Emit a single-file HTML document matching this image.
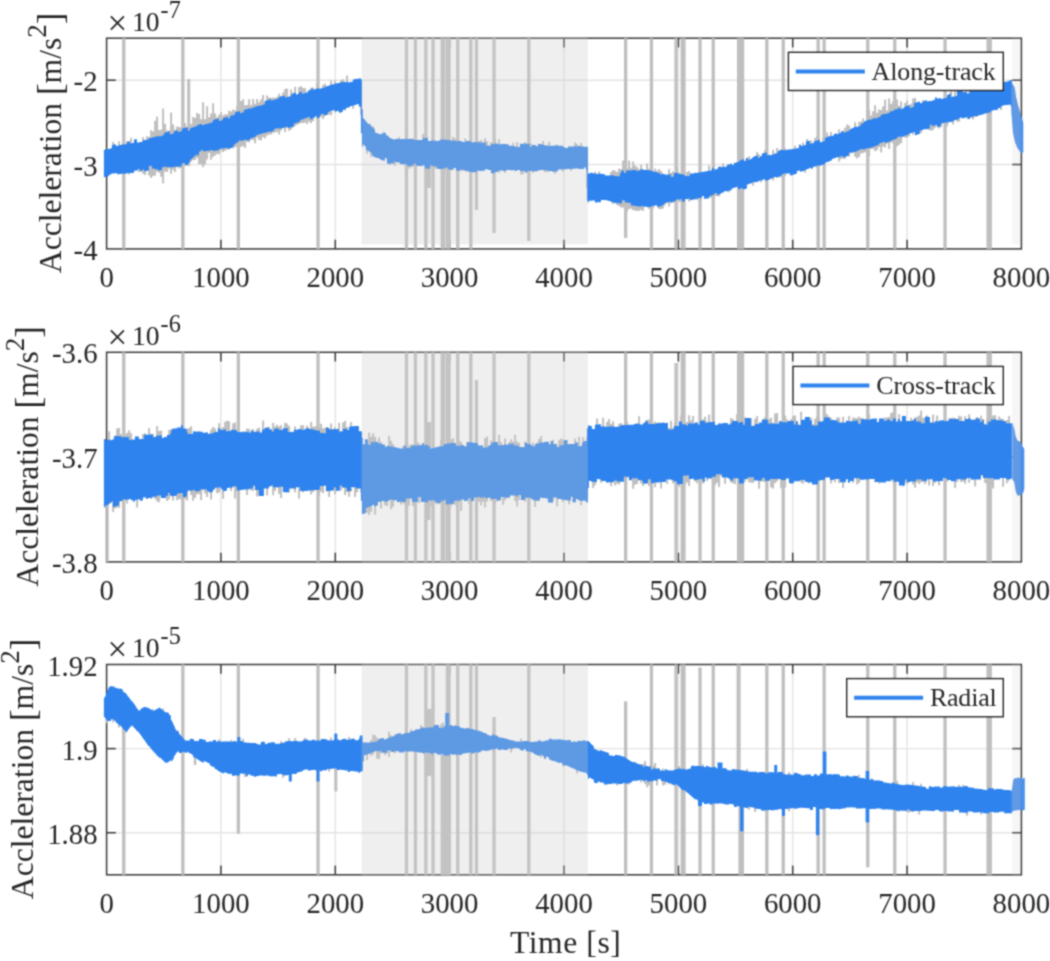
<!DOCTYPE html>
<html lang="en"><head><meta charset="utf-8"><title>Acceleration</title>
<style>html,body{margin:0;padding:0;background:#fff}svg{display:block}</style></head>
<body>
<svg width="1050" height="961" viewBox="0 0 1050 961" font-family="'Liberation Serif', 'Times New Roman', serif" fill="#262626">
<defs><filter id="soft" x="0" y="0" width="100%" height="100%" filterUnits="userSpaceOnUse" color-interpolation-filters="sRGB"><feConvolveMatrix order="3" kernelMatrix="1 2 1 2 6 2 1 2 1" divisor="18" edgeMode="duplicate" preserveAlpha="true"/></filter></defs>
<g filter="url(#soft)">
<rect width="1050" height="961" fill="#fff"/>
<g>
<line x1="220.9" x2="220.9" y1="38.2" y2="248.9" stroke="#E4E4E4" stroke-width="1.4"/>
<line x1="335.3" x2="335.3" y1="38.2" y2="248.9" stroke="#E4E4E4" stroke-width="1.4"/>
<line x1="449.6" x2="449.6" y1="38.2" y2="248.9" stroke="#E4E4E4" stroke-width="1.4"/>
<line x1="564.0" x2="564.0" y1="38.2" y2="248.9" stroke="#E4E4E4" stroke-width="1.4"/>
<line x1="678.4" x2="678.4" y1="38.2" y2="248.9" stroke="#E4E4E4" stroke-width="1.4"/>
<line x1="792.7" x2="792.7" y1="38.2" y2="248.9" stroke="#E4E4E4" stroke-width="1.4"/>
<line x1="907.1" x2="907.1" y1="38.2" y2="248.9" stroke="#E4E4E4" stroke-width="1.4"/>
<line x1="106.6" x2="1021.4" y1="80.2" y2="80.2" stroke="#E4E4E4" stroke-width="1.4"/>
<line x1="106.6" x2="1021.4" y1="164.5" y2="164.5" stroke="#E4E4E4" stroke-width="1.4"/>
<rect x="106.6" y="38.2" width="914.8" height="210.7" fill="none" stroke="#3a3a3a" stroke-width="1.5"/>
<line x1="220.9" x2="220.9" y1="248.9" y2="239.7" stroke="#3a3a3a" stroke-width="1.5"/>
<line x1="220.9" x2="220.9" y1="38.2" y2="47.4" stroke="#3a3a3a" stroke-width="1.5"/>
<line x1="335.3" x2="335.3" y1="248.9" y2="239.7" stroke="#3a3a3a" stroke-width="1.5"/>
<line x1="335.3" x2="335.3" y1="38.2" y2="47.4" stroke="#3a3a3a" stroke-width="1.5"/>
<line x1="449.6" x2="449.6" y1="248.9" y2="239.7" stroke="#3a3a3a" stroke-width="1.5"/>
<line x1="449.6" x2="449.6" y1="38.2" y2="47.4" stroke="#3a3a3a" stroke-width="1.5"/>
<line x1="564.0" x2="564.0" y1="248.9" y2="239.7" stroke="#3a3a3a" stroke-width="1.5"/>
<line x1="564.0" x2="564.0" y1="38.2" y2="47.4" stroke="#3a3a3a" stroke-width="1.5"/>
<line x1="678.4" x2="678.4" y1="248.9" y2="239.7" stroke="#3a3a3a" stroke-width="1.5"/>
<line x1="678.4" x2="678.4" y1="38.2" y2="47.4" stroke="#3a3a3a" stroke-width="1.5"/>
<line x1="792.7" x2="792.7" y1="248.9" y2="239.7" stroke="#3a3a3a" stroke-width="1.5"/>
<line x1="792.7" x2="792.7" y1="38.2" y2="47.4" stroke="#3a3a3a" stroke-width="1.5"/>
<line x1="907.1" x2="907.1" y1="248.9" y2="239.7" stroke="#3a3a3a" stroke-width="1.5"/>
<line x1="907.1" x2="907.1" y1="38.2" y2="47.4" stroke="#3a3a3a" stroke-width="1.5"/>
<line x1="106.6" x2="115.8" y1="80.2" y2="80.2" stroke="#3a3a3a" stroke-width="1.5"/>
<line x1="1021.4" x2="1012.2" y1="80.2" y2="80.2" stroke="#3a3a3a" stroke-width="1.5"/>
<line x1="106.6" x2="115.8" y1="164.5" y2="164.5" stroke="#3a3a3a" stroke-width="1.5"/>
<line x1="1021.4" x2="1012.2" y1="164.5" y2="164.5" stroke="#3a3a3a" stroke-width="1.5"/>
<rect x="122.1" y="38.2" width="3.3" height="210.7" fill="#BFBFBF"/>
<rect x="181.2" y="38.2" width="3.3" height="210.7" fill="#BFBFBF"/>
<rect x="236.7" y="38.2" width="3.3" height="210.7" fill="#BFBFBF"/>
<rect x="316.4" y="38.2" width="3.3" height="210.7" fill="#BFBFBF"/>
<rect x="404.8" y="38.2" width="3.3" height="210.7" fill="#BFBFBF"/>
<rect x="413.8" y="38.2" width="3.3" height="210.7" fill="#BFBFBF"/>
<rect x="424.2" y="38.2" width="3.3" height="210.7" fill="#BFBFBF"/>
<rect x="431.4" y="38.2" width="3.3" height="210.7" fill="#BFBFBF"/>
<rect x="440.6" y="38.2" width="4.8" height="210.7" fill="#BFBFBF"/>
<rect x="445.8" y="38.2" width="4.8" height="210.7" fill="#BFBFBF"/>
<rect x="456.1" y="38.2" width="3.3" height="210.7" fill="#BFBFBF"/>
<rect x="469.2" y="38.2" width="3.3" height="210.7" fill="#BFBFBF"/>
<rect x="474.8" y="38.2" width="3.3" height="171.8" fill="#BFBFBF"/>
<rect x="492.4" y="38.2" width="3.3" height="194.8" fill="#BFBFBF"/>
<rect x="527.2" y="38.2" width="3.3" height="202.8" fill="#BFBFBF"/>
<rect x="624.0" y="38.2" width="3.3" height="199.8" fill="#BFBFBF"/>
<rect x="649.8" y="38.2" width="3.3" height="210.7" fill="#BFBFBF"/>
<rect x="674.4" y="38.2" width="3.3" height="210.7" fill="#BFBFBF"/>
<rect x="680.6" y="38.2" width="5.0" height="210.7" fill="#BFBFBF"/>
<rect x="698.4" y="38.2" width="3.3" height="210.7" fill="#BFBFBF"/>
<rect x="711.6" y="38.2" width="3.3" height="210.7" fill="#BFBFBF"/>
<rect x="737.0" y="38.2" width="7.2" height="210.7" fill="#BFBFBF"/>
<rect x="765.2" y="38.2" width="3.3" height="210.7" fill="#BFBFBF"/>
<rect x="781.6" y="38.2" width="3.3" height="210.7" fill="#BFBFBF"/>
<rect x="816.5" y="38.2" width="3.3" height="210.7" fill="#BFBFBF"/>
<rect x="822.5" y="38.2" width="3.3" height="210.7" fill="#BFBFBF"/>
<rect x="866.1" y="38.2" width="3.3" height="210.7" fill="#BFBFBF"/>
<rect x="893.1" y="38.2" width="3.3" height="210.7" fill="#BFBFBF"/>
<rect x="943.4" y="38.2" width="3.3" height="210.7" fill="#BFBFBF"/>
<rect x="986.5" y="38.2" width="5.4" height="210.7" fill="#BFBFBF"/>
<rect x="187.2" y="79.0" width="3.0" height="71.0" fill="#BFBFBF"/>
<rect x="424.9" y="150.0" width="6.0" height="38.0" fill="#BFBFBF"/>
<polygon points="106.1,151.1 108.1,151.1 108.1,150.6 110.1,150.6 110.1,150.0 112.1,150.0 112.1,141.8 114.1,141.8 114.1,149.0 116.1,149.0 116.1,148.4 118.1,148.4 118.1,141.3 120.1,141.3 120.1,147.3 122.1,147.3 122.1,146.8 124.1,146.8 124.1,146.3 126.1,146.3 126.1,141.2 128.1,141.2 128.1,141.1 130.1,141.1 130.1,137.8 132.1,137.8 132.1,145.0 134.1,145.0 134.1,144.7 136.1,144.7 136.1,144.4 138.1,144.4 138.1,144.1 140.1,144.1 140.1,143.8 142.1,143.8 142.1,137.3 144.1,137.3 144.1,143.2 146.1,143.2 146.1,136.2 148.1,136.2 148.1,136.9 150.1,136.9 150.1,130.2 152.1,130.2 152.1,131.6 154.1,131.6 154.1,120.8 156.1,120.8 156.1,116.6 158.1,116.6 158.1,130.1 160.1,130.1 160.1,129.8 162.1,129.8 162.1,108.4 164.1,108.4 164.1,123.8 166.1,123.8 166.1,130.4 168.1,130.4 168.1,130.4 170.1,130.4 170.1,112.6 172.1,112.6 172.1,124.4 174.1,124.4 174.1,129.7 176.1,129.7 176.1,126.6 178.1,126.6 178.1,126.9 180.1,126.9 180.1,127.4 182.1,127.4 182.1,123.1 184.1,123.1 184.1,122.9 186.1,122.9 186.1,127.2 188.1,127.2 188.1,126.4 190.1,126.4 190.1,124.1 192.1,124.1 192.1,117.1 194.1,117.1 194.1,117.9 196.1,117.9 196.1,112.9 198.1,112.9 198.1,114.0 200.1,114.0 200.1,119.2 202.1,119.2 202.1,102.3 204.1,102.3 204.1,119.2 206.1,119.2 206.1,106.2 208.1,106.2 208.1,117.3 210.1,117.3 210.1,113.4 212.1,113.4 212.1,103.2 214.1,103.2 214.1,113.4 216.1,113.4 216.1,117.2 218.1,117.2 218.1,114.7 220.1,114.7 220.1,111.9 222.1,111.9 222.1,115.6 224.1,115.6 224.1,114.3 226.1,114.3 226.1,114.4 228.1,114.4 228.1,110.7 230.1,110.7 230.1,111.4 232.1,111.4 232.1,109.5 234.1,109.5 234.1,110.5 236.1,110.5 236.1,106.2 238.1,106.2 238.1,109.8 240.1,109.8 240.1,100.9 242.1,100.9 242.1,99.3 244.1,99.3 244.1,105.3 246.1,105.3 246.1,104.9 248.1,104.9 248.1,99.2 250.1,99.2 250.1,105.0 252.1,105.0 252.1,99.0 254.1,99.0 254.1,103.7 256.1,103.7 256.1,99.1 258.1,99.1 258.1,102.2 260.1,102.2 260.1,99.3 262.1,99.3 262.1,94.9 264.1,94.9 264.1,101.3 266.1,101.3 266.1,95.5 268.1,95.5 268.1,97.6 270.1,97.6 270.1,98.1 272.1,98.1 272.1,97.6 274.1,97.6 274.1,97.9 276.1,97.9 276.1,96.7 278.1,96.7 278.1,93.8 280.1,93.8 280.1,95.9 282.1,95.9 282.1,92.4 284.1,92.4 284.1,89.1 286.1,89.1 286.1,88.5 288.1,88.5 288.1,98.8 290.1,98.8 290.1,89.4 292.1,89.4 292.1,92.8 294.1,92.8 294.1,86.8 296.1,86.8 296.1,96.8 298.1,96.8 298.1,86.9 300.1,86.9 300.1,86.3 302.1,86.3 302.1,88.0 304.1,88.0 304.1,88.3 306.1,88.3 306.1,94.3 308.1,94.3 308.1,93.7 310.1,93.7 310.1,87.7 312.1,87.7 312.1,87.6 314.1,87.6 314.1,91.9 316.1,91.9 316.1,82.8 318.1,82.8 318.1,90.7 320.1,90.7 320.1,90.1 322.1,90.1 322.1,84.8 324.1,84.8 324.1,83.8 326.1,83.8 326.1,88.3 328.1,88.3 328.1,87.7 330.1,87.7 330.1,80.5 332.1,80.5 332.1,86.7 334.1,86.7 334.1,80.6 336.1,80.6 336.1,85.9 338.1,85.9 338.1,85.5 340.1,85.5 340.1,80.0 342.1,80.0 342.1,79.2 344.1,79.2 344.1,84.3 346.1,84.3 346.1,75.6 348.1,75.6 348.1,83.5 350.1,83.5 350.1,83.1 352.1,83.1 352.1,82.7 354.1,82.7 354.1,82.3 356.1,82.3 356.1,81.9 358.1,81.9 358.1,81.7 360.1,81.7 360.1,82.1 362.1,82.1 362.1,121.0 364.1,121.0 364.1,123.5 366.1,123.5 366.1,125.9 368.1,125.9 368.1,127.9 370.1,127.9 370.1,129.5 372.1,129.5 372.1,126.2 374.1,126.2 374.1,132.8 376.1,132.8 376.1,133.9 378.1,133.9 378.1,134.6 380.1,134.6 380.1,135.4 382.1,135.4 382.1,136.2 384.1,136.2 384.1,137.0 386.1,137.0 386.1,137.8 388.1,137.8 388.1,138.6 390.1,138.6 390.1,139.4 392.1,139.4 392.1,140.2 394.1,140.2 394.1,140.9 396.1,140.9 396.1,141.4 398.1,141.4 398.1,136.9 400.1,136.9 400.1,141.6 402.1,141.6 402.1,141.7 404.1,141.7 404.1,141.8 406.1,141.8 406.1,134.3 408.1,134.3 408.1,142.0 410.1,142.0 410.1,142.1 412.1,142.1 412.1,142.2 414.1,142.2 414.1,142.3 416.1,142.3 416.1,142.4 418.1,142.4 418.1,142.5 420.1,142.5 420.1,142.5 422.1,142.5 422.1,134.0 424.1,134.0 424.1,135.8 426.1,135.8 426.1,137.1 428.1,137.1 428.1,142.4 430.1,142.4 430.1,142.4 432.1,142.4 432.1,137.7 434.1,137.7 434.1,142.3 436.1,142.3 436.1,142.3 438.1,142.3 438.1,142.3 440.1,142.3 440.1,142.4 442.1,142.4 442.1,142.6 444.1,142.6 444.1,142.8 446.1,142.8 446.1,143.0 448.1,143.0 448.1,143.2 450.1,143.2 450.1,143.4 452.1,143.4 452.1,137.0 454.1,137.0 454.1,138.5 456.1,138.5 456.1,143.9 458.1,143.9 458.1,144.1 460.1,144.1 460.1,144.3 462.1,144.3 462.1,144.5 464.1,144.5 464.1,138.6 466.1,138.6 466.1,144.9 468.1,144.9 468.1,145.1 470.1,145.1 470.1,145.3 472.1,145.3 472.1,145.5 474.1,145.5 474.1,145.7 476.1,145.7 476.1,140.7 478.1,140.7 478.1,141.1 480.1,141.1 480.1,140.0 482.1,140.0 482.1,146.2 484.1,146.2 484.1,138.2 486.1,138.2 486.1,141.3 488.1,141.3 488.1,146.4 490.1,146.4 490.1,142.0 492.1,142.0 492.1,146.6 494.1,146.6 494.1,138.4 496.1,138.4 496.1,146.7 498.1,146.7 498.1,139.2 500.1,139.2 500.1,146.9 502.1,146.9 502.1,147.0 504.1,147.0 504.1,147.0 506.1,147.0 506.1,147.1 508.1,147.1 508.1,147.2 510.1,147.2 510.1,147.3 512.1,147.3 512.1,142.8 514.1,142.8 514.1,147.4 516.1,147.4 516.1,142.1 518.1,142.1 518.1,147.6 520.1,147.6 520.1,147.7 522.1,147.7 522.1,147.7 524.1,147.7 524.1,142.0 526.1,142.0 526.1,147.9 528.1,147.9 528.1,148.0 530.1,148.0 530.1,143.5 532.1,143.5 532.1,148.1 534.1,148.1 534.1,148.2 536.1,148.2 536.1,148.3 538.1,148.3 538.1,148.4 540.1,148.4 540.1,148.4 542.1,148.4 542.1,140.9 544.1,140.9 544.1,148.6 546.1,148.6 546.1,148.7 548.1,148.7 548.1,141.7 550.1,141.7 550.1,148.8 552.1,148.8 552.1,148.9 554.1,148.9 554.1,149.0 556.1,149.0 556.1,144.4 558.1,144.4 558.1,149.1 560.1,149.1 560.1,149.2 562.1,149.2 562.1,149.3 564.1,149.3 564.1,149.4 566.1,149.4 566.1,149.5 568.1,149.5 568.1,149.5 570.1,149.5 570.1,149.6 572.1,149.6 572.1,149.7 574.1,149.7 574.1,142.5 576.1,142.5 576.1,144.0 578.1,144.0 578.1,149.9 580.1,149.9 580.1,143.1 582.1,143.1 582.1,149.5 584.1,149.5 584.1,149.0 586.1,149.0 586.1,148.9 588.1,148.9 588.1,175.7 590.1,175.7 590.1,175.7 592.1,175.7 592.1,175.9 594.1,175.9 594.1,171.7 596.1,171.7 596.1,176.5 598.1,176.5 598.1,171.6 600.1,171.6 600.1,177.1 602.1,177.1 602.1,177.4 604.1,177.4 604.1,177.7 606.1,177.7 606.1,177.9 608.1,177.9 608.1,177.9 610.1,177.9 610.1,171.7 612.1,171.7 612.1,169.9 614.1,169.9 614.1,170.8 616.1,170.8 616.1,171.9 618.1,171.9 618.1,168.8 620.1,168.8 620.1,168.9 622.1,168.9 622.1,160.5 624.1,160.5 624.1,167.9 626.1,167.9 626.1,168.6 628.1,168.6 628.1,160.4 630.1,160.4 630.1,167.7 632.1,167.7 632.1,161.6 634.1,161.6 634.1,165.6 636.1,165.6 636.1,167.0 638.1,167.0 638.1,169.3 640.1,169.3 640.1,164.8 642.1,164.8 642.1,169.4 644.1,169.4 644.1,174.3 646.1,174.3 646.1,163.5 648.1,163.5 648.1,168.8 650.1,168.8 650.1,169.8 652.1,169.8 652.1,175.3 654.1,175.3 654.1,168.5 656.1,168.5 656.1,170.7 658.1,170.7 658.1,169.0 660.1,169.0 660.1,171.1 662.1,171.1 662.1,177.2 664.1,177.2 664.1,177.8 666.1,177.8 666.1,178.4 668.1,178.4 668.1,169.2 670.1,169.2 670.1,173.0 672.1,173.0 672.1,171.3 674.1,171.3 674.1,177.2 676.1,177.2 676.1,167.0 678.1,167.0 678.1,172.3 680.1,172.3 680.1,177.0 682.1,177.0 682.1,177.0 684.1,177.0 684.1,177.0 686.1,177.0 686.1,172.1 688.1,172.1 688.1,171.0 690.1,171.0 690.1,177.0 692.1,177.0 692.1,177.0 694.1,177.0 694.1,176.5 696.1,176.5 696.1,175.9 698.1,175.9 698.1,175.3 700.1,175.3 700.1,174.8 702.1,174.8 702.1,174.5 704.1,174.5 704.1,174.2 706.1,174.2 706.1,173.9 708.1,173.9 708.1,165.6 710.1,165.6 710.1,173.3 712.1,173.3 712.1,173.0 714.1,173.0 714.1,172.5 716.1,172.5 716.1,171.9 718.1,171.9 718.1,171.3 720.1,171.3 720.1,170.7 722.1,170.7 722.1,163.6 724.1,163.6 724.1,169.5 726.1,169.5 726.1,168.9 728.1,168.9 728.1,168.3 730.1,168.3 730.1,167.6 732.1,167.6 732.1,167.0 734.1,167.0 734.1,166.4 736.1,166.4 736.1,165.7 738.1,165.7 738.1,165.1 740.1,165.1 740.1,164.4 742.1,164.4 742.1,158.6 744.1,158.6 744.1,163.2 746.1,163.2 746.1,162.5 748.1,162.5 748.1,156.2 750.1,156.2 750.1,161.3 752.1,161.3 752.1,160.8 754.1,160.8 754.1,160.3 756.1,160.3 756.1,151.9 758.1,151.9 758.1,154.2 760.1,154.2 760.1,158.8 762.1,158.8 762.1,153.7 764.1,153.7 764.1,149.9 766.1,149.9 766.1,157.3 768.1,157.3 768.1,156.8 770.1,156.8 770.1,156.3 772.1,156.3 772.1,149.7 774.1,149.7 774.1,155.3 776.1,155.3 776.1,148.0 778.1,148.0 778.1,154.3 780.1,154.3 780.1,149.2 782.1,149.2 782.1,153.3 784.1,153.3 784.1,148.3 786.1,148.3 786.1,152.3 788.1,152.3 788.1,151.8 790.1,151.8 790.1,151.3 792.1,151.3 792.1,150.8 794.1,150.8 794.1,145.8 796.1,145.8 796.1,149.8 798.1,149.8 798.1,149.3 800.1,149.3 800.1,148.8 802.1,148.8 802.1,142.4 804.1,142.4 804.1,147.6 806.1,147.6 806.1,138.9 808.1,138.9 808.1,141.7 810.1,141.7 810.1,140.5 812.1,140.5 812.1,145.2 814.1,145.2 814.1,137.9 816.1,137.9 816.1,135.9 818.1,135.9 818.1,143.4 820.1,143.4 820.1,142.8 822.1,142.8 822.1,137.7 824.1,137.7 824.1,141.6 826.1,141.6 826.1,132.4 828.1,132.4 828.1,140.2 830.1,140.2 830.1,132.0 832.1,132.0 832.1,138.5 834.1,138.5 834.1,137.7 836.1,137.7 836.1,136.9 838.1,136.9 838.1,129.3 840.1,129.3 840.1,135.2 842.1,135.2 842.1,134.4 844.1,134.4 844.1,127.7 846.1,127.7 846.1,124.5 848.1,124.5 848.1,125.4 850.1,125.4 850.1,131.1 852.1,131.1 852.1,130.2 854.1,130.2 854.1,122.2 856.1,122.2 856.1,128.6 858.1,128.6 858.1,122.0 860.1,122.0 860.1,121.5 862.1,121.5 862.1,118.6 864.1,118.6 864.1,125.3 866.1,125.3 866.1,111.1 868.1,111.1 868.1,109.7 870.1,109.7 870.1,115.6 872.1,115.6 872.1,111.3 874.1,111.3 874.1,105.2 876.1,105.2 876.1,112.7 878.1,112.7 878.1,109.5 880.1,109.5 880.1,110.1 882.1,110.1 882.1,106.3 884.1,106.3 884.1,99.6 886.1,99.6 886.1,110.6 888.1,110.6 888.1,98.6 890.1,98.6 890.1,103.9 892.1,103.9 892.1,101.3 894.1,101.3 894.1,103.5 896.1,103.5 896.1,99.4 898.1,99.4 898.1,105.9 900.1,105.9 900.1,101.4 902.1,101.4 902.1,111.3 904.1,111.3 904.1,102.9 906.1,102.9 906.1,100.7 908.1,100.7 908.1,109.3 910.1,109.3 910.1,103.7 912.1,103.7 912.1,98.5 914.1,98.5 914.1,98.0 916.1,98.0 916.1,106.7 918.1,106.7 918.1,106.1 920.1,106.1 920.1,105.4 922.1,105.4 922.1,100.1 924.1,100.1 924.1,104.1 926.1,104.1 926.1,103.5 928.1,103.5 928.1,102.8 930.1,102.8 930.1,102.1 932.1,102.1 932.1,101.5 934.1,101.5 934.1,100.9 936.1,100.9 936.1,100.5 938.1,100.5 938.1,100.1 940.1,100.1 940.1,99.8 942.1,99.8 942.1,99.4 944.1,99.4 944.1,93.1 946.1,93.1 946.1,98.6 948.1,98.6 948.1,98.2 950.1,98.2 950.1,90.0 952.1,90.0 952.1,97.4 954.1,97.4 954.1,90.0 956.1,90.0 956.1,96.6 958.1,96.6 958.1,96.2 960.1,96.2 960.1,95.8 962.1,95.8 962.1,95.4 964.1,95.4 964.1,95.0 966.1,95.0 966.1,94.6 968.1,94.6 968.1,87.6 970.1,87.6 970.1,93.8 972.1,93.8 972.1,93.4 974.1,93.4 974.1,93.0 976.1,93.0 976.1,86.1 978.1,86.1 978.1,92.2 980.1,92.2 980.1,91.8 982.1,91.8 982.1,91.4 984.1,91.4 984.1,85.1 986.1,85.1 986.1,90.5 988.1,90.5 988.1,84.4 990.1,84.4 990.1,84.8 992.1,84.8 992.1,89.0 994.1,89.0 994.1,84.0 996.1,84.0 996.1,88.0 998.1,88.0 998.1,87.5 1000.1,87.5 1000.1,87.0 1002.1,87.0 1002.1,86.5 1004.1,86.5 1004.1,86.0 1006.1,86.0 1006.1,85.5 1008.1,85.5 1008.1,85.1 1010.1,85.1 1010.1,104.1 1008.1,104.1 1008.1,104.1 1006.1,104.1 1006.1,104.4 1004.1,104.4 1004.1,104.9 1002.1,104.9 1002.1,110.0 1000.1,110.0 1000.1,105.9 998.1,105.9 998.1,106.4 996.1,106.4 996.1,106.9 994.1,106.9 994.1,107.4 992.1,107.4 992.1,114.0 990.1,114.0 990.1,108.4 988.1,108.4 988.1,108.9 986.1,108.9 986.1,109.5 984.1,109.5 984.1,114.6 982.1,114.6 982.1,114.9 980.1,114.9 980.1,111.1 978.1,111.1 978.1,116.5 976.1,116.5 976.1,116.7 974.1,116.7 974.1,119.4 972.1,119.4 972.1,117.9 970.1,117.9 970.1,113.9 968.1,113.9 968.1,118.8 966.1,118.8 966.1,115.0 964.1,115.0 964.1,115.5 962.1,115.5 962.1,116.0 960.1,116.0 960.1,121.8 958.1,121.8 958.1,121.6 956.1,121.6 956.1,117.7 954.1,117.7 954.1,124.4 952.1,124.4 952.1,118.8 950.1,118.8 950.1,119.3 948.1,119.3 948.1,126.4 946.1,126.4 946.1,126.8 944.1,126.8 944.1,121.0 942.1,121.0 942.1,126.9 940.1,126.9 940.1,128.6 938.1,128.6 938.1,122.6 936.1,122.6 936.1,127.8 934.1,127.8 934.1,129.9 932.1,129.9 932.1,130.8 930.1,130.8 930.1,129.9 928.1,129.9 928.1,125.7 926.1,125.7 926.1,126.4 924.1,126.4 924.1,127.0 922.1,127.0 922.1,133.1 920.1,133.1 920.1,128.3 918.1,128.3 918.1,129.0 916.1,129.0 916.1,129.6 914.1,129.6 914.1,134.8 912.1,134.8 912.1,130.9 910.1,130.9 910.1,136.2 908.1,136.2 908.1,138.1 906.1,138.1 906.1,137.5 904.1,137.5 904.1,133.5 902.1,133.5 902.1,143.2 900.1,143.2 900.1,144.8 898.1,144.8 898.1,146.2 896.1,146.2 896.1,146.5 894.1,146.5 894.1,143.0 892.1,143.0 892.1,142.4 890.1,142.4 890.1,149.1 888.1,149.1 888.1,143.8 886.1,143.8 886.1,147.4 884.1,147.4 884.1,146.5 882.1,146.5 882.1,152.6 880.1,152.6 880.1,147.1 878.1,147.1 878.1,150.0 876.1,150.0 876.1,151.3 874.1,151.3 874.1,148.8 872.1,148.8 872.1,149.1 870.1,149.1 870.1,156.0 868.1,156.0 868.1,150.9 866.1,150.9 866.1,152.3 864.1,152.3 864.1,153.1 862.1,153.1 862.1,153.6 860.1,153.6 860.1,157.0 858.1,157.0 858.1,158.5 856.1,158.5 856.1,156.7 854.1,156.7 854.1,150.4 852.1,150.4 852.1,151.1 850.1,151.1 850.1,156.6 848.1,156.6 848.1,152.5 846.1,152.5 846.1,158.7 844.1,158.7 844.1,158.5 842.1,158.5 842.1,159.0 840.1,159.0 840.1,161.6 838.1,161.6 838.1,155.9 836.1,155.9 836.1,156.6 834.1,156.6 834.1,157.3 832.1,157.3 832.1,158.0 830.1,158.0 830.1,158.7 828.1,158.7 828.1,159.4 826.1,159.4 826.1,160.1 824.1,160.1 824.1,160.8 822.1,160.8 822.1,161.5 820.1,161.5 820.1,162.2 818.1,162.2 818.1,167.8 816.1,167.8 816.1,163.6 814.1,163.6 814.1,164.3 812.1,164.3 812.1,165.0 810.1,165.0 810.1,165.7 808.1,165.7 808.1,166.4 806.1,166.4 806.1,172.8 804.1,172.8 804.1,167.8 802.1,167.8 802.1,168.5 800.1,168.5 800.1,168.9 798.1,168.9 798.1,169.3 796.1,169.3 796.1,169.7 794.1,169.7 794.1,170.1 792.1,170.1 792.1,174.9 790.1,174.9 790.1,170.9 788.1,170.9 788.1,171.3 786.1,171.3 786.1,176.0 784.1,176.0 784.1,172.1 782.1,172.1 782.1,172.5 780.1,172.5 780.1,177.5 778.1,177.5 778.1,177.8 776.1,177.8 776.1,173.8 774.1,173.8 774.1,180.4 772.1,180.4 772.1,175.0 770.1,175.0 770.1,175.6 768.1,175.6 768.1,181.7 766.1,181.7 766.1,176.8 764.1,176.8 764.1,177.4 762.1,177.4 762.1,182.3 760.1,182.3 760.1,178.6 758.1,178.6 758.1,179.2 756.1,179.2 756.1,179.8 754.1,179.8 754.1,185.8 752.1,185.8 752.1,181.0 750.1,181.0 750.1,181.6 748.1,181.6 748.1,182.2 746.1,182.2 746.1,182.9 744.1,182.9 744.1,183.5 742.1,183.5 742.1,184.1 740.1,184.1 740.1,184.8 738.1,184.8 738.1,185.4 736.1,185.4 736.1,186.1 734.1,186.1 734.1,186.7 732.1,186.7 732.1,187.3 730.1,187.3 730.1,192.3 728.1,192.3 728.1,188.6 726.1,188.6 726.1,189.2 724.1,189.2 724.1,189.8 722.1,189.8 722.1,190.3 720.1,190.3 720.1,196.6 718.1,196.6 718.1,196.0 716.1,196.0 716.1,196.3 714.1,196.3 714.1,192.3 712.1,192.3 712.1,197.6 710.1,197.6 710.1,197.8 708.1,197.8 708.1,193.0 706.1,193.0 706.1,193.2 704.1,193.2 704.1,193.4 702.1,193.4 702.1,200.1 700.1,200.1 700.1,193.9 698.1,193.9 698.1,199.9 696.1,199.9 696.1,194.7 694.1,194.7 694.1,195.0 692.1,195.0 692.1,195.4 690.1,195.4 690.1,201.5 688.1,201.5 688.1,196.2 686.1,196.2 686.1,196.5 684.1,196.5 684.1,201.5 682.1,201.5 682.1,202.3 680.1,202.3 680.1,201.7 678.1,201.7 678.1,197.4 676.1,197.4 676.1,202.5 674.1,202.5 674.1,202.8 672.1,202.8 672.1,203.2 670.1,203.2 670.1,206.6 668.1,206.6 668.1,199.8 666.1,199.8 666.1,205.0 664.1,205.0 664.1,208.4 662.1,208.4 662.1,209.0 660.1,209.0 660.1,209.1 658.1,209.1 658.1,202.9 656.1,202.9 656.1,203.6 654.1,203.6 654.1,208.5 652.1,208.5 652.1,208.9 650.1,208.9 650.1,209.1 648.1,209.1 648.1,204.3 646.1,204.3 646.1,204.1 644.1,204.1 644.1,210.7 642.1,210.7 642.1,210.1 640.1,210.1 640.1,210.7 638.1,210.7 638.1,211.0 636.1,211.0 636.1,210.4 634.1,210.4 634.1,210.3 632.1,210.3 632.1,208.6 630.1,208.6 630.1,208.9 628.1,208.9 628.1,211.2 626.1,211.2 626.1,206.6 624.1,206.6 624.1,207.6 622.1,207.6 622.1,207.6 620.1,207.6 620.1,205.9 618.1,205.9 618.1,205.1 616.1,205.1 616.1,199.8 614.1,199.8 614.1,203.9 612.1,203.9 612.1,198.8 610.1,198.8 610.1,198.3 608.1,198.3 608.1,197.8 606.1,197.8 606.1,197.8 604.1,197.8 604.1,197.8 602.1,197.8 602.1,197.9 600.1,197.9 600.1,198.0 598.1,198.0 598.1,198.1 596.1,198.1 596.1,198.2 594.1,198.2 594.1,198.3 592.1,198.3 592.1,198.3 590.1,198.3 590.1,198.3 588.1,198.3 588.1,187.7 586.1,187.7 586.1,165.9 584.1,165.9 584.1,165.9 582.1,165.9 582.1,165.9 580.1,165.9 580.1,166.0 578.1,166.0 578.1,166.1 576.1,166.1 576.1,166.2 574.1,166.2 574.1,166.3 572.1,166.3 572.1,170.7 570.1,170.7 570.1,166.5 568.1,166.5 568.1,166.6 566.1,166.6 566.1,166.7 564.1,166.7 564.1,171.5 562.1,171.5 562.1,166.9 560.1,166.9 560.1,167.0 558.1,167.0 558.1,167.1 556.1,167.1 556.1,173.7 554.1,173.7 554.1,167.3 552.1,167.3 552.1,167.4 550.1,167.4 550.1,167.5 548.1,167.5 548.1,172.3 546.1,172.3 546.1,172.0 544.1,172.0 544.1,167.8 542.1,167.8 542.1,167.9 540.1,167.9 540.1,168.0 538.1,168.0 538.1,168.1 536.1,168.1 536.1,168.2 534.1,168.2 534.1,172.8 532.1,172.8 532.1,168.3 530.1,168.3 530.1,174.4 528.1,174.4 528.1,173.3 526.1,173.3 526.1,168.4 524.1,168.4 524.1,174.2 522.1,174.2 522.1,174.4 520.1,174.4 520.1,168.3 518.1,168.3 518.1,168.3 516.1,168.3 516.1,168.3 514.1,168.3 514.1,168.3 512.1,168.3 512.1,168.3 510.1,168.3 510.1,168.2 508.1,168.2 508.1,168.2 506.1,168.2 506.1,172.7 504.1,172.7 504.1,168.2 502.1,168.2 502.1,168.2 500.1,168.2 500.1,173.0 498.1,173.0 498.1,168.1 496.1,168.1 496.1,168.1 494.1,168.1 494.1,168.1 492.1,168.1 492.1,168.1 490.1,168.1 490.1,168.1 488.1,168.1 488.1,168.1 486.1,168.1 486.1,168.1 484.1,168.1 484.1,168.0 482.1,168.0 482.1,168.0 480.1,168.0 480.1,168.0 478.1,168.0 478.1,167.9 476.1,167.9 476.1,167.7 474.1,167.7 474.1,167.5 472.1,167.5 472.1,167.3 470.1,167.3 470.1,167.2 468.1,167.2 468.1,171.9 466.1,171.9 466.1,166.8 464.1,166.8 464.1,166.6 462.1,166.6 462.1,171.3 460.1,171.3 460.1,166.3 458.1,166.3 458.1,171.5 456.1,171.5 456.1,165.9 454.1,165.9 454.1,170.1 452.1,170.1 452.1,165.6 450.1,165.6 450.1,165.4 448.1,165.4 448.1,165.2 446.1,165.2 446.1,165.0 444.1,165.0 444.1,171.5 442.1,171.5 442.1,164.7 440.1,164.7 440.1,164.5 438.1,164.5 438.1,168.7 436.1,168.7 436.1,168.5 434.1,168.5 434.1,164.0 432.1,164.0 432.1,168.5 430.1,168.5 430.1,163.7 428.1,163.7 428.1,163.6 426.1,163.6 426.1,163.4 424.1,163.4 424.1,163.2 422.1,163.2 422.1,163.1 420.1,163.1 420.1,162.9 418.1,162.9 418.1,162.7 416.1,162.7 416.1,162.5 414.1,162.5 414.1,166.6 412.1,166.6 412.1,167.6 410.1,167.6 410.1,168.6 408.1,168.6 408.1,161.8 406.1,161.8 406.1,161.6 404.1,161.6 404.1,161.4 402.1,161.4 402.1,161.2 400.1,161.2 400.1,161.0 398.1,161.0 398.1,160.8 396.1,160.8 396.1,165.8 394.1,165.8 394.1,159.8 392.1,159.8 392.1,159.2 390.1,159.2 390.1,158.5 388.1,158.5 388.1,157.9 386.1,157.9 386.1,157.3 384.1,157.3 384.1,156.6 382.1,156.6 382.1,156.0 380.1,156.0 380.1,155.4 378.1,155.4 378.1,154.7 376.1,154.7 376.1,153.8 374.1,153.8 374.1,152.2 372.1,152.2 372.1,156.7 370.1,156.7 370.1,148.9 368.1,148.9 368.1,153.7 366.1,153.7 366.1,145.2 364.1,145.2 364.1,143.2 362.1,143.2 362.1,114.8 360.1,114.8 360.1,101.5 358.1,101.5 358.1,101.6 356.1,101.6 356.1,102.2 354.1,102.2 354.1,108.8 352.1,108.8 352.1,103.4 350.1,103.4 350.1,104.0 348.1,104.0 348.1,104.6 346.1,104.6 346.1,110.4 344.1,110.4 344.1,105.8 342.1,105.8 342.1,112.5 340.1,112.5 340.1,111.6 338.1,111.6 338.1,107.6 336.1,107.6 336.1,112.5 334.1,112.5 334.1,108.8 332.1,108.8 332.1,115.2 330.1,115.2 330.1,114.4 328.1,114.4 328.1,115.1 326.1,115.1 326.1,116.0 324.1,116.0 324.1,119.1 322.1,119.1 322.1,116.8 320.1,116.8 320.1,117.5 318.1,117.5 318.1,119.2 316.1,119.2 316.1,114.2 314.1,114.2 314.1,121.1 312.1,121.1 312.1,123.3 310.1,123.3 310.1,121.6 308.1,121.6 308.1,124.1 306.1,124.1 306.1,122.4 304.1,122.4 304.1,122.9 302.1,122.9 302.1,123.1 300.1,123.1 300.1,123.8 298.1,123.8 298.1,124.7 296.1,124.7 296.1,126.0 294.1,126.0 294.1,127.6 292.1,127.6 292.1,129.4 290.1,129.4 290.1,130.8 288.1,130.8 288.1,128.1 286.1,128.1 286.1,132.1 284.1,132.1 284.1,124.9 282.1,124.9 282.1,130.6 280.1,130.6 280.1,134.6 278.1,134.6 278.1,131.8 276.1,131.8 276.1,132.5 274.1,132.5 274.1,132.8 272.1,132.8 272.1,134.5 270.1,134.5 270.1,134.5 268.1,134.5 268.1,135.5 266.1,135.5 266.1,138.2 264.1,138.2 264.1,137.1 262.1,137.1 262.1,140.2 260.1,140.2 260.1,140.1 258.1,140.1 258.1,137.6 256.1,137.6 256.1,143.2 254.1,143.2 254.1,139.9 252.1,139.9 252.1,139.8 250.1,139.8 250.1,142.2 248.1,142.2 248.1,141.7 246.1,141.7 246.1,148.0 244.1,148.0 244.1,146.0 242.1,146.0 242.1,146.8 240.1,146.8 240.1,149.1 238.1,149.1 238.1,146.6 236.1,146.6 236.1,147.1 234.1,147.1 234.1,148.5 232.1,148.5 232.1,147.9 230.1,147.9 230.1,149.2 228.1,149.2 228.1,149.7 226.1,149.7 226.1,150.8 224.1,150.8 224.1,152.1 222.1,152.1 222.1,150.4 220.1,150.4 220.1,154.3 218.1,154.3 218.1,154.0 216.1,154.0 216.1,155.5 214.1,155.5 214.1,156.7 212.1,156.7 212.1,159.8 210.1,159.8 210.1,153.1 208.1,153.1 208.1,159.6 206.1,159.6 206.1,164.5 204.1,164.5 204.1,167.3 202.1,167.3 202.1,164.6 200.1,164.6 200.1,164.2 198.1,164.2 198.1,157.7 196.1,157.7 196.1,160.0 194.1,160.0 194.1,159.9 192.1,159.9 192.1,161.8 190.1,161.8 190.1,165.9 188.1,165.9 188.1,165.8 186.1,165.8 186.1,165.6 184.1,165.6 184.1,166.5 182.1,166.5 182.1,167.9 180.1,167.9 180.1,168.5 178.1,168.5 178.1,167.1 176.1,167.1 176.1,172.0 174.1,172.0 174.1,169.7 172.1,169.7 172.1,173.8 170.1,173.8 170.1,168.7 168.1,168.7 168.1,171.9 166.1,171.9 166.1,171.4 164.1,171.4 164.1,183.6 162.1,183.6 162.1,176.8 160.1,176.8 160.1,172.8 158.1,172.8 158.1,171.4 156.1,171.4 156.1,175.6 154.1,175.6 154.1,176.0 152.1,176.0 152.1,178.0 150.1,178.0 150.1,175.5 148.1,175.5 148.1,166.5 146.1,166.5 146.1,175.1 144.1,175.1 144.1,173.8 142.1,173.8 142.1,167.4 140.1,167.4 140.1,172.1 138.1,172.1 138.1,168.0 136.1,168.0 136.1,168.3 134.1,168.3 134.1,173.2 132.1,173.2 132.1,168.9 130.1,168.9 130.1,174.4 128.1,174.4 128.1,169.5 126.1,169.5 126.1,169.8 124.1,169.8 124.1,170.1 122.1,170.1 122.1,170.3 120.1,170.3 120.1,170.6 118.1,170.6 118.1,170.9 116.1,170.9 116.1,171.1 114.1,171.1 114.1,171.4 112.1,171.4 112.1,171.7 110.1,171.7 110.1,171.9 108.1,171.9 108.1,172.2 106.1,172.2" fill="#BFBFBF"/>
<polygon points="103.9,150.1 104.9,150.1 104.9,149.3 105.9,149.3 105.9,149.6 106.9,149.6 106.9,149.3 107.9,149.3 107.9,149.0 108.9,149.0 108.9,148.8 109.9,148.8 109.9,148.5 110.9,148.5 110.9,148.2 111.9,148.2 111.9,145.0 112.9,145.0 112.9,144.7 113.9,144.7 113.9,144.4 114.9,144.4 114.9,144.2 115.9,144.2 115.9,146.1 116.9,146.1 116.9,145.8 117.9,145.8 117.9,145.5 118.9,145.5 118.9,145.2 119.9,145.2 119.9,145.0 120.9,145.0 120.9,144.8 121.9,144.8 121.9,144.5 122.9,144.5 122.9,144.2 123.9,144.2 123.9,144.6 124.9,144.6 124.9,144.3 125.9,144.3 125.9,144.1 126.9,144.1 126.9,141.8 127.9,141.8 127.9,141.7 128.9,141.7 128.9,141.5 129.9,141.5 129.9,143.4 130.9,143.4 130.9,143.3 131.9,143.3 131.9,143.1 132.9,143.1 132.9,143.0 133.9,143.0 133.9,139.4 134.9,139.4 134.9,139.3 135.9,139.3 135.9,139.1 136.9,139.1 136.9,142.5 137.9,142.5 137.9,142.4 138.9,142.4 138.9,142.2 139.9,142.2 139.9,142.1 140.9,142.1 140.9,141.9 141.9,141.9 141.9,141.8 142.9,141.8 142.9,140.1 143.9,140.1 143.9,140.0 144.9,140.0 144.9,139.9 145.9,139.9 145.9,139.7 146.9,139.7 146.9,139.6 147.9,139.6 147.9,139.4 148.9,139.4 148.9,138.1 149.9,138.1 149.9,137.9 150.9,137.9 150.9,137.8 151.9,137.8 151.9,137.5 152.9,137.5 152.9,137.2 153.9,137.2 153.9,136.9 154.9,136.9 154.9,136.8 155.9,136.8 155.9,136.5 156.9,136.5 156.9,136.2 157.9,136.2 157.9,135.9 158.9,135.9 158.9,136.5 159.9,136.5 159.9,136.2 160.9,136.2 160.9,135.9 161.9,135.9 161.9,135.6 162.9,135.6 162.9,135.3 163.9,135.3 163.9,132.9 164.9,132.9 164.9,132.6 165.9,132.6 165.9,132.3 166.9,132.3 166.9,132.0 167.9,132.0 167.9,131.7 168.9,131.7 168.9,131.4 169.9,131.4 169.9,134.4 170.9,134.4 170.9,134.1 171.9,134.1 171.9,133.8 172.9,133.8 172.9,133.5 173.9,133.5 173.9,131.2 174.9,131.2 174.9,130.9 175.9,130.9 175.9,130.6 176.9,130.6 176.9,130.4 177.9,130.4 177.9,132.0 178.9,132.0 178.9,131.8 179.9,131.8 179.9,131.5 180.9,131.5 180.9,131.3 181.9,131.3 181.9,128.6 182.9,128.6 182.9,128.3 183.9,128.3 183.9,128.1 184.9,128.1 184.9,127.8 185.9,127.8 185.9,127.6 186.9,127.6 186.9,127.3 187.9,127.3 187.9,130.7 188.9,130.7 188.9,130.4 189.9,130.4 189.9,128.3 190.9,128.3 190.9,127.9 191.9,127.9 191.9,127.6 192.9,127.6 192.9,127.2 193.9,127.2 193.9,126.9 194.9,126.9 194.9,126.5 195.9,126.5 195.9,126.2 196.9,126.2 196.9,125.2 197.9,125.2 197.9,124.8 198.9,124.8 198.9,124.5 199.9,124.5 199.9,124.2 200.9,124.2 200.9,123.9 201.9,123.9 201.9,125.2 202.9,125.2 202.9,124.9 203.9,124.9 203.9,124.6 204.9,124.6 204.9,124.3 205.9,124.3 205.9,123.9 206.9,123.9 206.9,123.8 207.9,123.8 207.9,123.5 208.9,123.5 208.9,123.2 209.9,123.2 209.9,122.9 210.9,122.9 210.9,122.6 211.9,122.6 211.9,122.3 212.9,122.3 212.9,119.9 213.9,119.9 213.9,119.6 214.9,119.6 214.9,119.3 215.9,119.3 215.9,119.0 216.9,119.0 216.9,118.7 217.9,118.7 217.9,118.4 218.9,118.4 218.9,121.0 219.9,121.0 219.9,120.7 220.9,120.7 220.9,120.4 221.9,120.4 221.9,120.1 222.9,120.1 222.9,118.0 223.9,118.0 223.9,117.7 224.9,117.7 224.9,117.4 225.9,117.4 225.9,117.1 226.9,117.1 226.9,116.8 227.9,116.8 227.9,118.6 228.9,118.6 228.9,118.3 229.9,118.3 229.9,115.9 230.9,115.9 230.9,115.5 231.9,115.5 231.9,115.2 232.9,115.2 232.9,115.2 233.9,115.2 233.9,114.9 234.9,114.9 234.9,112.4 235.9,112.4 235.9,112.1 236.9,112.1 236.9,111.7 237.9,111.7 237.9,111.4 238.9,111.4 238.9,111.0 239.9,111.0 239.9,113.3 240.9,113.3 240.9,112.9 241.9,112.9 241.9,112.6 242.9,112.6 242.9,112.2 243.9,112.2 243.9,109.9 244.9,109.9 244.9,109.6 245.9,109.6 245.9,109.2 246.9,109.2 246.9,108.9 247.9,108.9 247.9,108.5 248.9,108.5 248.9,108.2 249.9,108.2 249.9,108.7 250.9,108.7 250.9,108.3 251.9,108.3 251.9,108.0 252.9,108.0 252.9,107.4 253.9,107.4 253.9,107.1 254.9,107.1 254.9,106.7 255.9,106.7 255.9,106.4 256.9,106.4 256.9,106.0 257.9,106.0 257.9,105.7 258.9,105.7 258.9,105.9 259.9,105.9 259.9,105.6 260.9,105.6 260.9,105.2 261.9,105.2 261.9,104.9 262.9,104.9 262.9,104.5 263.9,104.5 263.9,104.2 264.9,104.2 264.9,101.0 265.9,101.0 265.9,100.6 266.9,100.6 266.9,100.3 267.9,100.3 267.9,99.9 268.9,99.9 268.9,99.6 269.9,99.6 269.9,99.2 270.9,99.2 270.9,100.7 271.9,100.7 271.9,100.3 272.9,100.3 272.9,100.1 273.9,100.1 273.9,99.8 274.9,99.8 274.9,99.4 275.9,99.4 275.9,99.1 276.9,99.1 276.9,98.7 277.9,98.7 277.9,98.4 278.9,98.4 278.9,97.0 279.9,97.0 279.9,96.6 280.9,96.6 280.9,96.4 281.9,96.4 281.9,96.2 282.9,96.2 282.9,95.9 283.9,95.9 283.9,95.7 284.9,95.7 284.9,97.4 285.9,97.4 285.9,97.2 286.9,97.2 286.9,96.9 287.9,96.9 287.9,96.7 288.9,96.7 288.9,96.4 289.9,96.4 289.9,96.2 290.9,96.2 290.9,94.5 291.9,94.5 291.9,94.3 292.9,94.3 292.9,93.3 293.9,93.3 293.9,93.0 294.9,93.0 294.9,92.8 295.9,92.8 295.9,94.4 296.9,94.4 296.9,94.2 297.9,94.2 297.9,93.9 298.9,93.9 298.9,92.2 299.9,92.2 299.9,92.0 300.9,92.0 300.9,91.7 301.9,91.7 301.9,93.7 302.9,93.7 302.9,93.4 303.9,93.4 303.9,93.2 304.9,93.2 304.9,92.9 305.9,92.9 305.9,92.6 306.9,92.6 306.9,92.3 307.9,92.3 307.9,90.6 308.9,90.6 308.9,90.3 309.9,90.3 309.9,90.0 310.9,90.0 310.9,88.8 311.9,88.8 311.9,88.5 312.9,88.5 312.9,89.7 313.9,89.7 313.9,89.4 314.9,89.4 314.9,89.1 315.9,89.1 315.9,88.8 316.9,88.8 316.9,88.5 317.9,88.5 317.9,88.2 318.9,88.2 318.9,88.8 319.9,88.8 319.9,88.5 320.9,88.5 320.9,88.2 321.9,88.2 321.9,87.9 322.9,87.9 322.9,87.7 323.9,87.7 323.9,87.4 324.9,87.4 324.9,86.7 325.9,86.7 325.9,86.4 326.9,86.4 326.9,86.1 327.9,86.1 327.9,85.8 328.9,85.8 328.9,85.5 329.9,85.5 329.9,84.9 330.9,84.9 330.9,84.6 331.9,84.6 331.9,84.4 332.9,84.4 332.9,84.2 333.9,84.2 333.9,84.0 334.9,84.0 334.9,83.6 335.9,83.6 335.9,83.4 336.9,83.4 336.9,83.2 337.9,83.2 337.9,83.0 338.9,83.0 338.9,82.7 339.9,82.7 339.9,82.5 340.9,82.5 340.9,82.3 341.9,82.3 341.9,82.1 342.9,82.1 342.9,81.9 343.9,81.9 343.9,81.7 344.9,81.7 344.9,82.3 345.9,82.3 345.9,82.1 346.9,82.1 346.9,81.9 347.9,81.9 347.9,82.5 348.9,82.5 348.9,82.3 349.9,82.3 349.9,82.1 350.9,82.1 350.9,81.9 351.9,81.9 351.9,81.7 352.9,81.7 352.9,79.5 353.9,79.5 353.9,79.3 354.9,79.3 354.9,79.1 355.9,79.1 355.9,78.9 356.9,78.9 356.9,78.8 357.9,78.8 357.9,78.7 358.9,78.7 358.9,78.4 359.9,78.4 359.9,78.3 360.9,78.3 360.9,79.4 361.9,79.4 361.9,109.6 362.9,109.6 362.9,118.1 363.9,118.1 363.9,119.3 364.9,119.3 364.9,120.5 365.9,120.5 365.9,121.7 366.9,121.7 366.9,122.9 367.9,122.9 367.9,124.0 368.9,124.0 368.9,123.7 369.9,123.7 369.9,124.6 370.9,124.6 370.9,126.4 371.9,126.4 371.9,127.3 372.9,127.3 372.9,128.1 373.9,128.1 373.9,128.9 374.9,128.9 374.9,132.4 375.9,132.4 375.9,132.9 376.9,132.9 376.9,133.3 377.9,133.3 377.9,133.7 378.9,133.7 378.9,134.1 379.9,134.1 379.9,134.5 380.9,134.5 380.9,133.6 381.9,133.6 381.9,134.0 382.9,134.0 382.9,132.2 383.9,132.2 383.9,132.6 384.9,132.6 384.9,133.0 385.9,133.0 385.9,135.3 386.9,135.3 386.9,135.6 387.9,135.6 387.9,136.0 388.9,136.0 388.9,137.7 389.9,137.7 389.9,138.1 390.9,138.1 390.9,138.5 391.9,138.5 391.9,138.9 392.9,138.9 392.9,139.3 393.9,139.3 393.9,139.7 394.9,139.7 394.9,138.7 395.9,138.7 395.9,139.0 396.9,139.0 396.9,139.0 397.9,139.0 397.9,139.1 398.9,139.1 398.9,139.1 399.9,139.1 399.9,139.2 400.9,139.2 400.9,138.9 401.9,138.9 401.9,139.0 402.9,139.0 402.9,139.0 403.9,139.0 403.9,139.1 404.9,139.1 404.9,139.1 405.9,139.1 405.9,139.2 406.9,139.2 406.9,138.8 407.9,138.8 407.9,138.9 408.9,138.9 408.9,138.9 409.9,138.9 409.9,138.7 410.9,138.7 410.9,138.8 411.9,138.8 411.9,138.8 412.9,138.8 412.9,138.9 413.9,138.9 413.9,139.9 414.9,139.9 414.9,139.9 415.9,139.9 415.9,140.0 416.9,140.0 416.9,140.0 417.9,140.0 417.9,140.1 418.9,140.1 418.9,140.1 419.9,140.1 419.9,140.1 420.9,140.1 420.9,140.1 421.9,140.1 421.9,140.1 422.9,140.1 422.9,138.0 423.9,138.0 423.9,138.0 424.9,138.0 424.9,138.0 425.9,138.0 425.9,138.0 426.9,138.0 426.9,138.0 427.9,138.0 427.9,141.0 428.9,141.0 428.9,141.0 429.9,141.0 429.9,141.0 430.9,141.0 430.9,140.5 431.9,140.5 431.9,140.5 432.9,140.5 432.9,140.5 433.9,140.5 433.9,140.5 434.9,140.5 434.9,140.5 435.9,140.5 435.9,140.9 436.9,140.9 436.9,140.9 437.9,140.9 437.9,140.9 438.9,140.9 438.9,140.2 439.9,140.2 439.9,140.2 440.9,140.2 440.9,139.2 441.9,139.2 441.9,139.3 442.9,139.3 442.9,139.4 443.9,139.4 443.9,139.6 444.9,139.6 444.9,139.7 445.9,139.7 445.9,139.8 446.9,139.8 446.9,139.9 447.9,139.9 447.9,140.1 448.9,140.1 448.9,140.2 449.9,140.2 449.9,140.3 450.9,140.3 450.9,140.4 451.9,140.4 451.9,140.5 452.9,140.5 452.9,140.6 453.9,140.6 453.9,140.8 454.9,140.8 454.9,140.9 455.9,140.9 455.9,141.0 456.9,141.0 456.9,140.8 457.9,140.8 457.9,140.9 458.9,140.9 458.9,141.0 459.9,141.0 459.9,141.1 460.9,141.1 460.9,141.2 461.9,141.2 461.9,141.8 462.9,141.8 462.9,141.9 463.9,141.9 463.9,142.0 464.9,142.0 464.9,142.1 465.9,142.1 465.9,140.8 466.9,140.8 466.9,140.9 467.9,140.9 467.9,141.0 468.9,141.0 468.9,141.1 469.9,141.1 469.9,141.2 470.9,141.2 470.9,142.3 471.9,142.3 471.9,142.3 472.9,142.3 472.9,142.4 473.9,142.4 473.9,142.0 474.9,142.0 474.9,142.1 475.9,142.1 475.9,142.2 476.9,142.2 476.9,142.3 477.9,142.3 477.9,142.4 478.9,142.4 478.9,142.4 479.9,142.4 479.9,142.4 480.9,142.4 480.9,142.4 481.9,142.4 481.9,142.5 482.9,142.5 482.9,142.5 483.9,142.5 483.9,142.6 484.9,142.6 484.9,142.6 485.9,142.6 485.9,145.5 486.9,145.5 486.9,145.5 487.9,145.5 487.9,145.6 488.9,145.6 488.9,145.6 489.9,145.6 489.9,145.7 490.9,145.7 490.9,144.0 491.9,144.0 491.9,144.0 492.9,144.0 492.9,144.1 493.9,144.1 493.9,144.1 494.9,144.1 494.9,143.6 495.9,143.6 495.9,143.6 496.9,143.6 496.9,143.7 497.9,143.7 497.9,143.7 498.9,143.7 498.9,144.2 499.9,144.2 499.9,144.2 500.9,144.2 500.9,144.2 501.9,144.2 501.9,143.8 502.9,143.8 502.9,143.9 503.9,143.9 503.9,143.9 504.9,143.9 504.9,143.9 505.9,143.9 505.9,144.0 506.9,144.0 506.9,144.5 507.9,144.5 507.9,144.5 508.9,144.5 508.9,145.7 509.9,145.7 509.9,145.8 510.9,145.8 510.9,145.8 511.9,145.8 511.9,145.9 512.9,145.9 512.9,145.9 513.9,145.9 513.9,145.9 514.9,145.9 514.9,146.7 515.9,146.7 515.9,146.8 516.9,146.8 516.9,146.8 517.9,146.8 517.9,146.9 518.9,146.9 518.9,146.9 519.9,146.9 519.9,143.7 520.9,143.7 520.9,143.7 521.9,143.7 521.9,143.7 522.9,143.7 522.9,143.8 523.9,143.8 523.9,143.7 524.9,143.7 524.9,143.7 525.9,143.7 525.9,143.8 526.9,143.8 526.9,143.8 527.9,143.8 527.9,143.8 528.9,143.8 528.9,143.9 529.9,143.9 529.9,147.0 530.9,147.0 530.9,147.1 531.9,147.1 531.9,145.0 532.9,145.0 532.9,145.1 533.9,145.1 533.9,145.1 534.9,145.1 534.9,145.1 535.9,145.1 535.9,146.3 536.9,146.3 536.9,146.3 537.9,146.3 537.9,144.1 538.9,144.1 538.9,144.1 539.9,144.1 539.9,144.2 540.9,144.2 540.9,144.2 541.9,144.2 541.9,144.3 542.9,144.3 542.9,145.1 543.9,145.1 543.9,145.2 544.9,145.2 544.9,145.2 545.9,145.2 545.9,145.3 546.9,145.3 546.9,145.8 547.9,145.8 547.9,145.9 548.9,145.9 548.9,145.6 549.9,145.6 549.9,145.7 550.9,145.7 550.9,145.7 551.9,145.7 551.9,145.8 552.9,145.8 552.9,145.8 553.9,145.8 553.9,145.8 554.9,145.8 554.9,145.2 555.9,145.2 555.9,145.3 556.9,145.3 556.9,145.7 557.9,145.7 557.9,145.7 558.9,145.7 558.9,145.7 559.9,145.7 559.9,145.8 560.9,145.8 560.9,145.8 561.9,145.8 561.9,145.8 562.9,145.8 562.9,146.9 563.9,146.9 563.9,146.9 564.9,146.9 564.9,148.1 565.9,148.1 565.9,148.1 566.9,148.1 566.9,148.1 567.9,148.1 567.9,146.4 568.9,146.4 568.9,146.4 569.9,146.4 569.9,146.5 570.9,146.5 570.9,146.5 571.9,146.5 571.9,146.5 572.9,146.5 572.9,146.6 573.9,146.6 573.9,146.3 574.9,146.3 574.9,146.3 575.9,146.3 575.9,146.4 576.9,146.4 576.9,146.4 577.9,146.4 577.9,145.9 578.9,145.9 578.9,145.9 579.9,145.9 579.9,145.9 580.9,145.9 580.9,146.7 581.9,146.7 581.9,146.5 582.9,146.5 582.9,146.3 583.9,146.3 583.9,146.9 584.9,146.9 584.9,146.7 585.9,146.7 585.9,146.5 586.9,146.5 586.9,146.8 587.9,146.8 587.9,173.5 588.9,173.5 588.9,173.5 589.9,173.5 589.9,172.8 590.9,172.8 590.9,172.8 591.9,172.8 591.9,172.9 592.9,172.9 592.9,173.3 593.9,173.3 593.9,173.5 594.9,173.5 594.9,173.6 595.9,173.6 595.9,173.8 596.9,173.8 596.9,173.9 597.9,173.9 597.9,174.1 598.9,174.1 598.9,173.5 599.9,173.5 599.9,173.7 600.9,173.7 600.9,173.8 601.9,173.8 601.9,174.0 602.9,174.0 602.9,174.1 603.9,174.1 603.9,174.3 604.9,174.3 604.9,175.4 605.9,175.4 605.9,175.5 606.9,175.5 606.9,175.6 607.9,175.6 607.9,175.6 608.9,175.6 608.9,175.6 609.9,175.6 609.9,175.2 610.9,175.2 610.9,175.2 611.9,175.2 611.9,175.2 612.9,175.2 612.9,175.2 613.9,175.2 613.9,176.0 614.9,176.0 614.9,176.0 615.9,176.0 615.9,176.0 616.9,176.0 616.9,176.2 617.9,176.2 617.9,176.2 618.9,176.2 618.9,176.2 619.9,176.2 619.9,173.3 620.9,173.3 620.9,171.5 621.9,171.5 621.9,170.4 622.9,170.4 622.9,170.4 623.9,170.4 623.9,173.0 624.9,173.0 624.9,173.0 625.9,173.0 625.9,170.5 626.9,170.5 626.9,170.5 627.9,170.5 627.9,170.5 628.9,170.5 628.9,170.5 629.9,170.5 629.9,170.5 630.9,170.5 630.9,170.5 631.9,170.5 631.9,170.0 632.9,170.0 632.9,170.0 633.9,170.0 633.9,170.0 634.9,170.0 634.9,170.0 635.9,170.0 635.9,170.8 636.9,170.8 636.9,170.8 637.9,170.8 637.9,170.8 638.9,170.8 638.9,170.8 639.9,170.8 639.9,169.6 640.9,169.6 640.9,169.6 641.9,169.6 641.9,169.6 642.9,169.6 642.9,169.6 643.9,169.6 643.9,169.9 644.9,169.9 644.9,169.9 645.9,169.9 645.9,169.9 646.9,169.9 646.9,170.0 647.9,170.0 647.9,170.2 648.9,170.2 648.9,170.4 649.9,170.4 649.9,170.5 650.9,170.5 650.9,170.7 651.9,170.7 651.9,170.8 652.9,170.8 652.9,171.6 653.9,171.6 653.9,171.7 654.9,171.7 654.9,171.9 655.9,171.9 655.9,172.0 656.9,172.0 656.9,172.8 657.9,172.8 657.9,173.0 658.9,173.0 658.9,173.1 659.9,173.1 659.9,174.3 660.9,174.3 660.9,174.6 661.9,174.6 661.9,173.6 662.9,173.6 662.9,173.9 663.9,173.9 663.9,174.2 664.9,174.2 664.9,174.5 665.9,174.5 665.9,174.8 666.9,174.8 666.9,174.6 667.9,174.6 667.9,174.7 668.9,174.7 668.9,174.5 669.9,174.5 669.9,174.3 670.9,174.3 670.9,176.9 671.9,176.9 671.9,176.7 672.9,176.7 672.9,176.5 673.9,176.5 673.9,173.1 674.9,173.1 674.9,172.9 675.9,172.9 675.9,172.8 676.9,172.8 676.9,172.8 677.9,172.8 677.9,174.0 678.9,174.0 678.9,174.0 679.9,174.0 679.9,174.0 680.9,174.0 680.9,174.0 681.9,174.0 681.9,174.5 682.9,174.5 682.9,174.5 683.9,174.5 683.9,174.5 684.9,174.5 684.9,176.0 685.9,176.0 685.9,176.0 686.9,176.0 686.9,176.0 687.9,176.0 687.9,176.0 688.9,176.0 688.9,176.0 689.9,176.0 689.9,173.4 690.9,173.4 690.9,173.4 691.9,173.4 691.9,173.4 692.9,173.4 692.9,173.4 693.9,173.4 693.9,173.1 694.9,173.1 694.9,172.8 695.9,172.8 695.9,173.0 696.9,173.0 696.9,172.7 697.9,172.7 697.9,172.4 698.9,172.4 698.9,172.5 699.9,172.5 699.9,172.2 700.9,172.2 700.9,172.1 701.9,172.1 701.9,171.9 702.9,171.9 702.9,171.8 703.9,171.8 703.9,171.5 704.9,171.5 704.9,171.4 705.9,171.4 705.9,171.2 706.9,171.2 706.9,171.1 707.9,171.1 707.9,170.8 708.9,170.8 708.9,170.7 709.9,170.7 709.9,170.5 710.9,170.5 710.9,170.4 711.9,170.4 711.9,167.8 712.9,167.8 712.9,167.7 713.9,167.7 713.9,169.8 714.9,169.8 714.9,169.5 715.9,169.5 715.9,169.2 716.9,169.2 716.9,168.9 717.9,168.9 717.9,167.1 718.9,167.1 718.9,166.8 719.9,166.8 719.9,166.6 720.9,166.6 720.9,167.2 721.9,167.2 721.9,167.0 722.9,167.0 722.9,166.7 723.9,166.7 723.9,167.1 724.9,167.1 724.9,166.8 725.9,166.8 725.9,166.5 726.9,166.5 726.9,164.8 727.9,164.8 727.9,164.5 728.9,164.5 728.9,164.2 729.9,164.2 729.9,163.9 730.9,163.9 730.9,163.6 731.9,163.6 731.9,165.1 732.9,165.1 732.9,164.8 733.9,164.8 733.9,163.0 734.9,163.0 734.9,162.7 735.9,162.7 735.9,162.4 736.9,162.4 736.9,162.1 737.9,162.1 737.9,161.8 738.9,161.8 738.9,161.4 739.9,161.4 739.9,160.1 740.9,160.1 740.9,159.8 741.9,159.8 741.9,159.5 742.9,159.5 742.9,159.2 743.9,159.2 743.9,161.1 744.9,161.1 744.9,160.8 745.9,160.8 745.9,158.0 746.9,158.0 746.9,157.7 747.9,157.7 747.9,159.9 748.9,159.9 748.9,159.6 749.9,159.6 749.9,159.3 750.9,159.3 750.9,159.0 751.9,159.0 751.9,157.6 752.9,157.6 752.9,157.3 753.9,157.3 753.9,156.3 754.9,156.3 754.9,156.0 755.9,156.0 755.9,155.8 756.9,155.8 756.9,155.5 757.9,155.5 757.9,157.9 758.9,157.9 758.9,157.7 759.9,157.7 759.9,156.2 760.9,156.2 760.9,156.0 761.9,156.0 761.9,153.5 762.9,153.5 762.9,153.3 763.9,153.3 763.9,153.0 764.9,153.0 764.9,152.8 765.9,152.8 765.9,152.5 766.9,152.5 766.9,155.3 767.9,155.3 767.9,155.0 768.9,155.0 768.9,154.8 769.9,154.8 769.9,155.3 770.9,155.3 770.9,155.1 771.9,155.1 771.9,154.8 772.9,154.8 772.9,154.1 773.9,154.1 773.9,153.8 774.9,153.8 774.9,153.5 775.9,153.5 775.9,153.3 776.9,153.3 776.9,153.0 777.9,153.0 777.9,150.8 778.9,150.8 778.9,150.5 779.9,150.5 779.9,150.3 780.9,150.3 780.9,150.0 781.9,150.0 781.9,149.8 782.9,149.8 782.9,150.2 783.9,150.2 783.9,149.9 784.9,149.9 784.9,150.1 785.9,150.1 785.9,149.9 786.9,149.9 786.9,149.7 787.9,149.7 787.9,149.4 788.9,149.4 788.9,149.2 789.9,149.2 789.9,149.5 790.9,149.5 790.9,149.2 791.9,149.2 791.9,149.0 792.9,149.0 792.9,148.7 793.9,148.7 793.9,148.9 794.9,148.9 794.9,148.6 795.9,148.6 795.9,148.4 796.9,148.4 796.9,148.2 797.9,148.2 797.9,147.9 798.9,147.9 798.9,144.7 799.9,144.7 799.9,144.5 800.9,144.5 800.9,146.1 801.9,146.1 801.9,145.8 802.9,145.8 802.9,145.5 803.9,145.5 803.9,145.2 804.9,145.2 804.9,144.9 805.9,144.9 805.9,141.6 806.9,141.6 806.9,141.3 807.9,141.3 807.9,141.0 808.9,141.0 808.9,140.7 809.9,140.7 809.9,143.9 810.9,143.9 810.9,143.6 811.9,143.6 811.9,143.3 812.9,143.3 812.9,143.0 813.9,143.0 813.9,141.3 814.9,141.3 814.9,141.0 815.9,141.0 815.9,140.7 816.9,140.7 816.9,140.4 817.9,140.4 817.9,140.1 818.9,140.1 818.9,139.8 819.9,139.8 819.9,142.3 820.9,142.3 820.9,142.0 821.9,142.0 821.9,141.7 822.9,141.7 822.9,141.4 823.9,141.4 823.9,141.1 824.9,141.1 824.9,137.7 825.9,137.7 825.9,137.4 826.9,137.4 826.9,137.0 827.9,137.0 827.9,136.6 828.9,136.6 828.9,136.2 829.9,136.2 829.9,135.8 830.9,135.8 830.9,136.3 831.9,136.3 831.9,135.9 832.9,135.9 832.9,135.5 833.9,135.5 833.9,134.1 834.9,134.1 834.9,133.7 835.9,133.7 835.9,133.3 836.9,133.3 836.9,134.2 837.9,134.2 837.9,133.7 838.9,133.7 838.9,133.3 839.9,133.3 839.9,132.9 840.9,132.9 840.9,131.6 841.9,131.6 841.9,131.2 842.9,131.2 842.9,130.8 843.9,130.8 843.9,132.7 844.9,132.7 844.9,132.3 845.9,132.3 845.9,131.8 846.9,131.8 846.9,131.4 847.9,131.4 847.9,131.0 848.9,131.0 848.9,130.6 849.9,130.6 849.9,129.2 850.9,129.2 850.9,128.8 851.9,128.8 851.9,128.1 852.9,128.1 852.9,127.7 853.9,127.7 853.9,127.3 854.9,127.3 854.9,126.9 855.9,126.9 855.9,126.5 856.9,126.5 856.9,127.1 857.9,127.1 857.9,126.6 858.9,126.6 858.9,126.2 859.9,126.2 859.9,125.8 860.9,125.8 860.9,123.8 861.9,123.8 861.9,123.4 862.9,123.4 862.9,123.0 863.9,123.0 863.9,121.5 864.9,121.5 864.9,121.1 865.9,121.1 865.9,120.7 866.9,120.7 866.9,120.3 867.9,120.3 867.9,119.9 868.9,119.9 868.9,119.4 869.9,119.4 869.9,119.8 870.9,119.8 870.9,119.4 871.9,119.4 871.9,118.9 872.9,118.9 872.9,118.5 873.9,118.5 873.9,118.0 874.9,118.0 874.9,118.6 875.9,118.6 875.9,118.2 876.9,118.2 876.9,117.7 877.9,117.7 877.9,117.3 878.9,117.3 878.9,116.9 879.9,116.9 879.9,116.5 880.9,116.5 880.9,114.8 881.9,114.8 881.9,114.4 882.9,114.4 882.9,114.0 883.9,114.0 883.9,113.7 884.9,113.7 884.9,114.1 885.9,114.1 885.9,113.8 886.9,113.8 886.9,113.4 887.9,113.4 887.9,113.1 888.9,113.1 888.9,112.8 889.9,112.8 889.9,111.6 890.9,111.6 890.9,111.3 891.9,111.3 891.9,111.0 892.9,111.0 892.9,110.7 893.9,110.7 893.9,109.8 894.9,109.8 894.9,109.5 895.9,109.5 895.9,109.2 896.9,109.2 896.9,108.9 897.9,108.9 897.9,107.9 898.9,107.9 898.9,107.6 899.9,107.6 899.9,109.3 900.9,109.3 900.9,109.0 901.9,109.0 901.9,108.6 902.9,108.6 902.9,108.3 903.9,108.3 903.9,107.1 904.9,107.1 904.9,106.8 905.9,106.8 905.9,106.1 906.9,106.1 906.9,105.8 907.9,105.8 907.9,105.5 908.9,105.5 908.9,105.1 909.9,105.1 909.9,108.0 910.9,108.0 910.9,107.6 911.9,107.6 911.9,107.3 912.9,107.3 912.9,107.0 913.9,107.0 913.9,103.1 914.9,103.1 914.9,102.8 915.9,102.8 915.9,102.5 916.9,102.5 916.9,102.1 917.9,102.1 917.9,101.8 918.9,101.8 918.9,101.5 919.9,101.5 919.9,103.3 920.9,103.3 920.9,103.0 921.9,103.0 921.9,102.6 922.9,102.6 922.9,101.3 923.9,101.3 923.9,100.9 924.9,100.9 924.9,100.6 925.9,100.6 925.9,100.3 926.9,100.3 926.9,101.5 927.9,101.5 927.9,101.2 928.9,101.2 928.9,100.8 929.9,100.8 929.9,101.3 930.9,101.3 930.9,101.0 931.9,101.0 931.9,100.6 932.9,100.6 932.9,100.3 933.9,100.3 933.9,100.0 934.9,100.0 934.9,97.6 935.9,97.6 935.9,97.4 936.9,97.4 936.9,98.6 937.9,98.6 937.9,98.4 938.9,98.4 938.9,98.2 939.9,98.2 939.9,98.0 940.9,98.0 940.9,98.9 941.9,98.9 941.9,98.7 942.9,98.7 942.9,98.5 943.9,98.5 943.9,98.3 944.9,98.3 944.9,98.1 945.9,98.1 945.9,97.9 946.9,97.9 946.9,94.9 947.9,94.9 947.9,94.7 948.9,94.7 948.9,93.7 949.9,93.7 949.9,93.5 950.9,93.5 950.9,97.0 951.9,97.0 951.9,96.8 952.9,96.8 952.9,96.6 953.9,96.6 953.9,96.4 954.9,96.4 954.9,96.2 955.9,96.2 955.9,96.0 956.9,96.0 956.9,91.1 957.9,91.1 957.9,90.9 958.9,90.9 958.9,90.7 959.9,90.7 959.9,90.5 960.9,90.5 960.9,90.3 961.9,90.3 961.9,90.1 962.9,90.1 962.9,92.2 963.9,92.2 963.9,92.0 964.9,92.0 964.9,91.8 965.9,91.8 965.9,91.6 966.9,91.6 966.9,93.6 967.9,93.6 967.9,93.4 968.9,93.4 968.9,93.2 969.9,93.2 969.9,90.6 970.9,90.6 970.9,90.4 971.9,90.4 971.9,90.2 972.9,90.2 972.9,90.0 973.9,90.0 973.9,89.8 974.9,89.8 974.9,90.6 975.9,90.6 975.9,90.4 976.9,90.4 976.9,90.2 977.9,90.2 977.9,90.0 978.9,90.0 978.9,89.8 979.9,89.8 979.9,90.7 980.9,90.7 980.9,90.5 981.9,90.5 981.9,90.3 982.9,90.3 982.9,90.1 983.9,90.1 983.9,89.9 984.9,89.9 984.9,89.1 985.9,89.1 985.9,88.9 986.9,88.9 986.9,88.6 987.9,88.6 987.9,88.4 988.9,88.4 988.9,88.1 989.9,88.1 989.9,87.9 990.9,87.9 990.9,87.0 991.9,87.0 991.9,86.8 992.9,86.8 992.9,86.5 993.9,86.5 993.9,85.8 994.9,85.8 994.9,85.5 995.9,85.5 995.9,85.3 996.9,85.3 996.9,85.0 997.9,85.0 997.9,84.7 998.9,84.7 998.9,84.5 999.9,84.5 999.9,84.2 1000.9,84.2 1000.9,82.8 1001.9,82.8 1001.9,82.5 1002.9,82.5 1002.9,82.3 1003.9,82.3 1003.9,82.0 1004.9,82.0 1004.9,81.8 1005.9,81.8 1005.9,81.7 1006.9,81.7 1006.9,81.5 1007.9,81.5 1007.9,81.3 1008.9,81.3 1008.9,80.5 1009.9,80.5 1009.9,80.3 1010.9,80.3 1010.9,80.1 1011.9,80.1 1011.9,107.1 1010.9,107.1 1010.9,104.8 1009.9,104.8 1009.9,104.8 1008.9,104.8 1008.9,104.8 1007.9,104.8 1007.9,104.9 1006.9,104.9 1006.9,104.9 1005.9,104.9 1005.9,105.0 1004.9,105.0 1004.9,105.3 1003.9,105.3 1003.9,105.5 1002.9,105.5 1002.9,105.8 1001.9,105.8 1001.9,106.0 1000.9,106.0 1000.9,107.7 999.9,107.7 999.9,108.0 998.9,108.0 998.9,108.2 997.9,108.2 997.9,109.7 996.9,109.7 996.9,109.9 995.9,109.9 995.9,110.0 994.9,110.0 994.9,110.3 993.9,110.3 993.9,110.2 992.9,110.2 992.9,110.5 991.9,110.5 991.9,110.7 990.9,110.7 990.9,112.3 989.9,112.3 989.9,112.6 988.9,112.6 988.9,112.8 987.9,112.8 987.9,113.1 986.9,113.1 986.9,113.3 985.9,113.3 985.9,113.5 984.9,113.5 984.9,113.8 983.9,113.8 983.9,114.1 982.9,114.1 982.9,114.3 981.9,114.3 981.9,114.8 980.9,114.8 980.9,115.1 979.9,115.1 979.9,115.3 978.9,115.3 978.9,115.6 977.9,115.6 977.9,115.9 976.9,115.9 976.9,116.2 975.9,116.2 975.9,115.9 974.9,115.9 974.9,116.2 973.9,116.2 973.9,116.5 972.9,116.5 972.9,116.7 971.9,116.7 971.9,117.0 970.9,117.0 970.9,117.3 969.9,117.3 969.9,118.9 968.9,118.9 968.9,119.2 967.9,119.2 967.9,117.1 966.9,117.1 966.9,117.3 965.9,117.3 965.9,117.6 964.9,117.6 964.9,117.9 963.9,117.9 963.9,118.2 962.9,118.2 962.9,118.4 961.9,118.4 961.9,117.5 960.9,117.5 960.9,117.8 959.9,117.8 959.9,118.0 958.9,118.0 958.9,119.2 957.9,119.2 957.9,119.4 956.9,119.4 956.9,119.7 955.9,119.7 955.9,120.0 954.9,120.0 954.9,120.3 953.9,120.3 953.9,121.2 952.9,121.2 952.9,121.4 951.9,121.4 951.9,121.7 950.9,121.7 950.9,122.0 949.9,122.0 949.9,122.3 948.9,122.3 948.9,122.3 947.9,122.3 947.9,122.6 946.9,122.6 946.9,122.8 945.9,122.8 945.9,122.5 944.9,122.5 944.9,122.8 943.9,122.8 943.9,123.0 942.9,123.0 942.9,123.3 941.9,123.3 941.9,123.6 940.9,123.6 940.9,126.2 939.9,126.2 939.9,126.5 938.9,126.5 938.9,126.8 937.9,126.8 937.9,127.1 936.9,127.1 936.9,125.0 935.9,125.0 935.9,125.3 934.9,125.3 934.9,125.6 933.9,125.6 933.9,125.9 932.9,125.9 932.9,126.2 931.9,126.2 931.9,124.5 930.9,124.5 930.9,124.8 929.9,124.8 929.9,128.4 928.9,128.4 928.9,128.7 927.9,128.7 927.9,129.1 926.9,129.1 926.9,129.4 925.9,129.4 925.9,129.0 924.9,129.0 924.9,129.3 923.9,129.3 923.9,129.6 922.9,129.6 922.9,129.9 921.9,129.9 921.9,130.3 920.9,130.3 920.9,130.6 919.9,130.6 919.9,134.0 918.9,134.0 918.9,134.3 917.9,134.3 917.9,134.6 916.9,134.6 916.9,134.9 915.9,134.9 915.9,135.3 914.9,135.3 914.9,132.0 913.9,132.0 913.9,132.3 912.9,132.3 912.9,132.7 911.9,132.7 911.9,133.0 910.9,133.0 910.9,133.3 909.9,133.3 909.9,133.6 908.9,133.6 908.9,134.5 907.9,134.5 907.9,134.9 906.9,134.9 906.9,135.2 905.9,135.2 905.9,135.5 904.9,135.5 904.9,136.3 903.9,136.3 903.9,136.6 902.9,136.6 902.9,136.9 901.9,136.9 901.9,137.3 900.9,137.3 900.9,136.2 899.9,136.2 899.9,136.5 898.9,136.5 898.9,136.9 897.9,136.9 897.9,137.2 896.9,137.2 896.9,138.8 895.9,138.8 895.9,139.1 894.9,139.1 894.9,139.4 893.9,139.4 893.9,139.7 892.9,139.7 892.9,140.1 891.9,140.1 891.9,140.4 890.9,140.4 890.9,141.3 889.9,141.3 889.9,141.6 888.9,141.6 888.9,142.0 887.9,142.0 887.9,142.3 886.9,142.3 886.9,142.6 885.9,142.6 885.9,142.9 884.9,142.9 884.9,141.8 883.9,141.8 883.9,142.1 882.9,142.1 882.9,142.4 881.9,142.4 881.9,142.8 880.9,142.8 880.9,143.1 879.9,143.1 879.9,143.5 878.9,143.5 878.9,145.0 877.9,145.0 877.9,145.3 876.9,145.3 876.9,145.7 875.9,145.7 875.9,146.0 874.9,146.0 874.9,146.5 873.9,146.5 873.9,146.8 872.9,146.8 872.9,147.2 871.9,147.2 871.9,147.5 870.9,147.5 870.9,147.8 869.9,147.8 869.9,148.2 868.9,148.2 868.9,147.9 867.9,147.9 867.9,148.2 866.9,148.2 866.9,148.5 865.9,148.5 865.9,148.9 864.9,148.9 864.9,149.2 863.9,149.2 863.9,149.6 862.9,149.6 862.9,148.9 861.9,148.9 861.9,149.2 860.9,149.2 860.9,149.6 859.9,149.6 859.9,149.9 858.9,149.9 858.9,150.3 857.9,150.3 857.9,151.0 856.9,151.0 856.9,151.4 855.9,151.4 855.9,151.7 854.9,151.7 854.9,152.1 853.9,152.1 853.9,152.4 852.9,152.4 852.9,152.6 851.9,152.6 851.9,153.0 850.9,153.0 850.9,152.5 849.9,152.5 849.9,152.9 848.9,152.9 848.9,155.8 847.9,155.8 847.9,156.1 846.9,156.1 846.9,156.5 845.9,156.5 845.9,156.8 844.9,156.8 844.9,157.2 843.9,157.2 843.9,157.5 842.9,157.5 842.9,155.9 841.9,155.9 841.9,156.3 840.9,156.3 840.9,156.6 839.9,156.6 839.9,157.0 838.9,157.0 838.9,157.3 837.9,157.3 837.9,157.2 836.9,157.2 836.9,157.5 835.9,157.5 835.9,157.9 834.9,157.9 834.9,158.2 833.9,158.2 833.9,158.6 832.9,158.6 832.9,158.9 831.9,158.9 831.9,160.5 830.9,160.5 830.9,160.8 829.9,160.8 829.9,161.2 828.9,161.2 828.9,161.7 827.9,161.7 827.9,162.0 826.9,162.0 826.9,162.3 825.9,162.3 825.9,162.7 824.9,162.7 824.9,164.2 823.9,164.2 823.9,164.6 822.9,164.6 822.9,164.9 821.9,164.9 821.9,165.3 820.9,165.3 820.9,165.6 819.9,165.6 819.9,166.0 818.9,166.0 818.9,165.3 817.9,165.3 817.9,165.7 816.9,165.7 816.9,166.0 815.9,166.0 815.9,166.4 814.9,166.4 814.9,166.5 813.9,166.5 813.9,166.9 812.9,166.9 812.9,168.5 811.9,168.5 811.9,168.8 810.9,168.8 810.9,167.8 809.9,167.8 809.9,168.2 808.9,168.2 808.9,168.7 807.9,168.7 807.9,169.1 806.9,169.1 806.9,169.4 805.9,169.4 805.9,170.1 804.9,170.1 804.9,170.4 803.9,170.4 803.9,170.9 802.9,170.9 802.9,171.2 801.9,171.2 801.9,171.6 800.9,171.6 800.9,171.8 799.9,171.8 799.9,170.5 798.9,170.5 798.9,170.7 797.9,170.7 797.9,170.9 796.9,170.9 796.9,173.8 795.9,173.8 795.9,174.0 794.9,174.0 794.9,174.2 793.9,174.2 793.9,174.8 792.9,174.8 792.9,175.0 791.9,175.0 791.9,175.2 790.9,175.2 790.9,175.4 789.9,175.4 789.9,173.3 788.9,173.3 788.9,173.5 787.9,173.5 787.9,173.7 786.9,173.7 786.9,173.3 785.9,173.3 785.9,173.5 784.9,173.5 784.9,173.7 783.9,173.7 783.9,173.9 782.9,173.9 782.9,174.1 781.9,174.1 781.9,176.2 780.9,176.2 780.9,176.4 779.9,176.4 779.9,176.6 778.9,176.6 778.9,176.8 777.9,176.8 777.9,177.0 776.9,177.0 776.9,177.2 775.9,177.2 775.9,176.9 774.9,176.9 774.9,177.2 773.9,177.2 773.9,177.5 772.9,177.5 772.9,178.3 771.9,178.3 771.9,178.6 770.9,178.6 770.9,178.9 769.9,178.9 769.9,179.6 768.9,179.6 768.9,179.9 767.9,179.9 767.9,180.2 766.9,180.2 766.9,180.5 765.9,180.5 765.9,180.8 764.9,180.8 764.9,179.3 763.9,179.3 763.9,179.6 762.9,179.6 762.9,179.9 761.9,179.9 761.9,180.2 760.9,180.2 760.9,180.5 759.9,180.5 759.9,180.8 758.9,180.8 758.9,181.4 757.9,181.4 757.9,181.7 756.9,181.7 756.9,182.0 755.9,182.0 755.9,182.3 754.9,182.3 754.9,182.0 753.9,182.0 753.9,182.3 752.9,182.3 752.9,182.6 751.9,182.6 751.9,183.2 750.9,183.2 750.9,183.5 749.9,183.5 749.9,183.8 748.9,183.8 748.9,184.2 747.9,184.2 747.9,184.5 746.9,184.5 746.9,188.6 745.9,188.6 745.9,188.9 744.9,188.9 744.9,189.2 743.9,189.2 743.9,189.5 742.9,189.5 742.9,188.0 741.9,188.0 741.9,188.3 740.9,188.3 740.9,188.6 739.9,188.6 739.9,189.0 738.9,189.0 738.9,189.3 737.9,189.3 737.9,186.7 736.9,186.7 736.9,187.0 735.9,187.0 735.9,187.4 734.9,187.4 734.9,187.7 733.9,187.7 733.9,188.0 732.9,188.0 732.9,188.3 731.9,188.3 731.9,189.9 730.9,189.9 730.9,190.2 729.9,190.2 729.9,190.5 728.9,190.5 728.9,190.8 727.9,190.8 727.9,191.2 726.9,191.2 726.9,191.5 725.9,191.5 725.9,190.9 724.9,190.9 724.9,191.2 723.9,191.2 723.9,192.5 722.9,192.5 722.9,192.7 721.9,192.7 721.9,193.0 720.9,193.0 720.9,193.9 719.9,193.9 719.9,194.2 718.9,194.2 718.9,194.4 717.9,194.4 717.9,194.7 716.9,194.7 716.9,193.0 715.9,193.0 715.9,193.3 714.9,193.3 714.9,193.6 713.9,193.6 713.9,195.1 712.9,195.1 712.9,195.2 711.9,195.2 711.9,195.3 710.9,195.3 710.9,196.2 709.9,196.2 709.9,196.3 708.9,196.3 708.9,198.4 707.9,198.4 707.9,198.5 706.9,198.5 706.9,198.6 705.9,198.6 705.9,198.7 704.9,198.7 704.9,198.8 703.9,198.8 703.9,195.9 702.9,195.9 702.9,196.0 701.9,196.0 701.9,197.7 700.9,197.7 700.9,197.9 699.9,197.9 699.9,198.0 698.9,198.0 698.9,198.2 697.9,198.2 697.9,198.4 696.9,198.4 696.9,198.6 695.9,198.6 695.9,199.2 694.9,199.2 694.9,199.4 693.9,199.4 693.9,199.6 692.9,199.6 692.9,199.8 691.9,199.8 691.9,200.0 690.9,200.0 690.9,200.2 689.9,200.2 689.9,198.5 688.9,198.5 688.9,198.7 687.9,198.7 687.9,198.9 686.9,198.9 686.9,199.0 685.9,199.0 685.9,199.1 684.9,199.1 684.9,201.4 683.9,201.4 683.9,201.5 682.9,201.5 682.9,201.6 681.9,201.6 681.9,199.2 680.9,199.2 680.9,199.3 679.9,199.3 679.9,199.4 678.9,199.4 678.9,199.5 677.9,199.5 677.9,199.6 676.9,199.6 676.9,199.7 675.9,199.7 675.9,200.9 674.9,200.9 674.9,201.2 673.9,201.2 673.9,201.4 672.9,201.4 672.9,201.9 671.9,201.9 671.9,202.2 670.9,202.2 670.9,201.7 669.9,201.7 669.9,202.0 668.9,202.0 668.9,202.2 667.9,202.2 667.9,202.5 666.9,202.5 666.9,202.7 665.9,202.7 665.9,203.0 664.9,203.0 664.9,203.3 663.9,203.3 663.9,205.0 662.9,205.0 662.9,205.3 661.9,205.3 661.9,205.9 660.9,205.9 660.9,206.2 659.9,206.2 659.9,206.5 658.9,206.5 658.9,206.8 657.9,206.8 657.9,207.1 656.9,207.1 656.9,205.1 655.9,205.1 655.9,205.5 654.9,205.5 654.9,205.7 653.9,205.7 653.9,205.8 652.9,205.8 652.9,206.3 651.9,206.3 651.9,206.3 650.9,206.3 650.9,206.9 649.9,206.9 649.9,207.0 648.9,207.0 648.9,207.0 647.9,207.0 647.9,207.1 646.9,207.1 646.9,206.8 645.9,206.8 645.9,206.7 644.9,206.7 644.9,206.5 643.9,206.5 643.9,206.4 642.9,206.4 642.9,206.2 641.9,206.2 641.9,206.1 640.9,206.1 640.9,206.7 639.9,206.7 639.9,206.5 638.9,206.5 638.9,206.4 637.9,206.4 637.9,206.2 636.9,206.2 636.9,206.1 635.9,206.1 635.9,205.9 634.9,205.9 634.9,205.7 633.9,205.7 633.9,205.6 632.9,205.6 632.9,205.5 631.9,205.5 631.9,205.4 630.9,205.4 630.9,202.9 629.9,202.9 629.9,202.8 628.9,202.8 628.9,202.7 627.9,202.7 627.9,202.6 626.9,202.6 626.9,202.5 625.9,202.5 625.9,202.4 624.9,202.4 624.9,200.4 623.9,200.4 623.9,200.3 622.9,200.3 622.9,200.2 621.9,200.2 621.9,203.5 620.9,203.5 620.9,203.4 619.9,203.4 619.9,203.2 618.9,203.2 618.9,203.0 617.9,203.0 617.9,202.7 616.9,202.7 616.9,203.3 615.9,203.3 615.9,203.1 614.9,203.1 614.9,202.8 613.9,202.8 613.9,202.6 612.9,202.6 612.9,202.3 611.9,202.3 611.9,202.1 610.9,202.1 610.9,201.2 609.9,201.2 609.9,201.0 608.9,201.0 608.9,200.7 607.9,200.7 607.9,200.5 606.9,200.5 606.9,200.3 605.9,200.3 605.9,199.9 604.9,199.9 604.9,199.9 603.9,199.9 603.9,200.0 602.9,200.0 602.9,200.0 601.9,200.0 601.9,200.0 600.9,200.0 600.9,202.2 599.9,202.2 599.9,202.2 598.9,202.2 598.9,202.3 597.9,202.3 597.9,202.3 596.9,202.3 596.9,202.4 595.9,202.4 595.9,202.4 594.9,202.4 594.9,200.4 593.9,200.4 593.9,200.4 592.9,200.4 592.9,200.5 591.9,200.5 591.9,200.7 590.9,200.7 590.9,200.7 589.9,200.7 589.9,200.7 588.9,200.7 588.9,202.4 587.9,202.4 587.9,201.1 586.9,201.1 586.9,170.0 585.9,170.0 585.9,167.6 584.9,167.6 584.9,167.6 583.9,167.6 583.9,169.1 582.9,169.1 582.9,169.1 581.9,169.1 581.9,169.1 580.9,169.1 580.9,169.1 579.9,169.1 579.9,169.2 578.9,169.2 578.9,168.5 577.9,168.5 577.9,168.5 576.9,168.5 576.9,168.6 575.9,168.6 575.9,168.6 574.9,168.6 574.9,168.7 573.9,168.7 573.9,168.8 572.9,168.8 572.9,168.8 571.9,168.8 571.9,168.9 570.9,168.9 570.9,168.9 569.9,168.9 569.9,169.0 568.9,169.0 568.9,169.1 567.9,169.1 567.9,169.1 566.9,169.1 566.9,169.2 565.9,169.2 565.9,169.2 564.9,169.2 564.9,169.3 563.9,169.3 563.9,169.3 562.9,169.3 562.9,169.4 561.9,169.4 561.9,169.4 560.9,169.4 560.9,169.5 559.9,169.5 559.9,169.5 558.9,169.5 558.9,169.6 557.9,169.6 557.9,171.5 556.9,171.5 556.9,171.5 555.9,171.5 555.9,171.6 554.9,171.6 554.9,171.6 553.9,171.6 553.9,171.7 552.9,171.7 552.9,171.7 551.9,171.7 551.9,171.1 550.9,171.1 550.9,171.1 549.9,171.1 549.9,171.2 548.9,171.2 548.9,171.2 547.9,171.2 547.9,170.1 546.9,170.1 546.9,170.2 545.9,170.2 545.9,170.2 544.9,170.2 544.9,170.3 543.9,170.3 543.9,170.3 542.9,170.3 542.9,170.1 541.9,170.1 541.9,170.1 540.9,170.1 540.9,170.2 539.9,170.2 539.9,170.2 538.9,170.2 538.9,170.3 537.9,170.3 537.9,171.2 536.9,171.2 536.9,171.2 535.9,171.2 535.9,171.3 534.9,171.3 534.9,171.3 533.9,171.3 533.9,171.4 532.9,171.4 532.9,171.0 531.9,171.0 531.9,171.0 530.9,171.0 530.9,171.1 529.9,171.1 529.9,171.1 528.9,171.1 528.9,171.1 527.9,171.1 527.9,171.0 526.9,171.0 526.9,172.5 525.9,172.5 525.9,172.5 524.9,172.5 524.9,171.1 523.9,171.1 523.9,171.1 522.9,171.1 522.9,171.1 521.9,171.1 521.9,171.0 520.9,171.0 520.9,171.0 519.9,171.0 519.9,170.1 518.9,170.1 518.9,170.1 517.9,170.1 517.9,170.1 516.9,170.1 516.9,170.9 515.9,170.9 515.9,170.9 514.9,170.9 514.9,170.2 513.9,170.2 513.9,170.2 512.9,170.2 512.9,170.2 511.9,170.2 511.9,170.2 510.9,170.2 510.9,170.2 509.9,170.2 509.9,170.1 508.9,170.1 508.9,170.0 507.9,170.0 507.9,170.0 506.9,170.0 506.9,170.0 505.9,170.0 505.9,171.1 504.9,171.1 504.9,171.1 503.9,171.1 503.9,171.1 502.9,171.1 502.9,170.6 501.9,170.6 501.9,170.6 500.9,170.6 500.9,170.6 499.9,170.6 499.9,170.6 498.9,170.6 498.9,170.6 497.9,170.6 497.9,171.9 496.9,171.9 496.9,171.9 495.9,171.9 495.9,171.8 494.9,171.8 494.9,173.3 493.9,173.3 493.9,173.3 492.9,173.3 492.9,173.3 491.9,173.3 491.9,173.3 490.9,173.3 490.9,170.1 489.9,170.1 489.9,170.0 488.9,170.0 488.9,170.0 487.9,170.0 487.9,169.3 486.9,169.3 486.9,169.3 485.9,169.3 485.9,169.3 484.9,169.3 484.9,170.8 483.9,170.8 483.9,170.8 482.9,170.8 482.9,170.8 481.9,170.8 481.9,170.8 480.9,170.8 480.9,171.1 479.9,171.1 479.9,171.1 478.9,171.1 478.9,170.6 477.9,170.6 477.9,170.5 476.9,170.5 476.9,172.1 475.9,172.1 475.9,172.0 474.9,172.0 474.9,172.3 473.9,172.3 473.9,172.3 472.9,172.3 472.9,172.2 471.9,172.2 471.9,172.1 470.9,172.1 470.9,172.0 469.9,172.0 469.9,171.9 468.9,171.9 468.9,170.9 467.9,170.9 467.9,170.8 466.9,170.8 466.9,170.8 465.9,170.8 465.9,170.7 464.9,170.7 464.9,170.6 463.9,170.6 463.9,170.5 462.9,170.5 462.9,169.7 461.9,169.7 461.9,169.6 460.9,169.6 460.9,169.5 459.9,169.5 459.9,170.9 458.9,170.9 458.9,170.8 457.9,170.8 457.9,170.7 456.9,170.7 456.9,170.6 455.9,170.6 455.9,168.0 454.9,168.0 454.9,167.9 453.9,167.9 453.9,167.8 452.9,167.8 452.9,169.9 451.9,169.9 451.9,169.8 450.9,169.8 450.9,169.7 449.9,169.7 449.9,169.6 448.9,169.6 448.9,169.5 447.9,169.5 447.9,167.5 446.9,167.5 446.9,167.4 445.9,167.4 445.9,168.4 444.9,168.4 444.9,168.4 443.9,168.4 443.9,168.3 442.9,168.3 442.9,169.1 441.9,169.1 441.9,169.0 440.9,169.0 440.9,169.0 439.9,169.0 439.9,168.9 438.9,168.9 438.9,168.8 437.9,168.8 437.9,168.7 436.9,168.7 436.9,166.4 435.9,166.4 435.9,166.3 434.9,166.3 434.9,166.3 433.9,166.3 433.9,166.2 432.9,166.2 432.9,166.1 431.9,166.1 431.9,165.6 430.9,165.6 430.9,165.5 429.9,165.5 429.9,168.8 428.9,168.8 428.9,168.7 427.9,168.7 427.9,168.7 426.9,168.7 426.9,168.6 425.9,168.6 425.9,168.5 424.9,168.5 424.9,165.6 423.9,165.6 423.9,165.5 422.9,165.5 422.9,165.4 421.9,165.4 421.9,166.2 420.9,166.2 420.9,166.1 419.9,166.1 419.9,166.0 418.9,166.0 418.9,165.9 417.9,165.9 417.9,165.8 416.9,165.8 416.9,165.8 415.9,165.8 415.9,163.5 414.9,163.5 414.9,163.4 413.9,163.4 413.9,165.2 412.9,165.2 412.9,165.1 411.9,165.1 411.9,166.2 410.9,166.2 410.9,166.1 409.9,166.1 409.9,166.0 408.9,166.0 408.9,166.0 407.9,166.0 407.9,165.9 406.9,165.9 406.9,164.1 405.9,164.1 405.9,164.0 404.9,164.0 404.9,164.4 403.9,164.4 403.9,164.3 402.9,164.3 402.9,164.2 401.9,164.2 401.9,164.1 400.9,164.1 400.9,164.0 399.9,164.0 399.9,162.5 398.9,162.5 398.9,162.4 397.9,162.4 397.9,162.3 396.9,162.3 396.9,162.2 395.9,162.2 395.9,162.0 394.9,162.0 394.9,161.6 393.9,161.6 393.9,164.0 392.9,164.0 392.9,163.6 391.9,163.6 391.9,163.3 390.9,163.3 390.9,164.4 389.9,164.4 389.9,164.1 388.9,164.1 388.9,163.8 387.9,163.8 387.9,163.5 386.9,163.5 386.9,158.4 385.9,158.4 385.9,158.1 384.9,158.1 384.9,160.8 383.9,160.8 383.9,160.5 382.9,160.5 382.9,160.2 381.9,160.2 381.9,159.9 380.9,159.9 380.9,159.5 379.9,159.5 379.9,158.6 378.9,158.6 378.9,158.3 377.9,158.3 377.9,158.0 376.9,158.0 376.9,157.7 375.9,157.7 375.9,157.2 374.9,157.2 374.9,157.2 373.9,157.2 373.9,156.4 372.9,156.4 372.9,155.6 371.9,155.6 371.9,153.1 370.9,153.1 370.9,152.3 369.9,152.3 369.9,151.5 368.9,151.5 368.9,150.7 367.9,150.7 367.9,150.8 366.9,150.8 366.9,149.8 365.9,149.8 365.9,146.4 364.9,146.4 364.9,145.4 363.9,145.4 363.9,144.4 362.9,144.4 362.9,146.7 361.9,146.7 361.9,133.2 360.9,133.2 360.9,106.6 359.9,106.6 359.9,106.7 358.9,106.7 358.9,104.3 357.9,104.3 357.9,104.3 356.9,104.3 356.9,104.6 355.9,104.6 355.9,104.9 354.9,104.9 354.9,105.2 353.9,105.2 353.9,105.5 352.9,105.5 352.9,105.7 351.9,105.7 351.9,106.0 350.9,106.0 350.9,106.3 349.9,106.3 349.9,107.2 348.9,107.2 348.9,107.5 347.9,107.5 347.9,107.8 346.9,107.8 346.9,108.1 345.9,108.1 345.9,109.2 344.9,109.2 344.9,109.5 343.9,109.5 343.9,109.8 342.9,109.8 342.9,111.8 341.9,111.8 341.9,112.1 340.9,112.1 340.9,112.4 339.9,112.4 339.9,112.7 338.9,112.7 338.9,110.7 337.9,110.7 337.9,111.0 336.9,111.0 336.9,111.3 335.9,111.3 335.9,111.6 334.9,111.6 334.9,109.9 333.9,109.9 333.9,110.2 332.9,110.2 332.9,110.5 331.9,110.5 331.9,110.8 330.9,110.8 330.9,111.1 329.9,111.1 329.9,111.7 328.9,111.7 328.9,112.0 327.9,112.0 327.9,114.5 326.9,114.5 326.9,114.8 325.9,114.8 325.9,115.1 324.9,115.1 324.9,115.4 323.9,115.4 323.9,113.8 322.9,113.8 322.9,114.1 321.9,114.1 321.9,114.5 320.9,114.5 320.9,114.8 319.9,114.8 319.9,117.4 318.9,117.4 318.9,117.7 317.9,117.7 317.9,118.0 316.9,118.0 316.9,116.1 315.9,116.1 315.9,116.4 314.9,116.4 314.9,117.5 313.9,117.5 313.9,117.8 312.9,117.8 312.9,118.8 311.9,118.8 311.9,119.1 310.9,119.1 310.9,119.4 309.9,119.4 309.9,117.0 308.9,117.0 308.9,117.3 307.9,117.3 307.9,117.6 306.9,117.6 306.9,117.9 305.9,117.9 305.9,118.2 304.9,118.2 304.9,118.6 303.9,118.6 303.9,119.0 302.9,119.0 302.9,119.4 301.9,119.4 301.9,119.7 300.9,119.7 300.9,120.1 299.9,120.1 299.9,121.9 298.9,121.9 298.9,122.2 297.9,122.2 297.9,122.6 296.9,122.6 296.9,122.9 295.9,122.9 295.9,123.3 294.9,123.3 294.9,123.6 293.9,123.6 293.9,126.4 292.9,126.4 292.9,126.7 291.9,126.7 291.9,127.1 290.9,127.1 290.9,127.4 289.9,127.4 289.9,127.8 288.9,127.8 288.9,128.1 287.9,128.1 287.9,126.6 286.9,126.6 286.9,126.9 285.9,126.9 285.9,127.3 284.9,127.3 284.9,127.6 283.9,127.6 283.9,128.0 282.9,128.0 282.9,128.3 281.9,128.3 281.9,128.2 280.9,128.2 280.9,128.6 279.9,128.6 279.9,128.9 278.9,128.9 278.9,127.9 277.9,127.9 277.9,128.2 276.9,128.2 276.9,128.5 275.9,128.5 275.9,128.8 274.9,128.8 274.9,129.1 273.9,129.1 273.9,131.0 272.9,131.0 272.9,131.3 271.9,131.3 271.9,131.6 270.9,131.6 270.9,131.9 269.9,131.9 269.9,131.6 268.9,131.6 268.9,131.9 267.9,131.9 267.9,132.2 266.9,132.2 266.9,132.5 265.9,132.5 265.9,132.8 264.9,132.8 264.9,133.1 263.9,133.1 263.9,133.1 262.9,133.1 262.9,133.4 261.9,133.4 261.9,133.7 260.9,133.7 260.9,134.0 259.9,134.0 259.9,134.3 258.9,134.3 258.9,134.7 257.9,134.7 257.9,135.0 256.9,135.0 256.9,135.3 255.9,135.3 255.9,136.7 254.9,136.7 254.9,137.0 253.9,137.0 253.9,137.4 252.9,137.4 252.9,137.8 251.9,137.8 251.9,138.2 250.9,138.2 250.9,138.6 249.9,138.6 249.9,140.2 248.9,140.2 248.9,140.6 247.9,140.6 247.9,140.0 246.9,140.0 246.9,140.4 245.9,140.4 245.9,139.5 244.9,139.5 244.9,139.9 243.9,139.9 243.9,140.3 242.9,140.3 242.9,140.7 241.9,140.7 241.9,141.1 240.9,141.1 240.9,140.2 239.9,140.2 239.9,140.6 238.9,140.6 238.9,142.0 237.9,142.0 237.9,142.4 236.9,142.4 236.9,142.8 235.9,142.8 235.9,144.0 234.9,144.0 234.9,144.4 233.9,144.4 233.9,146.5 232.9,146.5 232.9,146.9 231.9,146.9 231.9,147.9 230.9,147.9 230.9,148.3 229.9,148.3 229.9,148.7 228.9,148.7 228.9,149.0 227.9,149.0 227.9,147.8 226.9,147.8 226.9,148.0 225.9,148.0 225.9,148.1 224.9,148.1 224.9,148.3 223.9,148.3 223.9,148.4 222.9,148.4 222.9,148.6 221.9,148.6 221.9,148.6 220.9,148.6 220.9,148.8 219.9,148.8 219.9,148.9 218.9,148.9 218.9,150.2 217.9,150.2 217.9,150.4 216.9,150.4 216.9,150.5 215.9,150.5 215.9,150.7 214.9,150.7 214.9,150.8 213.9,150.8 213.9,151.0 212.9,151.0 212.9,150.1 211.9,150.1 211.9,150.2 210.9,150.2 210.9,150.4 209.9,150.4 209.9,150.5 208.9,150.5 208.9,150.7 207.9,150.7 207.9,150.8 206.9,150.8 206.9,151.0 205.9,151.0 205.9,151.2 204.9,151.2 204.9,151.3 203.9,151.3 203.9,151.5 202.9,151.5 202.9,149.8 201.9,149.8 201.9,150.5 200.9,150.5 200.9,151.1 199.9,151.1 199.9,151.8 198.9,151.8 198.9,155.1 197.9,155.1 197.9,155.8 196.9,155.8 196.9,154.6 195.9,154.6 195.9,155.3 194.9,155.3 194.9,156.2 193.9,156.2 193.9,157.2 192.9,157.2 192.9,158.2 191.9,158.2 191.9,158.9 190.9,158.9 190.9,159.9 189.9,159.9 189.9,162.5 188.9,162.5 188.9,163.5 187.9,163.5 187.9,165.0 186.9,165.0 186.9,165.1 185.9,165.1 185.9,165.2 184.9,165.2 184.9,163.1 183.9,163.1 183.9,163.2 182.9,163.2 182.9,163.3 181.9,163.3 181.9,166.2 180.9,166.2 180.9,166.3 179.9,166.3 179.9,166.4 178.9,166.4 178.9,166.6 177.9,166.6 177.9,166.7 176.9,166.7 176.9,166.8 175.9,166.8 175.9,166.7 174.9,166.7 174.9,166.8 173.9,166.8 173.9,167.0 172.9,167.0 172.9,167.1 171.9,167.1 171.9,167.3 170.9,167.3 170.9,167.4 169.9,167.4 169.9,166.9 168.9,166.9 168.9,167.0 167.9,167.0 167.9,167.2 166.9,167.2 166.9,167.3 165.9,167.3 165.9,166.5 164.9,166.5 164.9,166.7 163.9,166.7 163.9,167.2 162.9,167.2 162.9,167.3 161.9,167.3 161.9,170.1 160.9,170.1 160.9,170.3 159.9,170.3 159.9,170.4 158.9,170.4 158.9,170.6 157.9,170.6 157.9,169.2 156.9,169.2 156.9,169.3 155.9,169.3 155.9,169.5 154.9,169.5 154.9,168.5 153.9,168.5 153.9,168.6 152.9,168.6 152.9,168.8 151.9,168.8 151.9,165.8 150.9,165.8 150.9,165.9 149.9,165.9 149.9,166.1 148.9,166.1 148.9,170.6 147.9,170.6 147.9,170.8 146.9,170.8 146.9,170.9 145.9,170.9 145.9,171.1 144.9,171.1 144.9,171.2 143.9,171.2 143.9,169.6 142.9,169.6 142.9,169.8 141.9,169.8 141.9,171.2 140.9,171.2 140.9,171.4 139.9,171.4 139.9,168.9 138.9,168.9 138.9,169.1 137.9,169.1 137.9,170.4 136.9,170.4 136.9,170.5 135.9,170.5 135.9,170.7 134.9,170.7 134.9,170.8 133.9,170.8 133.9,172.7 132.9,172.7 132.9,172.8 131.9,172.8 131.9,172.9 130.9,172.9 130.9,173.1 129.9,173.1 129.9,173.2 128.9,173.2 128.9,173.1 127.9,173.1 127.9,173.3 126.9,173.3 126.9,173.4 125.9,173.4 125.9,173.6 124.9,173.6 124.9,173.7 123.9,173.7 123.9,173.8 122.9,173.8 122.9,173.7 121.9,173.7 121.9,173.8 120.9,173.8 120.9,173.9 119.9,173.9 119.9,174.1 118.9,174.1 118.9,174.2 117.9,174.2 117.9,174.3 116.9,174.3 116.9,173.1 115.9,173.1 115.9,173.2 114.9,173.2 114.9,173.4 113.9,173.4 113.9,173.5 112.9,173.5 112.9,173.6 111.9,173.6 111.9,173.8 110.9,173.8 110.9,174.7 109.9,174.7 109.9,174.8 108.9,174.8 108.9,176.3 107.9,176.3 107.9,176.5 106.9,176.5 106.9,176.6 105.9,176.6 105.9,177.0 104.9,177.0 104.9,177.3 103.9,177.3" fill="#2E83EE"/>
<polygon points="1011.3,83.0 1012.1,82.7 1012.9,84.5 1013.7,86.1 1014.5,87.1 1015.3,91.1 1016.1,97.2 1016.9,99.7 1017.7,103.8 1018.5,106.4 1019.3,109.3 1020.1,112.4 1020.9,114.5 1021.7,117.4 1022.5,120.1 1023.3,122.9 1023.3,152.5 1022.5,152.6 1021.7,152.9 1020.9,152.4 1020.1,152.1 1019.3,150.5 1018.5,149.7 1017.7,148.2 1016.9,146.9 1016.1,144.6 1015.3,143.2 1014.5,139.7 1013.7,136.4 1012.9,131.9 1012.1,121.7 1011.3,111.5" fill="#4b90ea"/>
<rect x="361.6" y="37.4" width="226.2" height="206.9" fill="#cccccc" fill-opacity="0.31"/>
<rect x="1012.2" y="37.4" width="8.2" height="206.9" fill="#cccccc" fill-opacity="0.17"/>
<text x="106.6" y="286.7" font-size="28.8" text-anchor="middle">0</text>
<text x="220.9" y="286.7" font-size="28.8" text-anchor="middle">1000</text>
<text x="335.3" y="286.7" font-size="28.8" text-anchor="middle">2000</text>
<text x="449.6" y="286.7" font-size="28.8" text-anchor="middle">3000</text>
<text x="564.0" y="286.7" font-size="28.8" text-anchor="middle">4000</text>
<text x="678.4" y="286.7" font-size="28.8" text-anchor="middle">5000</text>
<text x="792.7" y="286.7" font-size="28.8" text-anchor="middle">6000</text>
<text x="907.1" y="286.7" font-size="28.8" text-anchor="middle">7000</text>
<text x="1021.4" y="286.7" font-size="28.8" text-anchor="middle">8000</text>
<text x="97.6" y="91.2" font-size="28.8" text-anchor="end">-2</text>
<text x="97.6" y="175.5" font-size="28.8" text-anchor="end">-3</text>
<text x="97.6" y="259.9" font-size="28.8" text-anchor="end">-4</text>
<text x="107.5" y="34.6" font-size="35">×</text>
<text x="132.0" y="30.6" font-size="27.6">10</text>
<text x="160.6" y="17.8" font-size="24.2">-7</text>
<text transform="translate(60.5,142.9) rotate(-90)" font-size="31.6" text-anchor="middle" textLength="260.5" lengthAdjust="spacing">Accleleration <tspan font-size="35" dy="1.4">[</tspan><tspan dy="-1.4">m/s</tspan><tspan dy="-14.5" font-size="27">2</tspan><tspan dy="15.9" font-size="35">]</tspan></text>
<rect x="788.4" y="52.3" width="214.9" height="38.2" fill="#fff" stroke="#262626" stroke-width="1.4"/>
<line x1="795.8" x2="864.8" y1="71.4" y2="71.4" stroke="#2E83EE" stroke-width="4"/>
<text x="871.6" y="80.1" font-size="25.9" textLength="124.1" lengthAdjust="spacing">Along-track</text>
</g>
<g>
<line x1="220.9" x2="220.9" y1="352.3" y2="561.9" stroke="#E4E4E4" stroke-width="1.4"/>
<line x1="335.3" x2="335.3" y1="352.3" y2="561.9" stroke="#E4E4E4" stroke-width="1.4"/>
<line x1="449.6" x2="449.6" y1="352.3" y2="561.9" stroke="#E4E4E4" stroke-width="1.4"/>
<line x1="564.0" x2="564.0" y1="352.3" y2="561.9" stroke="#E4E4E4" stroke-width="1.4"/>
<line x1="678.4" x2="678.4" y1="352.3" y2="561.9" stroke="#E4E4E4" stroke-width="1.4"/>
<line x1="792.7" x2="792.7" y1="352.3" y2="561.9" stroke="#E4E4E4" stroke-width="1.4"/>
<line x1="907.1" x2="907.1" y1="352.3" y2="561.9" stroke="#E4E4E4" stroke-width="1.4"/>
<line x1="106.6" x2="1021.4" y1="457.1" y2="457.1" stroke="#E4E4E4" stroke-width="1.4"/>
<rect x="106.6" y="352.3" width="914.8" height="209.6" fill="none" stroke="#3a3a3a" stroke-width="1.5"/>
<line x1="220.9" x2="220.9" y1="561.9" y2="552.7" stroke="#3a3a3a" stroke-width="1.5"/>
<line x1="220.9" x2="220.9" y1="352.3" y2="361.5" stroke="#3a3a3a" stroke-width="1.5"/>
<line x1="335.3" x2="335.3" y1="561.9" y2="552.7" stroke="#3a3a3a" stroke-width="1.5"/>
<line x1="335.3" x2="335.3" y1="352.3" y2="361.5" stroke="#3a3a3a" stroke-width="1.5"/>
<line x1="449.6" x2="449.6" y1="561.9" y2="552.7" stroke="#3a3a3a" stroke-width="1.5"/>
<line x1="449.6" x2="449.6" y1="352.3" y2="361.5" stroke="#3a3a3a" stroke-width="1.5"/>
<line x1="564.0" x2="564.0" y1="561.9" y2="552.7" stroke="#3a3a3a" stroke-width="1.5"/>
<line x1="564.0" x2="564.0" y1="352.3" y2="361.5" stroke="#3a3a3a" stroke-width="1.5"/>
<line x1="678.4" x2="678.4" y1="561.9" y2="552.7" stroke="#3a3a3a" stroke-width="1.5"/>
<line x1="678.4" x2="678.4" y1="352.3" y2="361.5" stroke="#3a3a3a" stroke-width="1.5"/>
<line x1="792.7" x2="792.7" y1="561.9" y2="552.7" stroke="#3a3a3a" stroke-width="1.5"/>
<line x1="792.7" x2="792.7" y1="352.3" y2="361.5" stroke="#3a3a3a" stroke-width="1.5"/>
<line x1="907.1" x2="907.1" y1="561.9" y2="552.7" stroke="#3a3a3a" stroke-width="1.5"/>
<line x1="907.1" x2="907.1" y1="352.3" y2="361.5" stroke="#3a3a3a" stroke-width="1.5"/>
<line x1="106.6" x2="115.8" y1="457.1" y2="457.1" stroke="#3a3a3a" stroke-width="1.5"/>
<line x1="1021.4" x2="1012.2" y1="457.1" y2="457.1" stroke="#3a3a3a" stroke-width="1.5"/>
<rect x="122.1" y="352.3" width="3.3" height="209.6" fill="#BFBFBF"/>
<rect x="181.2" y="352.3" width="3.3" height="209.6" fill="#BFBFBF"/>
<rect x="236.7" y="352.3" width="3.3" height="209.6" fill="#BFBFBF"/>
<rect x="316.4" y="352.3" width="3.3" height="209.6" fill="#BFBFBF"/>
<rect x="404.8" y="352.3" width="3.3" height="209.6" fill="#BFBFBF"/>
<rect x="413.8" y="352.3" width="3.3" height="209.6" fill="#BFBFBF"/>
<rect x="424.2" y="352.3" width="3.3" height="209.6" fill="#BFBFBF"/>
<rect x="431.4" y="352.3" width="3.3" height="209.6" fill="#BFBFBF"/>
<rect x="440.6" y="352.3" width="4.8" height="209.6" fill="#BFBFBF"/>
<rect x="445.8" y="352.3" width="4.8" height="209.6" fill="#BFBFBF"/>
<rect x="456.1" y="352.3" width="3.3" height="209.6" fill="#BFBFBF"/>
<rect x="469.2" y="352.3" width="3.3" height="209.6" fill="#BFBFBF"/>
<rect x="474.8" y="380.0" width="3.3" height="181.9" fill="#BFBFBF"/>
<rect x="492.4" y="352.3" width="3.3" height="209.6" fill="#BFBFBF"/>
<rect x="527.2" y="352.3" width="3.3" height="209.6" fill="#BFBFBF"/>
<rect x="624.0" y="352.3" width="3.3" height="209.6" fill="#BFBFBF"/>
<rect x="649.8" y="352.3" width="3.3" height="209.6" fill="#BFBFBF"/>
<rect x="674.4" y="363.0" width="3.3" height="198.9" fill="#BFBFBF"/>
<rect x="680.6" y="352.3" width="5.0" height="209.6" fill="#BFBFBF"/>
<rect x="698.4" y="352.3" width="3.3" height="209.6" fill="#BFBFBF"/>
<rect x="711.6" y="352.3" width="3.3" height="209.6" fill="#BFBFBF"/>
<rect x="737.0" y="352.3" width="7.2" height="209.6" fill="#BFBFBF"/>
<rect x="765.2" y="352.3" width="3.3" height="209.6" fill="#BFBFBF"/>
<rect x="781.6" y="352.3" width="3.3" height="209.6" fill="#BFBFBF"/>
<rect x="816.5" y="352.3" width="3.3" height="209.6" fill="#BFBFBF"/>
<rect x="822.5" y="352.3" width="3.3" height="209.6" fill="#BFBFBF"/>
<rect x="866.1" y="352.3" width="3.3" height="209.6" fill="#BFBFBF"/>
<rect x="893.1" y="352.3" width="3.3" height="209.6" fill="#BFBFBF"/>
<rect x="943.4" y="352.3" width="3.3" height="209.6" fill="#BFBFBF"/>
<rect x="986.5" y="352.3" width="5.4" height="209.6" fill="#BFBFBF"/>
<rect x="106.2" y="505.0" width="2.5" height="56.9" fill="#BFBFBF"/>
<rect x="425.0" y="422.0" width="6.0" height="26.0" fill="#BFBFBF"/>
<rect x="425.5" y="500.0" width="5.0" height="20.0" fill="#BFBFBF"/>
<polygon points="106.1,443.0 108.1,443.0 108.1,431.3 110.1,431.3 110.1,441.4 112.1,441.4 112.1,440.9 114.1,440.9 114.1,435.6 116.1,435.6 116.1,428.5 118.1,428.5 118.1,428.0 120.1,428.0 120.1,434.2 122.1,434.2 122.1,439.7 124.1,439.7 124.1,434.5 126.1,434.5 126.1,432.9 128.1,432.9 128.1,430.2 130.1,430.2 130.1,433.2 132.1,433.2 132.1,439.4 134.1,439.4 134.1,439.4 136.1,439.4 136.1,439.4 138.1,439.4 138.1,439.4 140.1,439.4 140.1,439.4 142.1,439.4 142.1,434.1 144.1,434.1 144.1,433.2 146.1,433.2 146.1,439.4 148.1,439.4 148.1,427.9 150.1,427.9 150.1,439.4 152.1,439.4 152.1,434.3 154.1,434.3 154.1,439.1 156.1,439.1 156.1,426.1 158.1,426.1 158.1,431.1 160.1,431.1 160.1,430.4 162.1,430.4 162.1,438.5 164.1,438.5 164.1,438.4 166.1,438.4 166.1,438.2 168.1,438.2 168.1,430.0 170.1,430.0 170.1,429.1 172.1,429.1 172.1,432.0 174.1,432.0 174.1,431.9 176.1,431.9 176.1,431.8 178.1,431.8 178.1,431.7 180.1,431.7 180.1,431.7 182.1,431.7 182.1,425.8 184.1,425.8 184.1,431.5 186.1,431.5 186.1,428.8 188.1,428.8 188.1,427.9 190.1,427.9 190.1,426.2 192.1,426.2 192.1,436.3 194.1,436.3 194.1,436.4 196.1,436.4 196.1,436.5 198.1,436.5 198.1,431.6 200.1,431.6 200.1,436.8 202.1,436.8 202.1,436.9 204.1,436.9 204.1,436.6 206.1,436.6 206.1,436.3 208.1,436.3 208.1,436.0 210.1,436.0 210.1,429.5 212.1,429.5 212.1,427.0 214.1,427.0 214.1,428.5 216.1,428.5 216.1,434.7 218.1,434.7 218.1,423.3 220.1,423.3 220.1,428.6 222.1,428.6 222.1,427.3 224.1,427.3 224.1,421.8 226.1,421.8 226.1,420.7 228.1,420.7 228.1,421.3 230.1,421.3 230.1,433.1 232.1,433.1 232.1,423.6 234.1,423.6 234.1,422.4 236.1,422.4 236.1,433.4 238.1,433.4 238.1,433.5 240.1,433.5 240.1,433.6 242.1,433.6 242.1,433.7 244.1,433.7 244.1,433.8 246.1,433.8 246.1,428.5 248.1,428.5 248.1,428.9 250.1,428.9 250.1,434.1 252.1,434.1 252.1,429.1 254.1,429.1 254.1,434.2 256.1,434.2 256.1,428.7 258.1,428.7 258.1,427.8 260.1,427.8 260.1,433.6 262.1,433.6 262.1,420.6 264.1,420.6 264.1,428.1 266.1,428.1 266.1,433.0 268.1,433.0 268.1,426.9 270.1,426.9 270.1,432.6 272.1,432.6 272.1,422.7 274.1,422.7 274.1,426.5 276.1,426.5 276.1,424.7 278.1,424.7 278.1,426.5 280.1,426.5 280.1,425.2 282.1,425.2 282.1,431.7 284.1,431.7 284.1,422.7 286.1,422.7 286.1,423.6 288.1,423.6 288.1,426.0 290.1,426.0 290.1,431.7 292.1,431.7 292.1,431.7 294.1,431.7 294.1,426.6 296.1,426.6 296.1,431.7 298.1,431.7 298.1,431.7 300.1,431.7 300.1,425.3 302.1,425.3 302.1,425.2 304.1,425.2 304.1,431.7 306.1,431.7 306.1,425.8 308.1,425.8 308.1,432.0 310.1,432.0 310.1,422.1 312.1,422.1 312.1,426.7 314.1,426.7 314.1,426.6 316.1,426.6 316.1,425.7 318.1,425.7 318.1,427.3 320.1,427.3 320.1,423.8 322.1,423.8 322.1,428.4 324.1,428.4 324.1,427.7 326.1,427.7 326.1,427.2 328.1,427.2 328.1,428.4 330.1,428.4 330.1,423.5 332.1,423.5 332.1,434.1 334.1,434.1 334.1,427.3 336.1,427.3 336.1,433.7 338.1,433.7 338.1,422.8 340.1,422.8 340.1,433.3 342.1,433.3 342.1,422.5 344.1,422.5 344.1,420.7 346.1,420.7 346.1,427.0 348.1,427.0 348.1,432.5 350.1,432.5 350.1,422.1 352.1,422.1 352.1,426.2 354.1,426.2 354.1,426.4 356.1,426.4 356.1,431.7 358.1,431.7 358.1,431.7 360.1,431.7 360.1,431.8 362.1,431.8 362.1,444.6 364.1,444.6 364.1,444.8 366.1,444.8 366.1,445.0 368.1,445.0 368.1,432.6 370.1,432.6 370.1,436.7 372.1,436.7 372.1,433.3 374.1,433.3 374.1,436.8 376.1,436.8 376.1,446.2 378.1,446.2 378.1,437.4 380.1,437.4 380.1,441.8 382.1,441.8 382.1,447.4 384.1,447.4 384.1,447.8 386.1,447.8 386.1,448.2 388.1,448.2 388.1,435.7 390.1,435.7 390.1,440.8 392.1,440.8 392.1,444.1 394.1,444.1 394.1,449.7 396.1,449.7 396.1,450.1 398.1,450.1 398.1,450.5 400.1,450.5 400.1,450.9 402.1,450.9 402.1,445.9 404.1,445.9 404.1,450.8 406.1,450.8 406.1,440.5 408.1,440.5 408.1,445.6 410.1,445.6 410.1,444.6 412.1,444.6 412.1,444.5 414.1,444.5 414.1,442.7 416.1,442.7 416.1,442.0 418.1,442.0 418.1,443.5 420.1,443.5 420.1,450.0 422.1,450.0 422.1,443.5 424.1,443.5 424.1,443.9 426.1,443.9 426.1,449.7 428.1,449.7 428.1,449.5 430.1,449.5 430.1,449.3 432.1,449.3 432.1,449.1 434.1,449.1 434.1,448.9 436.1,448.9 436.1,448.7 438.1,448.7 438.1,448.5 440.1,448.5 440.1,439.9 442.1,439.9 442.1,439.7 444.1,439.7 444.1,447.9 446.1,447.9 446.1,434.9 448.1,434.9 448.1,442.1 450.1,442.1 450.1,439.5 452.1,439.5 452.1,438.2 454.1,438.2 454.1,447.2 456.1,447.2 456.1,447.3 458.1,447.3 458.1,441.0 460.1,441.0 460.1,441.8 462.1,441.8 462.1,447.6 464.1,447.6 464.1,447.7 466.1,447.7 466.1,442.0 468.1,442.0 468.1,447.9 470.1,447.9 470.1,448.0 472.1,448.0 472.1,448.1 474.1,448.1 474.1,448.2 476.1,448.2 476.1,448.3 478.1,448.3 478.1,448.4 480.1,448.4 480.1,448.3 482.1,448.3 482.1,448.2 484.1,448.2 484.1,437.9 486.1,437.9 486.1,436.6 488.1,436.6 488.1,447.9 490.1,447.9 490.1,440.6 492.1,440.6 492.1,447.7 494.1,447.7 494.1,447.6 496.1,447.6 496.1,447.5 498.1,447.5 498.1,434.9 500.1,434.9 500.1,442.0 502.1,442.0 502.1,447.2 504.1,447.2 504.1,438.6 506.1,438.6 506.1,447.2 508.1,447.2 508.1,442.3 510.1,442.3 510.1,439.2 512.1,439.2 512.1,441.8 514.1,441.8 514.1,434.7 516.1,434.7 516.1,441.5 518.1,441.5 518.1,442.8 520.1,442.8 520.1,447.9 522.1,447.9 522.1,448.1 524.1,448.1 524.1,441.5 526.1,441.5 526.1,443.1 528.1,443.1 528.1,442.3 530.1,442.3 530.1,448.3 532.1,448.3 532.1,442.6 534.1,442.6 534.1,448.1 536.1,448.1 536.1,442.2 538.1,442.2 538.1,439.1 540.1,439.1 540.1,436.2 542.1,436.2 542.1,447.7 544.1,447.7 544.1,442.7 546.1,442.7 546.1,447.5 548.1,447.5 548.1,447.4 550.1,447.4 550.1,441.2 552.1,441.2 552.1,439.8 554.1,439.8 554.1,447.1 556.1,447.1 556.1,447.0 558.1,447.0 558.1,440.2 560.1,440.2 560.1,438.4 562.1,438.4 562.1,439.8 564.1,439.8 564.1,446.7 566.1,446.7 566.1,440.0 568.1,440.0 568.1,446.5 570.1,446.5 570.1,446.4 572.1,446.4 572.1,446.3 574.1,446.3 574.1,438.8 576.1,438.8 576.1,446.1 578.1,446.1 578.1,436.7 580.1,436.7 580.1,445.9 582.1,445.9 582.1,437.3 584.1,437.3 584.1,445.9 586.1,445.9 586.1,438.1 588.1,438.1 588.1,430.4 590.1,430.4 590.1,430.1 592.1,430.1 592.1,429.9 594.1,429.9 594.1,429.7 596.1,429.7 596.1,418.6 598.1,418.6 598.1,429.2 600.1,429.2 600.1,429.1 602.1,429.1 602.1,417.8 604.1,417.8 604.1,429.0 606.1,429.0 606.1,421.7 608.1,421.7 608.1,419.0 610.1,419.0 610.1,423.9 612.1,423.9 612.1,421.3 614.1,421.3 614.1,428.9 616.1,428.9 616.1,428.8 618.1,428.8 618.1,423.7 620.1,423.7 620.1,422.9 622.1,422.9 622.1,428.7 624.1,428.7 624.1,422.9 626.1,422.9 626.1,421.9 628.1,421.9 628.1,428.6 630.1,428.6 630.1,428.6 632.1,428.6 632.1,428.6 634.1,428.6 634.1,428.5 636.1,428.5 636.1,423.5 638.1,423.5 638.1,416.2 640.1,416.2 640.1,428.4 642.1,428.4 642.1,428.4 644.1,428.4 644.1,422.3 646.1,422.3 646.1,419.8 648.1,419.8 648.1,419.5 650.1,419.5 650.1,423.2 652.1,423.2 652.1,423.2 654.1,423.2 654.1,421.4 656.1,421.4 656.1,423.0 658.1,423.0 658.1,422.3 660.1,422.3 660.1,428.1 662.1,428.1 662.1,422.1 664.1,422.1 664.1,428.0 666.1,428.0 666.1,428.0 668.1,428.0 668.1,428.0 670.1,428.0 670.1,420.8 672.1,420.8 672.1,427.9 674.1,427.9 674.1,422.8 676.1,422.8 676.1,427.7 678.1,427.7 678.1,427.6 680.1,427.6 680.1,415.6 682.1,415.6 682.1,422.4 684.1,422.4 684.1,427.3 686.1,427.3 686.1,422.1 688.1,422.1 688.1,415.3 690.1,415.3 690.1,420.4 692.1,420.4 692.1,416.0 694.1,416.0 694.1,426.8 696.1,426.8 696.1,426.7 698.1,426.7 698.1,426.6 700.1,426.6 700.1,420.5 702.1,420.5 702.1,419.6 704.1,419.6 704.1,416.7 706.1,416.7 706.1,421.4 708.1,421.4 708.1,414.5 710.1,414.5 710.1,426.3 712.1,426.3 712.1,426.3 714.1,426.3 714.1,426.3 716.1,426.3 716.1,426.2 718.1,426.2 718.1,426.2 720.1,426.2 720.1,426.1 722.1,426.1 722.1,426.1 724.1,426.1 724.1,426.1 726.1,426.1 726.1,426.0 728.1,426.0 728.1,426.0 730.1,426.0 730.1,418.0 732.1,418.0 732.1,419.2 734.1,419.2 734.1,425.9 736.1,425.9 736.1,414.1 738.1,414.1 738.1,425.8 740.1,425.8 740.1,412.8 742.1,412.8 742.1,420.7 744.1,420.7 744.1,417.4 746.1,417.4 746.1,419.9 748.1,419.9 748.1,419.9 750.1,419.9 750.1,418.3 752.1,418.3 752.1,425.5 754.1,425.5 754.1,418.7 756.1,418.7 756.1,416.1 758.1,416.1 758.1,425.4 760.1,425.4 760.1,425.3 762.1,425.3 762.1,419.7 764.1,419.7 764.1,417.0 766.1,417.0 766.1,425.2 768.1,425.2 768.1,419.2 770.1,419.2 770.1,417.8 772.1,417.8 772.1,425.1 774.1,425.1 774.1,413.4 776.1,413.4 776.1,412.9 778.1,412.9 778.1,425.0 780.1,425.0 780.1,424.9 782.1,424.9 782.1,413.5 784.1,413.5 784.1,415.6 786.1,415.6 786.1,419.5 788.1,419.5 788.1,424.8 790.1,424.8 790.1,419.1 792.1,419.1 792.1,415.7 794.1,415.7 794.1,415.5 796.1,415.5 796.1,424.6 798.1,424.6 798.1,424.6 800.1,424.6 800.1,411.8 802.1,411.8 802.1,424.5 804.1,424.5 804.1,424.4 806.1,424.4 806.1,419.0 808.1,419.0 808.1,424.4 810.1,424.4 810.1,417.7 812.1,417.7 812.1,424.3 814.1,424.3 814.1,418.8 816.1,418.8 816.1,416.2 818.1,416.2 818.1,417.6 820.1,417.6 820.1,424.1 822.1,424.1 822.1,424.1 824.1,424.1 824.1,412.8 826.1,412.8 826.1,414.2 828.1,414.2 828.1,416.8 830.1,416.8 830.1,417.7 832.1,417.7 832.1,423.9 834.1,423.9 834.1,423.9 836.1,423.9 836.1,417.6 838.1,417.6 838.1,417.6 840.1,417.6 840.1,423.8 842.1,423.8 842.1,416.7 844.1,416.7 844.1,423.7 846.1,423.7 846.1,423.7 848.1,423.7 848.1,416.0 850.1,416.0 850.1,423.6 852.1,423.6 852.1,417.6 854.1,417.6 854.1,417.9 856.1,417.9 856.1,418.3 858.1,418.3 858.1,416.4 860.1,416.4 860.1,418.1 862.1,418.1 862.1,418.2 864.1,418.2 864.1,423.4 866.1,423.4 866.1,416.7 868.1,416.7 868.1,414.5 870.1,414.5 870.1,423.3 872.1,423.3 872.1,423.3 874.1,423.3 874.1,423.3 876.1,423.3 876.1,423.2 878.1,423.2 878.1,423.2 880.1,423.2 880.1,423.2 882.1,423.2 882.1,423.2 884.1,423.2 884.1,417.5 886.1,417.5 886.1,417.6 888.1,417.6 888.1,416.9 890.1,416.9 890.1,412.9 892.1,412.9 892.1,412.1 894.1,412.1 894.1,423.0 896.1,423.0 896.1,422.9 898.1,422.9 898.1,414.3 900.1,414.3 900.1,422.9 902.1,422.9 902.1,417.3 904.1,417.3 904.1,422.9 906.1,422.9 906.1,422.9 908.1,422.9 908.1,423.0 910.1,423.0 910.1,417.8 912.1,417.8 912.1,423.0 914.1,423.0 914.1,417.6 916.1,417.6 916.1,416.7 918.1,416.7 918.1,415.4 920.1,415.4 920.1,410.6 922.1,410.6 922.1,417.8 924.1,417.8 924.1,418.0 926.1,418.0 926.1,415.5 928.1,415.5 928.1,423.1 930.1,423.1 930.1,423.1 932.1,423.1 932.1,414.6 934.1,414.6 934.1,423.1 936.1,423.1 936.1,415.5 938.1,415.5 938.1,423.2 940.1,423.2 940.1,423.2 942.1,423.2 942.1,423.2 944.1,423.2 944.1,414.5 946.1,414.5 946.1,423.2 948.1,423.2 948.1,418.2 950.1,418.2 950.1,417.9 952.1,417.9 952.1,417.5 954.1,417.5 954.1,418.0 956.1,418.0 956.1,423.3 958.1,423.3 958.1,415.7 960.1,415.7 960.1,416.6 962.1,416.6 962.1,423.4 964.1,423.4 964.1,416.2 966.1,416.2 966.1,423.5 968.1,423.5 968.1,414.3 970.1,414.3 970.1,423.6 972.1,423.6 972.1,423.7 974.1,423.7 974.1,418.8 976.1,418.8 976.1,416.9 978.1,416.9 978.1,418.9 980.1,418.9 980.1,415.7 982.1,415.7 982.1,419.0 984.1,419.0 984.1,424.1 986.1,424.1 986.1,418.9 988.1,418.9 988.1,424.2 990.1,424.2 990.1,424.2 992.1,424.2 992.1,415.6 994.1,415.6 994.1,415.2 996.1,415.2 996.1,424.5 998.1,424.5 998.1,416.4 1000.1,416.4 1000.1,418.6 1002.1,418.6 1002.1,419.0 1004.1,419.0 1004.1,424.7 1006.1,424.7 1006.1,419.9 1008.1,419.9 1008.1,416.0 1010.1,416.0 1010.1,480.6 1008.1,480.6 1008.1,483.3 1006.1,483.3 1006.1,475.5 1004.1,475.5 1004.1,486.7 1002.1,486.7 1002.1,475.5 1000.1,475.5 1000.1,475.5 998.1,475.5 998.1,475.5 996.1,475.5 996.1,475.5 994.1,475.5 994.1,488.4 992.1,488.4 992.1,485.1 990.1,485.1 990.1,475.5 988.1,475.5 988.1,484.3 986.1,484.3 986.1,482.7 984.1,482.7 984.1,475.7 982.1,475.7 982.1,475.8 980.1,475.8 980.1,475.9 978.1,475.9 978.1,475.9 976.1,475.9 976.1,486.5 974.1,486.5 974.1,476.1 972.1,476.1 972.1,476.1 970.1,476.1 970.1,482.7 968.1,482.7 968.1,476.3 966.1,476.3 966.1,483.7 964.1,483.7 964.1,481.5 962.1,481.5 962.1,482.0 960.1,482.0 960.1,476.5 958.1,476.5 958.1,482.0 956.1,482.0 956.1,487.9 954.1,487.9 954.1,476.6 952.1,476.6 952.1,476.6 950.1,476.6 950.1,476.6 948.1,476.6 948.1,481.8 946.1,481.8 946.1,476.6 944.1,476.6 944.1,476.7 942.1,476.7 942.1,476.7 940.1,476.7 940.1,485.6 938.1,485.6 938.1,476.7 936.1,476.7 936.1,482.8 934.1,482.8 934.1,486.0 932.1,486.0 932.1,476.8 930.1,476.8 930.1,485.4 928.1,485.4 928.1,476.8 926.1,476.8 926.1,484.0 924.1,484.0 924.1,482.1 922.1,482.1 922.1,482.2 920.1,482.2 920.1,483.9 918.1,483.9 918.1,482.2 916.1,482.2 916.1,487.7 914.1,487.7 914.1,484.5 912.1,484.5 912.1,477.0 910.1,477.0 910.1,477.0 908.1,477.0 908.1,483.9 906.1,483.9 906.1,482.6 904.1,482.6 904.1,486.2 902.1,486.2 902.1,477.1 900.1,477.1 900.1,477.1 898.1,477.1 898.1,477.1 896.1,477.1 896.1,488.6 894.1,488.6 894.1,482.3 892.1,482.3 892.1,477.1 890.1,477.1 890.1,477.1 888.1,477.1 888.1,477.1 886.1,477.1 886.1,477.1 884.1,477.1 884.1,477.1 882.1,477.1 882.1,477.1 880.1,477.1 880.1,483.4 878.1,483.4 878.1,477.1 876.1,477.1 876.1,482.2 874.1,482.2 874.1,477.1 872.1,477.1 872.1,477.1 870.1,477.1 870.1,477.1 868.1,477.1 868.1,482.4 866.1,482.4 866.1,477.1 864.1,477.1 864.1,477.1 862.1,477.1 862.1,477.1 860.1,477.1 860.1,483.0 858.1,483.0 858.1,484.4 856.1,484.4 856.1,477.1 854.1,477.1 854.1,482.8 852.1,482.8 852.1,477.1 850.1,477.1 850.1,477.1 848.1,477.1 848.1,477.1 846.1,477.1 846.1,477.1 844.1,477.1 844.1,488.0 842.1,488.0 842.1,477.1 840.1,477.1 840.1,482.9 838.1,482.9 838.1,477.1 836.1,477.1 836.1,482.3 834.1,482.3 834.1,477.1 832.1,477.1 832.1,483.4 830.1,483.4 830.1,477.1 828.1,477.1 828.1,477.1 826.1,477.1 826.1,477.1 824.1,477.1 824.1,477.1 822.1,477.1 822.1,477.0 820.1,477.0 820.1,477.0 818.1,477.0 818.1,482.0 816.1,482.0 816.1,477.0 814.1,477.0 814.1,484.0 812.1,484.0 812.1,481.9 810.1,481.9 810.1,483.5 808.1,483.5 808.1,476.9 806.1,476.9 806.1,476.9 804.1,476.9 804.1,483.7 802.1,483.7 802.1,482.4 800.1,482.4 800.1,476.8 798.1,476.8 798.1,476.8 796.1,476.8 796.1,476.8 794.1,476.8 794.1,476.8 792.1,476.8 792.1,484.0 790.1,484.0 790.1,476.7 788.1,476.7 788.1,476.7 786.1,476.7 786.1,487.4 784.1,487.4 784.1,476.7 782.1,476.7 782.1,488.2 780.1,488.2 780.1,476.7 778.1,476.7 778.1,481.6 776.1,481.6 776.1,483.0 774.1,483.0 774.1,488.6 772.1,488.6 772.1,487.4 770.1,487.4 770.1,476.6 768.1,476.6 768.1,482.3 766.1,482.3 766.1,481.9 764.1,481.9 764.1,481.5 762.1,481.5 762.1,481.5 760.1,481.5 760.1,488.7 758.1,488.7 758.1,476.4 756.1,476.4 756.1,476.4 754.1,476.4 754.1,482.7 752.1,482.7 752.1,482.8 750.1,482.8 750.1,482.2 748.1,482.2 748.1,476.4 746.1,476.4 746.1,481.8 744.1,481.8 744.1,476.3 742.1,476.3 742.1,485.4 740.1,485.4 740.1,483.9 738.1,483.9 738.1,476.3 736.1,476.3 736.1,484.3 734.1,484.3 734.1,483.3 732.1,483.3 732.1,482.5 730.1,482.5 730.1,476.2 728.1,476.2 728.1,476.2 726.1,476.2 726.1,483.8 724.1,483.8 724.1,476.1 722.1,476.1 722.1,476.1 720.1,476.1 720.1,486.9 718.1,486.9 718.1,482.7 716.1,482.7 716.1,485.1 714.1,485.1 714.1,482.1 712.1,482.1 712.1,476.0 710.1,476.0 710.1,476.0 708.1,476.0 708.1,481.0 706.1,481.0 706.1,476.0 704.1,476.0 704.1,483.4 702.1,483.4 702.1,481.8 700.1,481.8 700.1,475.9 698.1,475.9 698.1,483.2 696.1,483.2 696.1,481.6 694.1,481.6 694.1,476.4 692.1,476.4 692.1,476.6 690.1,476.6 690.1,485.9 688.1,485.9 688.1,482.4 686.1,482.4 686.1,483.9 684.1,483.9 684.1,482.4 682.1,482.4 682.1,483.2 680.1,483.2 680.1,486.7 678.1,486.7 678.1,483.5 676.1,483.5 676.1,478.2 674.1,478.2 674.1,483.5 672.1,483.5 672.1,478.4 670.1,478.4 670.1,478.3 668.1,478.3 668.1,484.0 666.1,484.0 666.1,478.3 664.1,478.3 664.1,478.2 662.1,478.2 662.1,488.6 660.1,488.6 660.1,478.2 658.1,478.2 658.1,478.1 656.1,478.1 656.1,487.2 654.1,487.2 654.1,478.0 652.1,478.0 652.1,483.9 650.1,483.9 650.1,485.9 648.1,485.9 648.1,482.9 646.1,482.9 646.1,483.7 644.1,483.7 644.1,485.9 642.1,485.9 642.1,483.6 640.1,483.6 640.1,477.8 638.1,477.8 638.1,484.1 636.1,484.1 636.1,484.8 634.1,484.8 634.1,488.7 632.1,488.7 632.1,477.7 630.1,477.7 630.1,477.6 628.1,477.6 628.1,477.6 626.1,477.6 626.1,482.5 624.1,482.5 624.1,477.5 622.1,477.5 622.1,477.5 620.1,477.5 620.1,484.4 618.1,484.4 618.1,483.8 616.1,483.8 616.1,485.6 614.1,485.6 614.1,477.3 612.1,477.3 612.1,486.3 610.1,486.3 610.1,477.3 608.1,477.3 608.1,477.2 606.1,477.2 606.1,477.2 604.1,477.2 604.1,477.2 602.1,477.2 602.1,482.8 600.1,482.8 600.1,477.0 598.1,477.0 598.1,476.8 596.1,476.8 596.1,485.3 594.1,485.3 594.1,487.9 592.1,487.9 592.1,476.1 590.1,476.1 590.1,475.9 588.1,475.9 588.1,497.7 586.1,497.7 586.1,497.7 584.1,497.7 584.1,497.7 582.1,497.7 582.1,505.3 580.1,505.3 580.1,497.6 578.1,497.6 578.1,497.5 576.1,497.5 576.1,497.4 574.1,497.4 574.1,502.3 572.1,502.3 572.1,497.2 570.1,497.2 570.1,504.3 568.1,504.3 568.1,497.0 566.1,497.0 566.1,496.9 564.1,496.9 564.1,502.1 562.1,502.1 562.1,496.7 560.1,496.7 560.1,496.6 558.1,496.6 558.1,506.2 556.1,506.2 556.1,496.4 554.1,496.4 554.1,501.4 552.1,501.4 552.1,496.2 550.1,496.2 550.1,501.3 548.1,501.3 548.1,496.0 546.1,496.0 546.1,495.9 544.1,495.9 544.1,495.8 542.1,495.8 542.1,495.7 540.1,495.7 540.1,495.6 538.1,495.6 538.1,500.4 536.1,500.4 536.1,507.0 534.1,507.0 534.1,500.3 532.1,500.3 532.1,495.2 530.1,495.2 530.1,495.1 528.1,495.1 528.1,495.1 526.1,495.1 526.1,501.7 524.1,501.7 524.1,495.1 522.1,495.1 522.1,495.1 520.1,495.1 520.1,500.1 518.1,500.1 518.1,506.4 516.1,506.4 516.1,500.9 514.1,500.9 514.1,495.1 512.1,495.1 512.1,495.1 510.1,495.1 510.1,495.1 508.1,495.1 508.1,495.1 506.1,495.1 506.1,500.2 504.1,500.2 504.1,504.7 502.1,504.7 502.1,495.3 500.1,495.3 500.1,500.4 498.1,500.4 498.1,501.2 496.1,501.2 496.1,503.7 494.1,503.7 494.1,501.6 492.1,501.6 492.1,501.0 490.1,501.0 490.1,495.9 488.1,495.9 488.1,501.4 486.1,501.4 486.1,507.4 484.1,507.4 484.1,501.7 482.1,501.7 482.1,505.4 480.1,505.4 480.1,501.4 478.1,501.4 478.1,503.5 476.1,503.5 476.1,496.9 474.1,496.9 474.1,497.2 472.1,497.2 472.1,504.4 470.1,504.4 470.1,503.7 468.1,503.7 468.1,498.1 466.1,498.1 466.1,498.4 464.1,498.4 464.1,498.8 462.1,498.8 462.1,511.1 460.1,511.1 460.1,499.4 458.1,499.4 458.1,507.3 456.1,507.3 456.1,504.9 454.1,504.9 454.1,500.3 452.1,500.3 452.1,506.1 450.1,506.1 450.1,509.0 448.1,509.0 448.1,499.7 446.1,499.7 446.1,505.3 444.1,505.3 444.1,506.6 442.1,506.6 442.1,499.1 440.1,499.1 440.1,504.0 438.1,504.0 438.1,504.2 436.1,504.2 436.1,498.5 434.1,498.5 434.1,505.6 432.1,505.6 432.1,506.1 430.1,506.1 430.1,497.9 428.1,497.9 428.1,502.7 426.1,502.7 426.1,497.7 424.1,497.7 424.1,497.7 422.1,497.7 422.1,497.7 420.1,497.7 420.1,503.1 418.1,503.1 418.1,497.7 416.1,497.7 416.1,505.4 414.1,505.4 414.1,505.9 412.1,505.9 412.1,497.7 410.1,497.7 410.1,505.7 408.1,505.7 408.1,509.5 406.1,509.5 406.1,504.7 404.1,504.7 404.1,502.9 402.1,502.9 402.1,504.6 400.1,504.6 400.1,498.0 398.1,498.0 398.1,498.4 396.1,498.4 396.1,498.7 394.1,498.7 394.1,506.7 392.1,506.7 392.1,509.2 390.1,509.2 390.1,499.6 388.1,499.6 388.1,505.9 386.1,505.9 386.1,505.3 384.1,505.3 384.1,500.5 382.1,500.5 382.1,508.5 380.1,508.5 380.1,501.1 378.1,501.1 378.1,501.4 376.1,501.4 376.1,514.5 374.1,514.5 374.1,502.6 372.1,502.6 372.1,511.7 370.1,511.7 370.1,515.0 368.1,515.0 368.1,512.8 366.1,512.8 366.1,505.9 364.1,505.9 364.1,506.7 362.1,506.7 362.1,492.3 360.1,492.3 360.1,486.1 358.1,486.1 358.1,492.3 356.1,492.3 356.1,497.1 354.1,497.1 354.1,485.9 352.1,485.9 352.1,491.4 350.1,491.4 350.1,496.7 348.1,496.7 348.1,492.1 346.1,492.1 346.1,495.1 344.1,495.1 344.1,485.4 342.1,485.4 342.1,490.6 340.1,490.6 340.1,485.3 338.1,485.3 338.1,485.2 336.1,485.2 336.1,494.2 334.1,494.2 334.1,485.0 332.1,485.0 332.1,491.0 330.1,491.0 330.1,497.1 328.1,497.1 328.1,491.4 326.1,491.4 326.1,485.5 324.1,485.5 324.1,493.3 322.1,493.3 322.1,491.4 320.1,491.4 320.1,496.6 318.1,496.6 318.1,486.3 316.1,486.3 316.1,486.5 314.1,486.5 314.1,492.1 312.1,492.1 312.1,494.4 310.1,494.4 310.1,487.1 308.1,487.1 308.1,487.3 306.1,487.3 306.1,487.4 304.1,487.4 304.1,492.5 302.1,492.5 302.1,487.2 300.1,487.2 300.1,498.6 298.1,498.6 298.1,487.0 296.1,487.0 296.1,492.5 294.1,492.5 294.1,486.8 292.1,486.8 292.1,486.7 290.1,486.7 290.1,492.2 288.1,492.2 288.1,492.2 286.1,492.2 286.1,491.7 284.1,491.7 284.1,486.3 282.1,486.3 282.1,497.9 280.1,497.9 280.1,494.0 278.1,494.0 278.1,486.0 276.1,486.0 276.1,491.0 274.1,491.0 274.1,495.2 272.1,495.2 272.1,485.7 270.1,485.7 270.1,485.6 268.1,485.6 268.1,495.4 266.1,495.4 266.1,485.4 264.1,485.4 264.1,485.3 262.1,485.3 262.1,485.2 260.1,485.2 260.1,495.5 258.1,495.5 258.1,496.6 256.1,496.6 256.1,484.9 254.1,484.9 254.1,490.7 252.1,490.7 252.1,490.4 250.1,490.4 250.1,485.1 248.1,485.1 248.1,494.9 246.1,494.9 246.1,485.3 244.1,485.3 244.1,485.4 242.1,485.4 242.1,485.5 240.1,485.5 240.1,495.1 238.1,495.1 238.1,491.5 236.1,491.5 236.1,498.5 234.1,498.5 234.1,485.9 232.1,485.9 232.1,491.0 230.1,491.0 230.1,486.1 228.1,486.1 228.1,486.3 226.1,486.3 226.1,486.5 224.1,486.5 224.1,498.8 222.1,498.8 222.1,486.9 220.1,486.9 220.1,492.5 218.1,492.5 218.1,493.2 216.1,493.2 216.1,487.5 214.1,487.5 214.1,487.7 212.1,487.7 212.1,499.4 210.1,499.4 210.1,488.1 208.1,488.1 208.1,497.0 206.1,497.0 206.1,493.6 204.1,493.6 204.1,488.7 202.1,488.7 202.1,500.2 200.1,500.2 200.1,494.0 198.1,494.0 198.1,494.3 196.1,494.3 196.1,497.7 194.1,497.7 194.1,500.7 192.1,500.7 192.1,495.1 190.1,495.1 190.1,489.9 188.1,489.9 188.1,500.5 186.1,500.5 186.1,499.1 184.1,499.1 184.1,498.5 182.1,498.5 182.1,499.5 180.1,499.5 180.1,499.1 178.1,499.1 178.1,500.3 176.1,500.3 176.1,493.7 174.1,493.7 174.1,500.4 172.1,500.4 172.1,493.5 170.1,493.5 170.1,499.2 168.1,499.2 168.1,500.9 166.1,500.9 166.1,493.2 164.1,493.2 164.1,493.3 162.1,493.3 162.1,493.4 160.1,493.4 160.1,502.3 158.1,502.3 158.1,501.4 156.1,501.4 156.1,498.9 154.1,498.9 154.1,493.8 152.1,493.8 152.1,498.9 150.1,498.9 150.1,494.2 148.1,494.2 148.1,494.5 146.1,494.5 146.1,494.8 144.1,494.8 144.1,495.1 142.1,495.1 142.1,500.4 140.1,500.4 140.1,495.7 138.1,495.7 138.1,507.4 136.1,507.4 136.1,496.3 134.1,496.3 134.1,496.6 132.1,496.6 132.1,496.9 130.1,496.9 130.1,497.2 128.1,497.2 128.1,503.4 126.1,503.4 126.1,497.9 124.1,497.9 124.1,506.9 122.1,506.9 122.1,499.1 120.1,499.1 120.1,507.8 118.1,507.8 118.1,507.4 116.1,507.4 116.1,508.5 114.1,508.5 114.1,512.0 112.1,512.0 112.1,502.8 110.1,502.8 110.1,504.4 108.1,504.4 108.1,506.1 106.1,506.1" fill="#BFBFBF"/>
<polygon points="103.9,439.2 104.9,439.2 104.9,438.9 105.9,438.9 105.9,440.7 106.9,440.7 106.9,440.3 107.9,440.3 107.9,439.8 108.9,439.8 108.9,439.4 109.9,439.4 109.9,440.3 110.9,440.3 110.9,439.9 111.9,439.9 111.9,439.6 112.9,439.6 112.9,439.5 113.9,439.5 113.9,436.4 114.9,436.4 114.9,436.3 115.9,436.3 115.9,436.1 116.9,436.1 116.9,436.0 117.9,436.0 117.9,436.3 118.9,436.3 118.9,436.2 119.9,436.2 119.9,436.1 120.9,436.1 120.9,437.0 121.9,437.0 121.9,436.9 122.9,436.9 122.9,437.2 123.9,437.2 123.9,437.1 124.9,437.1 124.9,437.0 125.9,437.0 125.9,436.9 126.9,436.9 126.9,436.9 127.9,436.9 127.9,436.9 128.9,436.9 128.9,439.8 129.9,439.8 129.9,439.8 130.9,439.8 130.9,439.8 131.9,439.8 131.9,439.8 132.9,439.8 132.9,439.8 133.9,439.8 133.9,439.8 134.9,439.8 134.9,436.5 135.9,436.5 135.9,436.5 136.9,436.5 136.9,436.5 137.9,436.5 137.9,436.5 138.9,436.5 138.9,439.0 139.9,439.0 139.9,439.0 140.9,439.0 140.9,439.0 141.9,439.0 141.9,439.0 142.9,439.0 142.9,439.0 143.9,439.0 143.9,434.8 144.9,434.8 144.9,434.8 145.9,434.8 145.9,434.8 146.9,434.8 146.9,434.8 147.9,434.8 147.9,434.8 148.9,434.8 148.9,434.8 149.9,434.8 149.9,434.3 150.9,434.3 150.9,434.3 151.9,434.3 151.9,434.2 152.9,434.2 152.9,437.2 153.9,437.2 153.9,437.1 154.9,437.1 154.9,437.1 155.9,437.1 155.9,435.7 156.9,435.7 156.9,435.6 157.9,435.6 157.9,435.6 158.9,435.6 158.9,435.5 159.9,435.5 159.9,435.4 160.9,435.4 160.9,435.3 161.9,435.3 161.9,438.0 162.9,438.0 162.9,437.9 163.9,437.9 163.9,437.0 164.9,437.0 164.9,437.0 165.9,437.0 165.9,436.9 166.9,436.9 166.9,435.1 167.9,435.1 167.9,435.1 168.9,435.1 168.9,435.0 169.9,435.0 169.9,434.0 170.9,434.0 170.9,431.0 171.9,431.0 171.9,429.1 172.9,429.1 172.9,428.5 173.9,428.5 173.9,428.4 174.9,428.4 174.9,428.4 175.9,428.4 175.9,428.4 176.9,428.4 176.9,427.5 177.9,427.5 177.9,427.5 178.9,427.5 178.9,427.5 179.9,427.5 179.9,427.4 180.9,427.4 180.9,425.2 181.9,425.2 181.9,425.2 182.9,425.2 182.9,428.5 183.9,428.5 183.9,428.5 184.9,428.5 184.9,428.4 185.9,428.4 185.9,429.3 186.9,429.3 186.9,432.5 187.9,432.5 187.9,433.9 188.9,433.9 188.9,433.9 189.9,433.9 189.9,434.0 190.9,434.0 190.9,434.0 191.9,434.0 191.9,434.1 192.9,434.1 192.9,431.3 193.9,431.3 193.9,431.4 194.9,431.4 194.9,431.5 195.9,431.5 195.9,431.6 196.9,431.6 196.9,431.7 197.9,431.7 197.9,431.5 198.9,431.5 198.9,431.6 199.9,431.6 199.9,431.7 200.9,431.7 200.9,431.7 201.9,431.7 201.9,431.8 202.9,431.8 202.9,432.9 203.9,432.9 203.9,432.7 204.9,432.7 204.9,432.6 205.9,432.6 205.9,432.4 206.9,432.4 206.9,432.3 207.9,432.3 207.9,433.8 208.9,433.8 208.9,433.7 209.9,433.7 209.9,433.5 210.9,433.5 210.9,433.4 211.9,433.4 211.9,433.2 212.9,433.2 212.9,433.1 213.9,433.1 213.9,432.3 214.9,432.3 214.9,432.1 215.9,432.1 215.9,432.0 216.9,432.0 216.9,431.8 217.9,431.8 217.9,428.3 218.9,428.3 218.9,428.1 219.9,428.1 219.9,430.2 220.9,430.2 220.9,430.1 221.9,430.1 221.9,429.9 222.9,429.9 222.9,429.8 223.9,429.8 223.9,429.6 224.9,429.6 224.9,429.5 225.9,429.5 225.9,431.4 226.9,431.4 226.9,431.2 227.9,431.2 227.9,431.1 228.9,431.1 228.9,431.1 229.9,431.1 229.9,431.1 230.9,431.1 230.9,429.7 231.9,429.7 231.9,429.8 232.9,429.8 232.9,429.8 233.9,429.8 233.9,429.9 234.9,429.9 234.9,429.9 235.9,429.9 235.9,430.0 236.9,430.0 236.9,432.0 237.9,432.0 237.9,432.0 238.9,432.0 238.9,432.1 239.9,432.1 239.9,432.1 240.9,432.1 240.9,432.2 241.9,432.2 241.9,431.6 242.9,431.6 242.9,431.7 243.9,431.7 243.9,431.7 244.9,431.7 244.9,431.8 245.9,431.8 245.9,431.8 246.9,431.8 246.9,431.9 247.9,431.9 247.9,432.4 248.9,432.4 248.9,432.4 249.9,432.4 249.9,432.5 250.9,432.5 250.9,430.5 251.9,430.5 251.9,430.6 252.9,430.6 252.9,431.8 253.9,431.8 253.9,431.8 254.9,431.8 254.9,431.7 255.9,431.7 255.9,431.7 256.9,431.7 256.9,431.6 257.9,431.6 257.9,431.5 258.9,431.5 258.9,431.4 259.9,431.4 259.9,432.7 260.9,432.7 260.9,432.6 261.9,432.6 261.9,429.7 262.9,429.7 262.9,429.6 263.9,429.6 263.9,429.5 264.9,429.5 264.9,427.7 265.9,427.7 265.9,427.6 266.9,427.6 266.9,427.5 267.9,427.5 267.9,427.3 268.9,427.3 268.9,429.4 269.9,429.4 269.9,429.3 270.9,429.3 270.9,429.2 271.9,429.2 271.9,431.5 272.9,431.5 272.9,431.4 273.9,431.4 273.9,428.8 274.9,428.8 274.9,428.7 275.9,428.7 275.9,428.6 276.9,428.6 276.9,428.5 277.9,428.5 277.9,428.4 278.9,428.4 278.9,430.1 279.9,430.1 279.9,430.0 280.9,430.0 280.9,430.0 281.9,430.0 281.9,430.0 282.9,430.0 282.9,428.3 283.9,428.3 283.9,428.3 284.9,428.3 284.9,428.3 285.9,428.3 285.9,428.3 286.9,428.3 286.9,428.3 287.9,428.3 287.9,431.9 288.9,431.9 288.9,431.9 289.9,431.9 289.9,431.9 290.9,431.9 290.9,431.9 291.9,431.9 291.9,431.9 292.9,431.9 292.9,431.9 293.9,431.9 293.9,429.8 294.9,429.8 294.9,429.8 295.9,429.8 295.9,429.8 296.9,429.8 296.9,429.8 297.9,429.8 297.9,429.1 298.9,429.1 298.9,429.1 299.9,429.1 299.9,429.1 300.9,429.1 300.9,429.7 301.9,429.7 301.9,429.7 302.9,429.7 302.9,429.7 303.9,429.7 303.9,429.7 304.9,429.7 304.9,428.7 305.9,428.7 305.9,428.8 306.9,428.8 306.9,427.8 307.9,427.8 307.9,427.9 308.9,427.9 308.9,429.0 309.9,429.0 309.9,429.1 310.9,429.1 310.9,429.2 311.9,429.2 311.9,429.3 312.9,429.3 312.9,429.4 313.9,429.4 313.9,430.1 314.9,430.1 314.9,430.2 315.9,430.2 315.9,430.3 316.9,430.3 316.9,430.4 317.9,430.4 317.9,430.5 318.9,430.5 318.9,430.6 319.9,430.6 319.9,432.8 320.9,432.8 320.9,432.9 321.9,432.9 321.9,433.0 322.9,433.0 322.9,433.1 323.9,433.1 323.9,433.2 324.9,433.2 324.9,433.3 325.9,433.3 325.9,427.6 326.9,427.6 326.9,427.7 327.9,427.7 327.9,427.8 328.9,427.8 328.9,429.2 329.9,429.2 329.9,429.3 330.9,429.3 330.9,429.4 331.9,429.4 331.9,429.3 332.9,429.3 332.9,429.2 333.9,429.2 333.9,429.1 334.9,429.1 334.9,429.3 335.9,429.3 335.9,429.2 336.9,429.2 336.9,429.1 337.9,429.1 337.9,429.0 338.9,429.0 338.9,431.5 339.9,431.5 339.9,431.4 340.9,431.4 340.9,431.3 341.9,431.3 341.9,431.2 342.9,431.2 342.9,428.9 343.9,428.9 343.9,428.8 344.9,428.8 344.9,428.7 345.9,428.7 345.9,428.6 346.9,428.6 346.9,430.1 347.9,430.1 347.9,430.0 348.9,430.0 348.9,426.7 349.9,426.7 349.9,426.6 350.9,426.6 350.9,426.5 351.9,426.5 351.9,426.4 352.9,426.4 352.9,426.3 353.9,426.3 353.9,426.2 354.9,426.2 354.9,426.1 355.9,426.1 355.9,426.0 356.9,426.0 356.9,425.9 357.9,425.9 357.9,425.9 358.9,425.9 358.9,431.3 359.9,431.3 359.9,431.3 360.9,431.3 360.9,431.5 361.9,431.5 361.9,437.9 362.9,437.9 362.9,444.2 363.9,444.2 363.9,444.3 364.9,444.3 364.9,439.2 365.9,439.2 365.9,439.3 366.9,439.3 366.9,439.4 367.9,439.4 367.9,444.6 368.9,444.6 368.9,444.7 369.9,444.7 369.9,444.8 370.9,444.8 370.9,442.0 371.9,442.0 371.9,442.1 372.9,442.1 372.9,442.2 373.9,442.2 373.9,442.3 374.9,442.3 374.9,441.6 375.9,441.6 375.9,441.8 376.9,441.8 376.9,442.0 377.9,442.0 377.9,443.3 378.9,443.3 378.9,443.5 379.9,443.5 379.9,443.7 380.9,443.7 380.9,444.0 381.9,444.0 381.9,444.2 382.9,444.2 382.9,444.4 383.9,444.4 383.9,444.5 384.9,444.5 384.9,446.6 385.9,446.6 385.9,446.8 386.9,446.8 386.9,445.8 387.9,445.8 387.9,446.0 388.9,446.0 388.9,446.2 389.9,446.2 389.9,446.4 390.9,446.4 390.9,446.6 391.9,446.6 391.9,446.8 392.9,446.8 392.9,446.9 393.9,446.9 393.9,447.1 394.9,447.1 394.9,447.3 395.9,447.3 395.9,447.5 396.9,447.5 396.9,447.7 397.9,447.7 397.9,447.9 398.9,447.9 398.9,448.2 399.9,448.2 399.9,448.4 400.9,448.4 400.9,448.6 401.9,448.6 401.9,448.5 402.9,448.5 402.9,448.5 403.9,448.5 403.9,445.6 404.9,445.6 404.9,445.6 405.9,445.6 405.9,448.0 406.9,448.0 406.9,448.0 407.9,448.0 407.9,447.9 408.9,447.9 408.9,447.9 409.9,447.9 409.9,447.8 410.9,447.8 410.9,445.8 411.9,445.8 411.9,445.7 412.9,445.7 412.9,445.5 413.9,445.5 413.9,445.4 414.9,445.4 414.9,445.4 415.9,445.4 415.9,445.5 416.9,445.5 416.9,445.4 417.9,445.4 417.9,445.4 418.9,445.4 418.9,445.3 419.9,445.3 419.9,445.3 420.9,445.3 420.9,445.2 421.9,445.2 421.9,443.2 422.9,443.2 422.9,443.1 423.9,443.1 423.9,445.2 424.9,445.2 424.9,445.2 425.9,445.2 425.9,444.8 426.9,444.8 426.9,444.7 427.9,444.7 427.9,446.2 428.9,446.2 428.9,446.1 429.9,446.1 429.9,448.4 430.9,448.4 430.9,448.3 431.9,448.3 431.9,448.2 432.9,448.2 432.9,448.1 433.9,448.1 433.9,448.0 434.9,448.0 434.9,447.3 435.9,447.3 435.9,447.2 436.9,447.2 436.9,447.1 437.9,447.1 437.9,446.6 438.9,446.6 438.9,446.5 439.9,446.5 439.9,446.4 440.9,446.4 440.9,446.3 441.9,446.3 441.9,446.2 442.9,446.2 442.9,446.1 443.9,446.1 443.9,444.0 444.9,444.0 444.9,443.9 445.9,443.9 445.9,443.8 446.9,443.8 446.9,443.7 447.9,443.7 447.9,443.6 448.9,443.6 448.9,443.4 449.9,443.4 449.9,443.3 450.9,443.3 450.9,443.2 451.9,443.2 451.9,442.9 452.9,442.9 452.9,442.9 453.9,442.9 453.9,442.9 454.9,442.9 454.9,443.0 455.9,443.0 455.9,445.7 456.9,445.7 456.9,445.7 457.9,445.7 457.9,445.8 458.9,445.8 458.9,445.8 459.9,445.8 459.9,445.9 460.9,445.9 460.9,444.8 461.9,444.8 461.9,444.9 462.9,444.9 462.9,444.9 463.9,444.9 463.9,446.2 464.9,446.2 464.9,446.3 465.9,446.3 465.9,446.3 466.9,446.3 466.9,442.1 467.9,442.1 467.9,442.2 468.9,442.2 468.9,442.2 469.9,442.2 469.9,442.3 470.9,442.3 470.9,442.3 471.9,442.3 471.9,442.4 472.9,442.4 472.9,442.8 473.9,442.8 473.9,442.8 474.9,442.8 474.9,442.9 475.9,442.9 475.9,442.9 476.9,442.9 476.9,443.0 477.9,443.0 477.9,445.5 478.9,445.5 478.9,445.5 479.9,445.5 479.9,445.4 480.9,445.4 480.9,445.4 481.9,445.4 481.9,445.3 482.9,445.3 482.9,447.6 483.9,447.6 483.9,447.6 484.9,447.6 484.9,447.5 485.9,447.5 485.9,447.5 486.9,447.5 486.9,447.4 487.9,447.4 487.9,445.8 488.9,445.8 488.9,445.7 489.9,445.7 489.9,444.7 490.9,444.7 490.9,444.6 491.9,444.6 491.9,442.3 492.9,442.3 492.9,442.2 493.9,442.2 493.9,442.2 494.9,442.2 494.9,442.1 495.9,442.1 495.9,442.1 496.9,442.1 496.9,442.0 497.9,442.0 497.9,445.3 498.9,445.3 498.9,445.3 499.9,445.3 499.9,445.2 500.9,445.2 500.9,445.2 501.9,445.2 501.9,445.1 502.9,445.1 502.9,445.1 503.9,445.1 503.9,444.5 504.9,444.5 504.9,444.5 505.9,444.5 505.9,444.6 506.9,444.6 506.9,444.7 507.9,444.7 507.9,444.7 508.9,444.7 508.9,443.6 509.9,443.6 509.9,443.7 510.9,443.7 510.9,443.7 511.9,443.7 511.9,443.8 512.9,443.8 512.9,443.8 513.9,443.8 513.9,445.5 514.9,445.5 514.9,445.5 515.9,445.5 515.9,445.6 516.9,445.6 516.9,445.6 517.9,445.6 517.9,445.7 518.9,445.7 518.9,447.0 519.9,447.0 519.9,447.0 520.9,447.0 520.9,447.1 521.9,447.1 521.9,447.1 522.9,447.1 522.9,447.2 523.9,447.2 523.9,447.2 524.9,447.2 524.9,442.6 525.9,442.6 525.9,442.7 526.9,442.7 526.9,443.9 527.9,443.9 527.9,444.0 528.9,444.0 528.9,444.0 529.9,444.0 529.9,444.0 530.9,444.0 530.9,445.6 531.9,445.6 531.9,445.5 532.9,445.5 532.9,446.4 533.9,446.4 533.9,446.4 534.9,446.4 534.9,443.9 535.9,443.9 535.9,443.9 536.9,443.9 536.9,443.8 537.9,443.8 537.9,443.8 538.9,443.8 538.9,442.6 539.9,442.6 539.9,442.5 540.9,442.5 540.9,442.5 541.9,442.5 541.9,442.4 542.9,442.4 542.9,442.4 543.9,442.4 543.9,441.9 544.9,441.9 544.9,441.8 545.9,441.8 545.9,441.8 546.9,441.8 546.9,441.7 547.9,441.7 547.9,441.7 548.9,441.7 548.9,444.2 549.9,444.2 549.9,444.2 550.9,444.2 550.9,441.1 551.9,441.1 551.9,441.1 552.9,441.1 552.9,444.1 553.9,444.1 553.9,444.1 554.9,444.1 554.9,444.0 555.9,444.0 555.9,444.0 556.9,444.0 556.9,446.9 557.9,446.9 557.9,446.8 558.9,446.8 558.9,446.8 559.9,446.8 559.9,445.3 560.9,445.3 560.9,445.2 561.9,445.2 561.9,445.2 562.9,445.2 562.9,445.1 563.9,445.1 563.9,440.2 564.9,440.2 564.9,440.1 565.9,440.1 565.9,440.1 566.9,440.1 566.9,444.3 567.9,444.3 567.9,444.3 568.9,444.3 568.9,444.1 569.9,444.1 569.9,444.1 570.9,444.1 570.9,444.0 571.9,444.0 571.9,444.0 572.9,444.0 572.9,443.9 573.9,443.9 573.9,443.9 574.9,443.9 574.9,442.6 575.9,442.6 575.9,442.6 576.9,442.6 576.9,442.5 577.9,442.5 577.9,446.3 578.9,446.3 578.9,446.2 579.9,446.2 579.9,446.2 580.9,446.2 580.9,446.1 581.9,446.1 581.9,442.6 582.9,442.6 582.9,442.6 583.9,442.6 583.9,440.9 584.9,440.9 584.9,440.9 585.9,440.9 585.9,440.9 586.9,440.9 586.9,428.5 587.9,428.5 587.9,425.4 588.9,425.4 588.9,425.4 589.9,425.4 589.9,426.1 590.9,426.1 590.9,425.9 591.9,425.9 591.9,429.1 592.9,429.1 592.9,429.0 593.9,429.0 593.9,428.9 594.9,428.9 594.9,424.7 595.9,424.7 595.9,424.6 596.9,424.6 596.9,424.5 597.9,424.5 597.9,424.4 598.9,424.4 598.9,424.3 599.9,424.3 599.9,424.2 600.9,424.2 600.9,426.5 601.9,426.5 601.9,426.5 602.9,426.5 602.9,426.5 603.9,426.5 603.9,426.5 604.9,426.5 604.9,426.5 605.9,426.5 605.9,426.9 606.9,426.9 606.9,426.8 607.9,426.8 607.9,426.8 608.9,426.8 608.9,426.4 609.9,426.4 609.9,426.4 610.9,426.4 610.9,426.4 611.9,426.4 611.9,426.4 612.9,426.4 612.9,426.4 613.9,426.4 613.9,426.4 614.9,426.4 614.9,426.9 615.9,426.9 615.9,426.8 616.9,426.8 616.9,426.8 617.9,426.8 617.9,426.8 618.9,426.8 618.9,426.8 619.9,426.8 619.9,425.6 620.9,425.6 620.9,425.6 621.9,425.6 621.9,425.1 622.9,425.1 622.9,425.1 623.9,425.1 623.9,425.1 624.9,425.1 624.9,425.1 625.9,425.1 625.9,425.0 626.9,425.0 626.9,425.0 627.9,425.0 627.9,424.8 628.9,424.8 628.9,424.8 629.9,424.8 629.9,424.8 630.9,424.8 630.9,424.8 631.9,424.8 631.9,424.8 632.9,424.8 632.9,424.7 633.9,424.7 633.9,423.9 634.9,423.9 634.9,423.8 635.9,423.8 635.9,423.8 636.9,423.8 636.9,423.8 637.9,423.8 637.9,423.8 638.9,423.8 638.9,423.8 639.9,423.8 639.9,424.4 640.9,424.4 640.9,424.4 641.9,424.4 641.9,424.4 642.9,424.4 642.9,423.3 643.9,423.3 643.9,423.3 644.9,423.3 644.9,421.2 645.9,421.2 645.9,421.2 646.9,421.2 646.9,421.2 647.9,421.2 647.9,423.7 648.9,423.7 648.9,423.7 649.9,423.7 649.9,424.1 650.9,424.1 650.9,424.1 651.9,424.1 651.9,424.1 652.9,424.1 652.9,424.1 653.9,424.1 653.9,424.1 654.9,424.1 654.9,424.0 655.9,424.0 655.9,423.2 656.9,423.2 656.9,423.2 657.9,423.2 657.9,423.2 658.9,423.2 658.9,423.1 659.9,423.1 659.9,423.1 660.9,423.1 660.9,423.1 661.9,423.1 661.9,422.9 662.9,422.9 662.9,422.9 663.9,422.9 663.9,422.9 664.9,422.9 664.9,422.9 665.9,422.9 665.9,422.9 666.9,422.9 666.9,422.8 667.9,422.8 667.9,429.4 668.9,429.4 668.9,429.4 669.9,429.4 669.9,429.4 670.9,429.4 670.9,429.4 671.9,429.4 671.9,429.4 672.9,429.4 672.9,429.3 673.9,429.3 673.9,426.1 674.9,426.1 674.9,426.1 675.9,426.1 675.9,426.0 676.9,426.0 676.9,426.0 677.9,426.0 677.9,425.9 678.9,425.9 678.9,421.6 679.9,421.6 679.9,421.5 680.9,421.5 680.9,421.5 681.9,421.5 681.9,424.3 682.9,424.3 682.9,424.2 683.9,424.2 683.9,424.2 684.9,424.2 684.9,424.1 685.9,424.1 685.9,425.6 686.9,425.6 686.9,425.5 687.9,425.5 687.9,423.6 688.9,423.6 688.9,423.5 689.9,423.5 689.9,423.5 690.9,423.5 690.9,423.4 691.9,423.4 691.9,423.6 692.9,423.6 692.9,423.6 693.9,423.6 693.9,423.5 694.9,423.5 694.9,422.5 695.9,422.5 695.9,422.5 696.9,422.5 696.9,422.4 697.9,422.4 697.9,424.6 698.9,424.6 698.9,424.6 699.9,424.6 699.9,420.8 700.9,420.8 700.9,420.8 701.9,420.8 701.9,420.8 702.9,420.8 702.9,420.8 703.9,420.8 703.9,420.7 704.9,420.7 704.9,422.8 705.9,422.8 705.9,422.8 706.9,422.8 706.9,422.7 707.9,422.7 707.9,422.7 708.9,422.7 708.9,421.9 709.9,421.9 709.9,421.9 710.9,421.9 710.9,421.9 711.9,421.9 711.9,421.9 712.9,421.9 712.9,421.8 713.9,421.8 713.9,421.8 714.9,421.8 714.9,425.1 715.9,425.1 715.9,425.0 716.9,425.0 716.9,425.0 717.9,425.0 717.9,423.6 718.9,423.6 718.9,423.5 719.9,423.5 719.9,423.5 720.9,423.5 720.9,423.5 721.9,423.5 721.9,423.5 722.9,423.5 722.9,423.0 723.9,423.0 723.9,423.0 724.9,423.0 724.9,423.0 725.9,423.0 725.9,423.0 726.9,423.0 726.9,422.9 727.9,422.9 727.9,424.5 728.9,424.5 728.9,424.5 729.9,424.5 729.9,423.5 730.9,423.5 730.9,423.5 731.9,423.5 731.9,421.0 732.9,421.0 732.9,421.0 733.9,421.0 733.9,421.0 734.9,421.0 734.9,421.0 735.9,421.0 735.9,421.0 736.9,421.0 736.9,420.9 737.9,420.9 737.9,422.7 738.9,422.7 738.9,422.7 739.9,422.7 739.9,421.9 740.9,421.9 740.9,421.9 741.9,421.9 741.9,421.9 742.9,421.9 742.9,424.7 743.9,424.7 743.9,424.7 744.9,424.7 744.9,418.1 745.9,418.1 745.9,418.1 746.9,418.1 746.9,418.1 747.9,418.1 747.9,418.1 748.9,418.1 748.9,418.0 749.9,418.0 749.9,418.0 750.9,418.0 750.9,426.1 751.9,426.1 751.9,426.1 752.9,426.1 752.9,426.1 753.9,426.1 753.9,426.1 754.9,426.1 754.9,424.0 755.9,424.0 755.9,424.0 756.9,424.0 756.9,423.9 757.9,423.9 757.9,423.9 758.9,423.9 758.9,422.5 759.9,422.5 759.9,422.4 760.9,422.4 760.9,422.4 761.9,422.4 761.9,419.5 762.9,419.5 762.9,419.4 763.9,419.4 763.9,419.4 764.9,419.4 764.9,419.4 765.9,419.4 765.9,419.4 766.9,419.4 766.9,419.4 767.9,419.4 767.9,423.4 768.9,423.4 768.9,423.4 769.9,423.4 769.9,423.4 770.9,423.4 770.9,423.4 771.9,423.4 771.9,423.3 772.9,423.3 772.9,423.3 773.9,423.3 773.9,423.8 774.9,423.8 774.9,423.8 775.9,423.8 775.9,423.7 776.9,423.7 776.9,423.7 777.9,423.7 777.9,423.7 778.9,423.7 778.9,421.3 779.9,421.3 779.9,421.3 780.9,421.3 780.9,421.3 781.9,421.3 781.9,422.3 782.9,422.3 782.9,422.3 783.9,422.3 783.9,422.2 784.9,422.2 784.9,422.2 785.9,422.2 785.9,422.2 786.9,422.2 786.9,422.2 787.9,422.2 787.9,421.0 788.9,421.0 788.9,421.0 789.9,421.0 789.9,421.0 790.9,421.0 790.9,420.9 791.9,420.9 791.9,420.9 792.9,420.9 792.9,420.9 793.9,420.9 793.9,424.6 794.9,424.6 794.9,424.6 795.9,424.6 795.9,421.3 796.9,421.3 796.9,421.3 797.9,421.3 797.9,424.9 798.9,424.9 798.9,424.9 799.9,424.9 799.9,424.9 800.9,424.9 800.9,419.9 801.9,419.9 801.9,419.8 802.9,419.8 802.9,419.8 803.9,419.8 803.9,419.8 804.9,419.8 804.9,417.1 805.9,417.1 805.9,417.1 806.9,417.1 806.9,417.0 807.9,417.0 807.9,417.0 808.9,417.0 808.9,417.0 809.9,417.0 809.9,420.5 810.9,420.5 810.9,420.5 811.9,420.5 811.9,425.6 812.9,425.6 812.9,425.6 813.9,425.6 813.9,425.6 814.9,425.6 814.9,425.6 815.9,425.6 815.9,425.6 816.9,425.6 816.9,425.5 817.9,425.5 817.9,421.4 818.9,421.4 818.9,421.4 819.9,421.4 819.9,421.4 820.9,421.4 820.9,421.4 821.9,421.4 821.9,421.3 822.9,421.3 822.9,421.3 823.9,421.3 823.9,417.5 824.9,417.5 824.9,417.5 825.9,417.5 825.9,417.5 826.9,417.5 826.9,417.5 827.9,417.5 827.9,417.4 828.9,417.4 828.9,417.4 829.9,417.4 829.9,420.2 830.9,420.2 830.9,420.1 831.9,420.1 831.9,420.1 832.9,420.1 832.9,420.1 833.9,420.1 833.9,420.1 834.9,420.1 834.9,420.5 835.9,420.5 835.9,420.4 836.9,420.4 836.9,420.4 837.9,420.4 837.9,422.5 838.9,422.5 838.9,422.5 839.9,422.5 839.9,422.6 840.9,422.6 840.9,422.6 841.9,422.6 841.9,422.5 842.9,422.5 842.9,422.5 843.9,422.5 843.9,422.5 844.9,422.5 844.9,422.5 845.9,422.5 845.9,420.8 846.9,420.8 846.9,420.8 847.9,420.8 847.9,421.3 848.9,421.3 848.9,421.3 849.9,421.3 849.9,421.3 850.9,421.3 850.9,421.3 851.9,421.3 851.9,421.3 852.9,421.3 852.9,420.7 853.9,420.7 853.9,420.7 854.9,420.7 854.9,420.7 855.9,420.7 855.9,420.6 856.9,420.6 856.9,420.6 857.9,420.6 857.9,423.7 858.9,423.7 858.9,423.7 859.9,423.7 859.9,423.7 860.9,423.7 860.9,419.2 861.9,419.2 861.9,419.2 862.9,419.2 862.9,419.2 863.9,419.2 863.9,419.2 864.9,419.2 864.9,419.2 865.9,419.2 865.9,419.4 866.9,419.4 866.9,419.4 867.9,419.4 867.9,419.4 868.9,419.4 868.9,419.4 869.9,419.4 869.9,419.4 870.9,419.4 870.9,418.7 871.9,418.7 871.9,418.7 872.9,418.7 872.9,418.7 873.9,418.7 873.9,418.6 874.9,418.6 874.9,418.6 875.9,418.6 875.9,418.6 876.9,418.6 876.9,422.0 877.9,422.0 877.9,422.0 878.9,422.0 878.9,418.5 879.9,418.5 879.9,418.5 880.9,418.5 880.9,418.5 881.9,418.5 881.9,418.5 882.9,418.5 882.9,418.5 883.9,418.5 883.9,420.7 884.9,420.7 884.9,420.7 885.9,420.7 885.9,420.7 886.9,420.7 886.9,419.4 887.9,419.4 887.9,419.4 888.9,419.4 888.9,419.4 889.9,419.4 889.9,420.9 890.9,420.9 890.9,420.9 891.9,420.9 891.9,420.9 892.9,420.9 892.9,418.4 893.9,418.4 893.9,418.4 894.9,418.4 894.9,418.4 895.9,418.4 895.9,421.6 896.9,421.6 896.9,421.6 897.9,421.6 897.9,419.0 898.9,419.0 898.9,419.0 899.9,419.0 899.9,421.2 900.9,421.2 900.9,421.2 901.9,421.2 901.9,416.1 902.9,416.1 902.9,416.1 903.9,416.1 903.9,416.1 904.9,416.1 904.9,416.1 905.9,416.1 905.9,421.0 906.9,421.0 906.9,421.0 907.9,421.0 907.9,421.0 908.9,421.0 908.9,421.0 909.9,421.0 909.9,421.0 910.9,421.0 910.9,421.0 911.9,421.0 911.9,420.3 912.9,420.3 912.9,420.3 913.9,420.3 913.9,418.8 914.9,418.8 914.9,418.8 915.9,418.8 915.9,421.4 916.9,421.4 916.9,421.5 917.9,421.5 917.9,421.5 918.9,421.5 918.9,421.5 919.9,421.5 919.9,421.5 920.9,421.5 920.9,423.2 921.9,423.2 921.9,423.2 922.9,423.2 922.9,423.2 923.9,423.2 923.9,423.2 924.9,423.2 924.9,416.8 925.9,416.8 925.9,416.8 926.9,416.8 926.9,416.8 927.9,416.8 927.9,416.9 928.9,416.9 928.9,416.9 929.9,416.9 929.9,422.4 930.9,422.4 930.9,422.4 931.9,422.4 931.9,422.4 932.9,422.4 932.9,422.4 933.9,422.4 933.9,422.5 934.9,422.5 934.9,421.3 935.9,421.3 935.9,421.3 936.9,421.3 936.9,421.3 937.9,421.3 937.9,421.4 938.9,421.4 938.9,420.4 939.9,420.4 939.9,420.4 940.9,420.4 940.9,420.4 941.9,420.4 941.9,420.2 942.9,420.2 942.9,420.2 943.9,420.2 943.9,421.1 944.9,421.1 944.9,421.1 945.9,421.1 945.9,421.1 946.9,421.1 946.9,421.1 947.9,421.1 947.9,421.1 948.9,421.1 948.9,419.0 949.9,419.0 949.9,419.0 950.9,419.0 950.9,419.0 951.9,419.0 951.9,419.1 952.9,419.1 952.9,419.1 953.9,419.1 953.9,419.1 954.9,419.1 954.9,418.9 955.9,418.9 955.9,418.9 956.9,418.9 956.9,418.9 957.9,418.9 957.9,418.9 958.9,418.9 958.9,420.9 959.9,420.9 959.9,420.9 960.9,420.9 960.9,420.9 961.9,420.9 961.9,420.9 962.9,420.9 962.9,421.0 963.9,421.0 963.9,421.0 964.9,421.0 964.9,418.9 965.9,418.9 965.9,419.0 966.9,419.0 966.9,419.0 967.9,419.0 967.9,418.4 968.9,418.4 968.9,418.5 969.9,418.5 969.9,418.5 970.9,418.5 970.9,419.7 971.9,419.7 971.9,419.7 972.9,419.7 972.9,419.7 973.9,419.7 973.9,419.8 974.9,419.8 974.9,419.8 975.9,419.8 975.9,418.3 976.9,418.3 976.9,418.3 977.9,418.3 977.9,418.4 978.9,418.4 978.9,418.4 979.9,418.4 979.9,421.9 980.9,421.9 980.9,421.9 981.9,421.9 981.9,420.3 982.9,420.3 982.9,420.3 983.9,420.3 983.9,424.6 984.9,424.6 984.9,424.6 985.9,424.6 985.9,424.6 986.9,424.6 986.9,424.7 987.9,424.7 987.9,421.6 988.9,421.6 988.9,421.6 989.9,421.6 989.9,421.7 990.9,421.7 990.9,419.3 991.9,419.3 991.9,419.4 992.9,419.4 992.9,419.4 993.9,419.4 993.9,419.4 994.9,419.4 994.9,419.5 995.9,419.5 995.9,419.5 996.9,419.5 996.9,420.2 997.9,420.2 997.9,420.2 998.9,420.2 998.9,420.2 999.9,420.2 999.9,420.3 1000.9,420.3 1000.9,420.3 1001.9,420.3 1001.9,420.9 1002.9,420.9 1002.9,421.0 1003.9,421.0 1003.9,421.0 1004.9,421.0 1004.9,421.1 1005.9,421.1 1005.9,423.2 1006.9,423.2 1006.9,423.2 1007.9,423.2 1007.9,423.2 1008.9,423.2 1008.9,423.3 1009.9,423.3 1009.9,423.3 1010.9,423.3 1010.9,423.3 1011.9,423.3 1011.9,478.7 1010.9,478.7 1010.9,478.7 1009.9,478.7 1009.9,479.3 1008.9,479.3 1008.9,479.3 1007.9,479.3 1007.9,479.3 1006.9,479.3 1006.9,479.3 1005.9,479.3 1005.9,478.0 1004.9,478.0 1004.9,478.0 1003.9,478.0 1003.9,478.0 1002.9,478.0 1002.9,478.0 1001.9,478.0 1001.9,478.0 1000.9,478.0 1000.9,478.0 999.9,478.0 999.9,479.4 998.9,479.4 998.9,479.4 997.9,479.4 997.9,479.4 996.9,479.4 996.9,479.4 995.9,479.4 995.9,479.4 994.9,479.4 994.9,479.4 993.9,479.4 993.9,478.3 992.9,478.3 992.9,478.3 991.9,478.3 991.9,478.3 990.9,478.3 990.9,478.3 989.9,478.3 989.9,478.3 988.9,478.3 988.9,478.3 987.9,478.3 987.9,477.9 986.9,477.9 986.9,477.9 985.9,477.9 985.9,477.9 984.9,477.9 984.9,478.0 983.9,478.0 983.9,478.0 982.9,478.0 982.9,474.9 981.9,474.9 981.9,474.9 980.9,474.9 980.9,479.5 979.9,479.5 979.9,479.5 978.9,479.5 978.9,479.5 977.9,479.5 977.9,479.6 976.9,479.6 976.9,479.6 975.9,479.6 975.9,479.6 974.9,479.6 974.9,479.6 973.9,479.6 973.9,479.6 972.9,479.6 972.9,479.7 971.9,479.7 971.9,479.7 970.9,479.7 970.9,478.0 969.9,478.0 969.9,478.0 968.9,478.0 968.9,478.1 967.9,478.1 967.9,478.1 966.9,478.1 966.9,479.3 965.9,479.3 965.9,479.4 964.9,479.4 964.9,479.4 963.9,479.4 963.9,479.4 962.9,479.4 962.9,479.5 961.9,479.5 961.9,479.2 960.9,479.2 960.9,479.2 959.9,479.2 959.9,479.3 958.9,479.3 958.9,479.3 957.9,479.3 957.9,479.3 956.9,479.3 956.9,479.3 955.9,479.3 955.9,481.3 954.9,481.3 954.9,481.3 953.9,481.3 953.9,481.3 952.9,481.3 952.9,481.3 951.9,481.3 951.9,481.3 950.9,481.3 950.9,479.9 949.9,479.9 949.9,479.9 948.9,479.9 948.9,480.0 947.9,480.0 947.9,480.0 946.9,480.0 946.9,478.2 945.9,478.2 945.9,478.2 944.9,478.2 944.9,478.0 943.9,478.0 943.9,478.0 942.9,478.0 942.9,481.1 941.9,481.1 941.9,481.1 940.9,481.1 940.9,481.1 939.9,481.1 939.9,481.2 938.9,481.2 938.9,481.2 937.9,481.2 937.9,481.3 936.9,481.3 936.9,481.3 935.9,481.3 935.9,481.3 934.9,481.3 934.9,481.4 933.9,481.4 933.9,481.4 932.9,481.4 932.9,479.2 931.9,479.2 931.9,479.2 930.9,479.2 930.9,479.2 929.9,479.2 929.9,479.2 928.9,479.2 928.9,479.2 927.9,479.2 927.9,479.3 926.9,479.3 926.9,481.3 925.9,481.3 925.9,481.3 924.9,481.3 924.9,480.7 923.9,480.7 923.9,480.7 922.9,480.7 922.9,480.7 921.9,480.7 921.9,479.4 920.9,479.4 920.9,479.5 919.9,479.5 919.9,479.5 918.9,479.5 918.9,479.5 917.9,479.5 917.9,479.5 916.9,479.5 916.9,479.5 915.9,479.5 915.9,481.4 914.9,481.4 914.9,481.4 913.9,481.4 913.9,481.4 912.9,481.4 912.9,481.4 911.9,481.4 911.9,481.4 910.9,481.4 910.9,481.4 909.9,481.4 909.9,482.2 908.9,482.2 908.9,482.2 907.9,482.2 907.9,482.2 906.9,482.2 906.9,479.6 905.9,479.6 905.9,479.6 904.9,479.6 904.9,485.6 903.9,485.6 903.9,485.6 902.9,485.6 902.9,485.6 901.9,485.6 901.9,485.6 900.9,485.6 900.9,485.6 899.9,485.6 899.9,485.6 898.9,485.6 898.9,481.8 897.9,481.8 897.9,481.8 896.9,481.8 896.9,481.8 895.9,481.8 895.9,481.8 894.9,481.8 894.9,481.8 893.9,481.8 893.9,479.8 892.9,479.8 892.9,479.8 891.9,479.8 891.9,479.8 890.9,479.8 890.9,481.2 889.9,481.2 889.9,481.2 888.9,481.2 888.9,481.2 887.9,481.2 887.9,481.2 886.9,481.2 886.9,481.2 885.9,481.2 885.9,482.4 884.9,482.4 884.9,482.4 883.9,482.4 883.9,482.4 882.9,482.4 882.9,482.4 881.9,482.4 881.9,482.4 880.9,482.4 880.9,482.4 879.9,482.4 879.9,482.1 878.9,482.1 878.9,482.1 877.9,482.1 877.9,482.1 876.9,482.1 876.9,482.1 875.9,482.1 875.9,482.1 874.9,482.1 874.9,479.1 873.9,479.1 873.9,479.1 872.9,479.1 872.9,479.1 871.9,479.1 871.9,479.1 870.9,479.1 870.9,479.1 869.9,479.1 869.9,479.1 868.9,479.1 868.9,479.4 867.9,479.4 867.9,479.4 866.9,479.4 866.9,479.4 865.9,479.4 865.9,479.4 864.9,479.4 864.9,479.4 863.9,479.4 863.9,479.8 862.9,479.8 862.9,479.8 861.9,479.8 861.9,479.8 860.9,479.8 860.9,479.8 859.9,479.8 859.9,478.2 858.9,478.2 858.9,478.2 857.9,478.2 857.9,478.2 856.9,478.2 856.9,478.2 855.9,478.2 855.9,478.2 854.9,478.2 854.9,478.2 853.9,478.2 853.9,481.0 852.9,481.0 852.9,481.0 851.9,481.0 851.9,481.0 850.9,481.0 850.9,481.0 849.9,481.0 849.9,482.8 848.9,482.8 848.9,482.8 847.9,482.8 847.9,479.3 846.9,479.3 846.9,479.3 845.9,479.3 845.9,482.2 844.9,482.2 844.9,482.2 843.9,482.2 843.9,482.2 842.9,482.2 842.9,482.2 841.9,482.2 841.9,482.2 840.9,482.2 840.9,482.2 839.9,482.2 839.9,479.0 838.9,479.0 838.9,479.0 837.9,479.0 837.9,479.0 836.9,479.0 836.9,479.0 835.9,479.0 835.9,479.0 834.9,479.0 834.9,479.0 833.9,479.0 833.9,480.1 832.9,480.1 832.9,480.1 831.9,480.1 831.9,480.1 830.9,480.1 830.9,480.1 829.9,480.1 829.9,477.4 828.9,477.4 828.9,477.4 827.9,477.4 827.9,477.4 826.9,477.4 826.9,477.4 825.9,477.4 825.9,477.4 824.9,477.4 824.9,480.0 823.9,480.0 823.9,479.9 822.9,479.9 822.9,479.9 821.9,479.9 821.9,479.9 820.9,479.9 820.9,480.5 819.9,480.5 819.9,480.5 818.9,480.5 818.9,480.5 817.9,480.5 817.9,484.5 816.9,484.5 816.9,484.5 815.9,484.5 815.9,484.5 814.9,484.5 814.9,484.5 813.9,484.5 813.9,484.4 812.9,484.4 812.9,484.4 811.9,484.4 811.9,482.2 810.9,482.2 810.9,482.2 809.9,482.2 809.9,482.2 808.9,482.2 808.9,482.2 807.9,482.2 807.9,482.2 806.9,482.2 806.9,481.7 805.9,481.7 805.9,481.7 804.9,481.7 804.9,480.0 803.9,480.0 803.9,479.9 802.9,479.9 802.9,479.9 801.9,479.9 801.9,479.9 800.9,479.9 800.9,479.9 799.9,479.9 799.9,481.2 798.9,481.2 798.9,481.2 797.9,481.2 797.9,481.2 796.9,481.2 796.9,481.2 795.9,481.2 795.9,481.2 794.9,481.2 794.9,481.2 793.9,481.2 793.9,483.2 792.9,483.2 792.9,483.2 791.9,483.2 791.9,483.2 790.9,483.2 790.9,483.1 789.9,483.1 789.9,483.1 788.9,483.1 788.9,478.4 787.9,478.4 787.9,478.4 786.9,478.4 786.9,478.4 785.9,478.4 785.9,480.0 784.9,480.0 784.9,480.0 783.9,480.0 783.9,479.9 782.9,479.9 782.9,479.9 781.9,479.9 781.9,479.9 780.9,479.9 780.9,479.1 779.9,479.1 779.9,479.1 778.9,479.1 778.9,479.1 777.9,479.1 777.9,479.1 776.9,479.1 776.9,479.1 775.9,479.1 775.9,479.1 774.9,479.1 774.9,478.9 773.9,478.9 773.9,478.9 772.9,478.9 772.9,478.9 771.9,478.9 771.9,478.9 770.9,478.9 770.9,478.9 769.9,478.9 769.9,480.8 768.9,480.8 768.9,480.8 767.9,480.8 767.9,480.8 766.9,480.8 766.9,480.8 765.9,480.8 765.9,480.8 764.9,480.8 764.9,478.1 763.9,478.1 763.9,478.1 762.9,478.1 762.9,478.1 761.9,478.1 761.9,480.5 760.9,480.5 760.9,480.5 759.9,480.5 759.9,480.7 758.9,480.7 758.9,480.6 757.9,480.6 757.9,480.6 756.9,480.6 756.9,480.6 755.9,480.6 755.9,480.6 754.9,480.6 754.9,480.6 753.9,480.6 753.9,477.3 752.9,477.3 752.9,477.3 751.9,477.3 751.9,477.3 750.9,477.3 750.9,477.3 749.9,477.3 749.9,477.3 748.9,477.3 748.9,477.3 747.9,477.3 747.9,479.0 746.9,479.0 746.9,479.0 745.9,479.0 745.9,479.0 744.9,479.0 744.9,479.0 743.9,479.0 743.9,483.4 742.9,483.4 742.9,483.4 741.9,483.4 741.9,483.4 740.9,483.4 740.9,483.4 739.9,483.4 739.9,483.3 738.9,483.3 738.9,478.4 737.9,478.4 737.9,478.4 736.9,478.4 736.9,478.3 735.9,478.3 735.9,478.3 734.9,478.3 734.9,478.3 733.9,478.3 733.9,478.3 732.9,478.3 732.9,480.6 731.9,480.6 731.9,480.6 730.9,480.6 730.9,480.6 729.9,480.6 729.9,478.5 728.9,478.5 728.9,478.5 727.9,478.5 727.9,477.5 726.9,477.5 726.9,477.5 725.9,477.5 725.9,477.5 724.9,477.5 724.9,477.5 723.9,477.5 723.9,477.5 722.9,477.5 722.9,477.5 721.9,477.5 721.9,474.3 720.9,474.3 720.9,474.3 719.9,474.3 719.9,474.3 718.9,474.3 718.9,474.3 717.9,474.3 717.9,474.2 716.9,474.2 716.9,474.2 715.9,474.2 715.9,476.7 714.9,476.7 714.9,476.7 713.9,476.7 713.9,476.7 712.9,476.7 712.9,476.7 711.9,476.7 711.9,478.4 710.9,478.4 710.9,478.4 709.9,478.4 709.9,478.4 708.9,478.4 708.9,478.4 707.9,478.4 707.9,478.4 706.9,478.4 706.9,477.7 705.9,477.7 705.9,477.6 704.9,477.6 704.9,481.7 703.9,481.7 703.9,481.7 702.9,481.7 702.9,479.0 701.9,479.0 701.9,479.0 700.9,479.0 700.9,479.0 699.9,479.0 699.9,479.0 698.9,479.0 698.9,479.6 697.9,479.6 697.9,479.7 696.9,479.7 696.9,479.8 695.9,479.8 695.9,479.9 694.9,479.9 694.9,480.0 693.9,480.0 693.9,478.7 692.9,478.7 692.9,478.8 691.9,478.8 691.9,478.9 690.9,478.9 690.9,479.0 689.9,479.0 689.9,479.1 688.9,479.1 688.9,475.3 687.9,475.3 687.9,475.4 686.9,475.4 686.9,475.5 685.9,475.5 685.9,475.6 684.9,475.6 684.9,475.7 683.9,475.7 683.9,475.8 682.9,475.8 682.9,483.9 681.9,483.9 681.9,484.0 680.9,484.0 680.9,484.1 679.9,484.1 679.9,484.2 678.9,484.2 678.9,484.3 677.9,484.3 677.9,484.4 676.9,484.4 676.9,481.3 675.9,481.3 675.9,481.4 674.9,481.4 674.9,481.5 673.9,481.5 673.9,480.3 672.9,480.3 672.9,480.3 671.9,480.3 671.9,479.7 670.9,479.7 670.9,479.6 669.9,479.6 669.9,479.6 668.9,479.6 668.9,479.6 667.9,479.6 667.9,479.6 666.9,479.6 666.9,479.6 665.9,479.6 665.9,481.9 664.9,481.9 664.9,481.9 663.9,481.9 663.9,481.9 662.9,481.9 662.9,481.9 661.9,481.9 661.9,481.9 660.9,481.9 660.9,481.8 659.9,481.8 659.9,482.6 658.9,482.6 658.9,482.6 657.9,482.6 657.9,482.5 656.9,482.5 656.9,482.5 655.9,482.5 655.9,482.5 654.9,482.5 654.9,482.5 653.9,482.5 653.9,483.2 652.9,483.2 652.9,483.2 651.9,483.2 651.9,483.2 650.9,483.2 650.9,479.3 649.9,479.3 649.9,479.2 648.9,479.2 648.9,479.2 647.9,479.2 647.9,483.6 646.9,483.6 646.9,483.6 645.9,483.6 645.9,483.5 644.9,483.5 644.9,483.5 643.9,483.5 643.9,483.5 642.9,483.5 642.9,480.4 641.9,480.4 641.9,480.3 640.9,480.3 640.9,480.3 639.9,480.3 639.9,480.3 638.9,480.3 638.9,480.3 637.9,480.3 637.9,478.3 636.9,478.3 636.9,478.3 635.9,478.3 635.9,478.3 634.9,478.3 634.9,478.3 633.9,478.3 633.9,478.2 632.9,478.2 632.9,478.2 631.9,478.2 631.9,480.2 630.9,480.2 630.9,480.2 629.9,480.2 629.9,480.2 628.9,480.2 628.9,476.7 627.9,476.7 627.9,476.7 626.9,476.7 626.9,476.7 625.9,476.7 625.9,476.7 624.9,476.7 624.9,476.6 623.9,476.6 623.9,481.8 622.9,481.8 622.9,481.8 621.9,481.8 621.9,481.8 620.9,481.8 620.9,481.7 619.9,481.7 619.9,481.7 618.9,481.7 618.9,481.6 617.9,481.6 617.9,481.6 616.9,481.6 616.9,480.4 615.9,480.4 615.9,480.4 614.9,480.4 614.9,480.4 613.9,480.4 613.9,482.3 612.9,482.3 612.9,482.3 611.9,482.3 611.9,482.3 610.9,482.3 610.9,482.3 609.9,482.3 609.9,482.3 608.9,482.3 608.9,482.5 607.9,482.5 607.9,482.5 606.9,482.5 606.9,482.5 605.9,482.5 605.9,480.9 604.9,480.9 604.9,480.9 603.9,480.9 603.9,480.9 602.9,480.9 602.9,480.9 601.9,480.9 601.9,480.8 600.9,480.8 600.9,479.3 599.9,479.3 599.9,479.2 598.9,479.2 598.9,479.1 597.9,479.1 597.9,479.0 596.9,479.0 596.9,482.1 595.9,482.1 595.9,482.0 594.9,482.0 594.9,481.9 593.9,481.9 593.9,481.8 592.9,481.8 592.9,481.7 591.9,481.7 591.9,481.6 590.9,481.6 590.9,480.9 589.9,480.9 589.9,480.8 588.9,480.8 588.9,488.0 587.9,488.0 587.9,502.5 586.9,502.5 586.9,502.5 585.9,502.5 585.9,500.7 584.9,500.7 584.9,500.7 583.9,500.7 583.9,500.7 582.9,500.7 582.9,500.7 581.9,500.7 581.9,500.7 580.9,500.7 580.9,500.7 579.9,500.7 579.9,500.2 578.9,500.2 578.9,500.2 577.9,500.2 577.9,499.1 576.9,499.1 576.9,499.0 575.9,499.0 575.9,502.3 574.9,502.3 574.9,502.2 573.9,502.2 573.9,502.2 572.9,502.2 572.9,496.7 571.9,496.7 571.9,496.6 570.9,496.6 570.9,500.5 569.9,500.5 569.9,500.4 568.9,500.4 568.9,500.4 567.9,500.4 567.9,500.3 566.9,500.3 566.9,500.3 565.9,500.3 565.9,500.2 564.9,500.2 564.9,499.8 563.9,499.8 563.9,499.7 562.9,499.7 562.9,499.7 561.9,499.7 561.9,499.6 560.9,499.6 560.9,498.9 559.9,498.9 559.9,498.9 558.9,498.9 558.9,498.8 557.9,498.8 557.9,498.8 556.9,498.8 556.9,497.6 555.9,497.6 555.9,497.5 554.9,497.5 554.9,497.5 553.9,497.5 553.9,497.4 552.9,497.4 552.9,502.7 551.9,502.7 551.9,502.7 550.9,502.7 550.9,502.6 549.9,502.6 549.9,502.6 548.9,502.6 548.9,502.5 547.9,502.5 547.9,498.4 546.9,498.4 546.9,498.4 545.9,498.4 545.9,498.3 544.9,498.3 544.9,498.0 543.9,498.0 543.9,497.9 542.9,497.9 542.9,497.9 541.9,497.9 541.9,497.8 540.9,497.8 540.9,497.8 539.9,497.8 539.9,500.8 538.9,500.8 538.9,500.7 537.9,500.7 537.9,500.7 536.9,500.7 536.9,500.6 535.9,500.6 535.9,500.6 534.9,500.6 534.9,500.5 533.9,500.5 533.9,499.2 532.9,499.2 532.9,499.2 531.9,499.2 531.9,499.1 530.9,499.1 530.9,497.8 529.9,497.8 529.9,497.8 528.9,497.8 528.9,497.8 527.9,497.8 527.9,497.8 526.9,497.8 526.9,497.8 525.9,497.8 525.9,497.8 524.9,497.8 524.9,499.9 523.9,499.9 523.9,499.9 522.9,499.9 522.9,499.9 521.9,499.9 521.9,499.9 520.9,499.9 520.9,495.0 519.9,495.0 519.9,495.0 518.9,495.0 518.9,495.0 517.9,495.0 517.9,496.2 516.9,496.2 516.9,496.2 515.9,496.2 515.9,495.4 514.9,495.4 514.9,495.4 513.9,495.4 513.9,495.4 512.9,495.4 512.9,495.4 511.9,495.4 511.9,495.4 510.9,495.4 510.9,495.4 509.9,495.4 509.9,497.8 508.9,497.8 508.9,497.8 507.9,497.8 507.9,497.8 506.9,497.8 506.9,497.8 505.9,497.8 505.9,497.8 504.9,497.8 504.9,496.9 503.9,496.9 503.9,497.0 502.9,497.0 502.9,497.0 501.9,497.0 501.9,497.1 500.9,497.1 500.9,500.3 499.9,500.3 499.9,500.4 498.9,500.4 498.9,500.4 497.9,500.4 497.9,500.5 496.9,500.5 496.9,498.8 495.9,498.8 495.9,498.8 494.9,498.8 494.9,498.9 493.9,498.9 493.9,498.9 492.9,498.9 492.9,499.0 491.9,499.0 491.9,499.0 490.9,499.0 490.9,497.7 489.9,497.7 489.9,497.7 488.9,497.7 488.9,497.8 487.9,497.8 487.9,498.1 486.9,498.1 486.9,498.2 485.9,498.2 485.9,497.5 484.9,497.5 484.9,497.5 483.9,497.5 483.9,497.6 482.9,497.6 482.9,497.6 481.9,497.6 481.9,497.7 480.9,497.7 480.9,497.7 479.9,497.7 479.9,497.1 478.9,497.1 478.9,497.1 477.9,497.1 477.9,497.3 476.9,497.3 476.9,497.4 475.9,497.4 475.9,497.6 474.9,497.6 474.9,497.7 473.9,497.7 473.9,500.9 472.9,500.9 472.9,501.1 471.9,501.1 471.9,501.2 470.9,501.2 470.9,498.2 469.9,498.2 469.9,498.3 468.9,498.3 468.9,498.5 467.9,498.5 467.9,500.7 466.9,500.7 466.9,500.8 465.9,500.8 465.9,501.0 464.9,501.0 464.9,501.1 463.9,501.1 463.9,499.4 462.9,499.4 462.9,499.5 461.9,499.5 461.9,499.7 460.9,499.7 460.9,499.8 459.9,499.8 459.9,501.2 458.9,501.2 458.9,501.3 457.9,501.3 457.9,500.5 456.9,500.5 456.9,500.6 455.9,500.6 455.9,500.8 454.9,500.8 454.9,500.9 453.9,500.9 453.9,504.0 452.9,504.0 452.9,504.0 451.9,504.0 451.9,503.9 450.9,503.9 450.9,503.8 449.9,503.8 449.9,503.7 448.9,503.7 448.9,504.4 447.9,504.4 447.9,504.3 446.9,504.3 446.9,504.2 445.9,504.2 445.9,499.8 444.9,499.8 444.9,499.7 443.9,499.7 443.9,500.9 442.9,500.9 442.9,500.8 441.9,500.8 441.9,500.7 440.9,500.7 440.9,503.0 439.9,503.0 439.9,502.9 438.9,502.9 438.9,502.8 437.9,502.8 437.9,502.7 436.9,502.7 436.9,502.6 435.9,502.6 435.9,502.5 434.9,502.5 434.9,500.4 433.9,500.4 433.9,500.3 432.9,500.3 432.9,500.2 431.9,500.2 431.9,500.6 430.9,500.6 430.9,500.5 429.9,500.5 429.9,500.4 428.9,500.4 428.9,500.3 427.9,500.3 427.9,502.5 426.9,502.5 426.9,502.5 425.9,502.5 425.9,502.0 424.9,502.0 424.9,502.0 423.9,502.0 423.9,502.0 422.9,502.0 422.9,502.0 421.9,502.0 421.9,502.0 420.9,502.0 420.9,496.9 419.9,496.9 419.9,496.9 418.9,496.9 418.9,496.9 417.9,496.9 417.9,502.1 416.9,502.1 416.9,502.1 415.9,502.1 415.9,502.1 414.9,502.1 414.9,502.1 413.9,502.1 413.9,502.1 412.9,502.1 412.9,502.1 411.9,502.1 411.9,498.5 410.9,498.5 410.9,498.5 409.9,498.5 409.9,498.5 408.9,498.5 408.9,498.5 407.9,498.5 407.9,498.5 406.9,498.5 406.9,498.5 405.9,498.5 405.9,502.1 404.9,502.1 404.9,502.1 403.9,502.1 403.9,502.1 402.9,502.1 402.9,501.6 401.9,501.6 401.9,501.6 400.9,501.6 400.9,501.8 399.9,501.8 399.9,501.9 398.9,501.9 398.9,502.1 397.9,502.1 397.9,502.2 396.9,502.2 396.9,500.1 395.9,500.1 395.9,500.2 394.9,500.2 394.9,500.4 393.9,500.4 393.9,500.5 392.9,500.5 392.9,499.5 391.9,499.5 391.9,499.6 390.9,499.6 390.9,499.8 389.9,499.8 389.9,499.9 388.9,499.9 388.9,501.1 387.9,501.1 387.9,501.3 386.9,501.3 386.9,501.4 385.9,501.4 385.9,501.6 384.9,501.6 384.9,501.8 383.9,501.8 383.9,500.8 382.9,500.8 382.9,500.9 381.9,500.9 381.9,501.1 380.9,501.1 380.9,501.7 379.9,501.7 379.9,501.9 378.9,501.9 378.9,502.0 377.9,502.0 377.9,505.6 376.9,505.6 376.9,505.7 375.9,505.7 375.9,505.9 374.9,505.9 374.9,506.3 373.9,506.3 373.9,504.8 372.9,504.8 372.9,505.2 371.9,505.2 371.9,506.0 370.9,506.0 370.9,506.4 369.9,506.4 369.9,506.8 368.9,506.8 368.9,507.2 367.9,507.2 367.9,507.6 366.9,507.6 366.9,508.0 365.9,508.0 365.9,513.2 364.9,513.2 364.9,513.6 363.9,513.6 363.9,514.0 362.9,514.0 362.9,514.1 361.9,514.1 361.9,500.8 360.9,500.8 360.9,488.4 359.9,488.4 359.9,488.4 358.9,488.4 358.9,488.4 357.9,488.4 357.9,488.4 356.9,488.4 356.9,488.4 355.9,488.4 355.9,487.3 354.9,487.3 354.9,487.3 353.9,487.3 353.9,487.2 352.9,487.2 352.9,487.2 351.9,487.2 351.9,487.1 350.9,487.1 350.9,491.0 349.9,491.0 349.9,491.0 348.9,491.0 348.9,490.9 347.9,490.9 347.9,490.9 346.9,490.9 346.9,487.7 345.9,487.7 345.9,487.7 344.9,487.7 344.9,487.6 343.9,487.6 343.9,487.6 342.9,487.6 342.9,487.5 341.9,487.5 341.9,485.4 340.9,485.4 340.9,485.4 339.9,485.4 339.9,490.8 338.9,490.8 338.9,490.8 337.9,490.8 337.9,490.7 336.9,490.7 336.9,490.7 335.9,490.7 335.9,487.4 334.9,487.4 334.9,487.3 333.9,487.3 333.9,490.4 332.9,490.4 332.9,490.4 331.9,490.4 331.9,490.3 330.9,490.3 330.9,490.7 329.9,490.7 329.9,490.8 328.9,490.8 328.9,490.9 327.9,490.9 327.9,491.0 326.9,491.0 326.9,491.1 325.9,491.1 325.9,485.6 324.9,485.6 324.9,485.7 323.9,485.7 323.9,485.8 322.9,485.8 322.9,485.9 321.9,485.9 321.9,486.0 320.9,486.0 320.9,486.1 319.9,486.1 319.9,489.7 318.9,489.7 318.9,489.8 317.9,489.8 317.9,489.9 316.9,489.9 316.9,490.0 315.9,490.0 315.9,490.1 314.9,490.1 314.9,490.2 313.9,490.2 313.9,490.1 312.9,490.1 312.9,490.2 311.9,490.2 311.9,490.3 310.9,490.3 310.9,490.4 309.9,490.4 309.9,490.5 308.9,490.5 308.9,490.7 307.9,490.7 307.9,490.8 306.9,490.8 306.9,490.9 305.9,490.9 305.9,491.0 304.9,491.0 304.9,490.9 303.9,490.9 303.9,490.9 302.9,490.9 302.9,491.0 301.9,491.0 301.9,490.9 300.9,490.9 300.9,490.9 299.9,490.9 299.9,487.3 298.9,487.3 298.9,487.3 297.9,487.3 297.9,487.2 296.9,487.2 296.9,487.2 295.9,487.2 295.9,488.7 294.9,488.7 294.9,488.7 293.9,488.7 293.9,488.6 292.9,488.6 292.9,488.6 291.9,488.6 291.9,488.5 290.9,488.5 290.9,488.5 289.9,488.5 289.9,488.4 288.9,488.4 288.9,492.4 287.9,492.4 287.9,492.3 286.9,492.3 286.9,492.3 285.9,492.3 285.9,492.2 284.9,492.2 284.9,492.2 283.9,492.2 283.9,492.1 282.9,492.1 282.9,486.8 281.9,486.8 281.9,486.8 280.9,486.8 280.9,486.7 279.9,486.7 279.9,486.7 278.9,486.7 278.9,487.4 277.9,487.4 277.9,487.4 276.9,487.4 276.9,487.3 275.9,487.3 275.9,487.3 274.9,487.3 274.9,487.2 273.9,487.2 273.9,487.2 272.9,487.2 272.9,485.5 271.9,485.5 271.9,485.5 270.9,485.5 270.9,486.6 269.9,486.6 269.9,486.6 268.9,486.6 268.9,488.6 267.9,488.6 267.9,488.6 266.9,488.6 266.9,488.5 265.9,488.5 265.9,488.5 264.9,488.5 264.9,488.5 263.9,488.5 263.9,496.0 262.9,496.0 262.9,496.0 261.9,496.0 261.9,495.9 260.9,495.9 260.9,495.9 259.9,495.9 259.9,495.9 258.9,495.9 258.9,490.1 257.9,490.1 257.9,490.0 256.9,490.0 256.9,490.0 255.9,490.0 255.9,489.9 254.9,489.9 254.9,485.8 253.9,485.8 253.9,485.8 252.9,485.8 252.9,488.5 251.9,488.5 251.9,488.6 250.9,488.6 250.9,488.6 249.9,488.6 249.9,489.2 248.9,489.2 248.9,489.3 247.9,489.3 247.9,489.3 246.9,489.3 246.9,489.4 245.9,489.4 245.9,489.4 244.9,489.4 244.9,489.5 243.9,489.5 243.9,489.8 242.9,489.8 242.9,489.8 241.9,489.8 241.9,489.9 240.9,489.9 240.9,489.9 239.9,489.9 239.9,490.4 238.9,490.4 238.9,490.5 237.9,490.5 237.9,490.5 236.9,490.5 236.9,486.4 235.9,486.4 235.9,486.5 234.9,486.5 234.9,486.5 233.9,486.5 233.9,486.6 232.9,486.6 232.9,487.6 231.9,487.6 231.9,487.7 230.9,487.7 230.9,487.7 229.9,487.7 229.9,487.8 228.9,487.8 228.9,487.8 227.9,487.8 227.9,487.9 226.9,487.9 226.9,490.8 225.9,490.8 225.9,490.9 224.9,490.9 224.9,491.1 223.9,491.1 223.9,491.2 222.9,491.2 222.9,489.2 221.9,489.2 221.9,489.3 220.9,489.3 220.9,487.3 219.9,487.3 219.9,487.4 218.9,487.4 218.9,487.5 217.9,487.5 217.9,487.6 216.9,487.6 216.9,487.7 215.9,487.7 215.9,487.8 214.9,487.8 214.9,489.6 213.9,489.6 213.9,489.7 212.9,489.7 212.9,492.1 211.9,492.1 211.9,492.2 210.9,492.2 210.9,492.3 209.9,492.3 209.9,492.4 208.9,492.4 208.9,491.2 207.9,491.2 207.9,491.3 206.9,491.3 206.9,489.3 205.9,489.3 205.9,489.4 204.9,489.4 204.9,489.5 203.9,489.5 203.9,489.6 202.9,489.6 202.9,489.7 201.9,489.7 201.9,489.6 200.9,489.6 200.9,489.7 199.9,489.7 199.9,491.0 198.9,491.0 198.9,491.1 197.9,491.1 197.9,491.2 196.9,491.2 196.9,491.3 195.9,491.3 195.9,491.3 194.9,491.3 194.9,489.8 193.9,489.8 193.9,489.9 192.9,489.9 192.9,490.6 191.9,490.6 191.9,490.7 190.9,490.7 190.9,490.8 189.9,490.8 189.9,490.5 188.9,490.5 188.9,490.6 187.9,490.6 187.9,491.5 186.9,491.5 186.9,496.3 185.9,496.3 185.9,497.0 184.9,497.0 184.9,497.0 183.9,497.0 183.9,497.1 182.9,497.1 182.9,493.1 181.9,493.1 181.9,493.2 180.9,493.2 180.9,493.2 179.9,493.2 179.9,493.3 178.9,493.3 178.9,493.4 177.9,493.4 177.9,493.4 176.9,493.4 176.9,495.7 175.9,495.7 175.9,495.8 174.9,495.8 174.9,495.9 173.9,495.9 173.9,495.9 172.9,495.9 172.9,496.3 171.9,496.3 171.9,496.1 170.9,496.1 170.9,495.6 169.9,495.6 169.9,493.0 168.9,493.0 168.9,493.1 167.9,493.1 167.9,496.0 166.9,496.0 166.9,496.1 165.9,496.1 165.9,497.9 164.9,497.9 164.9,498.0 163.9,498.0 163.9,498.0 162.9,498.0 162.9,498.1 161.9,498.1 161.9,498.1 160.9,498.1 160.9,495.4 159.9,495.4 159.9,495.5 158.9,495.5 158.9,495.5 157.9,495.5 157.9,495.6 156.9,495.6 156.9,496.6 155.9,496.6 155.9,496.7 154.9,496.7 154.9,496.7 153.9,496.7 153.9,496.8 152.9,496.8 152.9,497.6 151.9,497.6 151.9,497.6 150.9,497.6 150.9,497.8 149.9,497.8 149.9,497.9 148.9,497.9 148.9,498.1 147.9,498.1 147.9,498.8 146.9,498.8 146.9,498.9 145.9,498.9 145.9,497.3 144.9,497.3 144.9,497.5 143.9,497.5 143.9,497.6 142.9,497.6 142.9,500.5 141.9,500.5 141.9,500.6 140.9,500.6 140.9,500.8 139.9,500.8 139.9,499.3 138.9,499.3 138.9,499.5 137.9,499.5 137.9,499.6 136.9,499.6 136.9,499.8 135.9,499.8 135.9,499.9 134.9,499.9 134.9,501.5 133.9,501.5 133.9,501.7 132.9,501.7 132.9,500.0 131.9,500.0 131.9,500.2 130.9,500.2 130.9,499.1 129.9,499.1 129.9,499.3 128.9,499.3 128.9,499.4 127.9,499.4 127.9,499.6 126.9,499.6 126.9,499.7 125.9,499.7 125.9,499.9 124.9,499.9 124.9,498.9 123.9,498.9 123.9,499.2 122.9,499.2 122.9,500.7 121.9,500.7 121.9,501.0 120.9,501.0 120.9,501.3 119.9,501.3 119.9,501.6 118.9,501.6 118.9,505.4 117.9,505.4 117.9,505.8 116.9,505.8 116.9,506.1 115.9,506.1 115.9,506.4 114.9,506.4 114.9,506.7 113.9,506.7 113.9,507.0 112.9,507.0 112.9,501.3 111.9,501.3 111.9,501.9 110.9,501.9 110.9,502.8 109.9,502.8 109.9,503.6 108.9,503.6 108.9,504.5 107.9,504.5 107.9,505.3 106.9,505.3 106.9,505.1 105.9,505.1 105.9,506.3 104.9,506.3 104.9,507.4 103.9,507.4" fill="#2E83EE"/>
<polygon points="1012.3,422.2 1013.1,424.8 1013.9,427.5 1014.7,430.8 1015.5,435.4 1016.3,438.0 1017.1,439.5 1017.9,441.2 1018.7,440.7 1019.5,441.4 1020.3,441.9 1021.1,442.8 1021.9,444.8 1022.7,446.8 1023.5,447.6 1024.3,449.2 1024.3,488.5 1023.5,491.9 1022.7,493.6 1021.9,494.1 1021.1,495.1 1020.3,494.6 1019.5,495.9 1018.7,495.3 1017.9,495.7 1017.1,494.8 1016.3,492.9 1015.5,489.9 1014.7,484.5 1013.9,481.2 1013.1,480.4 1012.3,478.7" fill="#4b90ea"/>
<rect x="361.6" y="351.5" width="226.2" height="211.1" fill="#cccccc" fill-opacity="0.31"/>
<rect x="1012.2" y="351.5" width="8.2" height="211.1" fill="#cccccc" fill-opacity="0.17"/>
<text x="106.6" y="599.7" font-size="28.8" text-anchor="middle">0</text>
<text x="220.9" y="599.7" font-size="28.8" text-anchor="middle">1000</text>
<text x="335.3" y="599.7" font-size="28.8" text-anchor="middle">2000</text>
<text x="449.6" y="599.7" font-size="28.8" text-anchor="middle">3000</text>
<text x="564.0" y="599.7" font-size="28.8" text-anchor="middle">4000</text>
<text x="678.4" y="599.7" font-size="28.8" text-anchor="middle">5000</text>
<text x="792.7" y="599.7" font-size="28.8" text-anchor="middle">6000</text>
<text x="907.1" y="599.7" font-size="28.8" text-anchor="middle">7000</text>
<text x="1021.4" y="599.7" font-size="28.8" text-anchor="middle">8000</text>
<text x="97.6" y="363.3" font-size="28.8" text-anchor="end">-3.6</text>
<text x="97.6" y="468.1" font-size="28.8" text-anchor="end">-3.7</text>
<text x="97.6" y="572.9" font-size="28.8" text-anchor="end">-3.8</text>
<text x="107.5" y="348.7" font-size="35">×</text>
<text x="132.0" y="344.7" font-size="27.6">10</text>
<text x="160.6" y="331.9" font-size="24.2">-6</text>
<text transform="translate(38.4,456.4) rotate(-90)" font-size="31.6" text-anchor="middle" textLength="260.5" lengthAdjust="spacing">Accleleration <tspan font-size="35" dy="1.4">[</tspan><tspan dy="-1.4">m/s</tspan><tspan dy="-14.5" font-size="27">2</tspan><tspan dy="15.9" font-size="35">]</tspan></text>
<rect x="793.0" y="366.4" width="210.3" height="38.2" fill="#fff" stroke="#262626" stroke-width="1.4"/>
<line x1="800.4" x2="869.4" y1="385.5" y2="385.5" stroke="#2E83EE" stroke-width="4"/>
<text x="876.2" y="394.2" font-size="25.9" textLength="119.5" lengthAdjust="spacing">Cross-track</text>
</g>
<g>
<line x1="220.9" x2="220.9" y1="664.5" y2="874.8" stroke="#E4E4E4" stroke-width="1.4"/>
<line x1="335.3" x2="335.3" y1="664.5" y2="874.8" stroke="#E4E4E4" stroke-width="1.4"/>
<line x1="449.6" x2="449.6" y1="664.5" y2="874.8" stroke="#E4E4E4" stroke-width="1.4"/>
<line x1="564.0" x2="564.0" y1="664.5" y2="874.8" stroke="#E4E4E4" stroke-width="1.4"/>
<line x1="678.4" x2="678.4" y1="664.5" y2="874.8" stroke="#E4E4E4" stroke-width="1.4"/>
<line x1="792.7" x2="792.7" y1="664.5" y2="874.8" stroke="#E4E4E4" stroke-width="1.4"/>
<line x1="907.1" x2="907.1" y1="664.5" y2="874.8" stroke="#E4E4E4" stroke-width="1.4"/>
<line x1="106.6" x2="1021.4" y1="748.6" y2="748.6" stroke="#E4E4E4" stroke-width="1.4"/>
<line x1="106.6" x2="1021.4" y1="832.7" y2="832.7" stroke="#E4E4E4" stroke-width="1.4"/>
<rect x="106.6" y="664.5" width="914.8" height="210.3" fill="none" stroke="#3a3a3a" stroke-width="1.5"/>
<line x1="220.9" x2="220.9" y1="874.8" y2="865.6" stroke="#3a3a3a" stroke-width="1.5"/>
<line x1="220.9" x2="220.9" y1="664.5" y2="673.7" stroke="#3a3a3a" stroke-width="1.5"/>
<line x1="335.3" x2="335.3" y1="874.8" y2="865.6" stroke="#3a3a3a" stroke-width="1.5"/>
<line x1="335.3" x2="335.3" y1="664.5" y2="673.7" stroke="#3a3a3a" stroke-width="1.5"/>
<line x1="449.6" x2="449.6" y1="874.8" y2="865.6" stroke="#3a3a3a" stroke-width="1.5"/>
<line x1="449.6" x2="449.6" y1="664.5" y2="673.7" stroke="#3a3a3a" stroke-width="1.5"/>
<line x1="564.0" x2="564.0" y1="874.8" y2="865.6" stroke="#3a3a3a" stroke-width="1.5"/>
<line x1="564.0" x2="564.0" y1="664.5" y2="673.7" stroke="#3a3a3a" stroke-width="1.5"/>
<line x1="678.4" x2="678.4" y1="874.8" y2="865.6" stroke="#3a3a3a" stroke-width="1.5"/>
<line x1="678.4" x2="678.4" y1="664.5" y2="673.7" stroke="#3a3a3a" stroke-width="1.5"/>
<line x1="792.7" x2="792.7" y1="874.8" y2="865.6" stroke="#3a3a3a" stroke-width="1.5"/>
<line x1="792.7" x2="792.7" y1="664.5" y2="673.7" stroke="#3a3a3a" stroke-width="1.5"/>
<line x1="907.1" x2="907.1" y1="874.8" y2="865.6" stroke="#3a3a3a" stroke-width="1.5"/>
<line x1="907.1" x2="907.1" y1="664.5" y2="673.7" stroke="#3a3a3a" stroke-width="1.5"/>
<line x1="106.6" x2="115.8" y1="748.6" y2="748.6" stroke="#3a3a3a" stroke-width="1.5"/>
<line x1="1021.4" x2="1012.2" y1="748.6" y2="748.6" stroke="#3a3a3a" stroke-width="1.5"/>
<line x1="106.6" x2="115.8" y1="832.7" y2="832.7" stroke="#3a3a3a" stroke-width="1.5"/>
<line x1="1021.4" x2="1012.2" y1="832.7" y2="832.7" stroke="#3a3a3a" stroke-width="1.5"/>
<rect x="122.1" y="700.0" width="3.3" height="174.8" fill="#BFBFBF"/>
<rect x="181.2" y="664.5" width="3.3" height="210.3" fill="#BFBFBF"/>
<rect x="236.7" y="664.5" width="3.3" height="169.3" fill="#BFBFBF"/>
<rect x="316.4" y="664.5" width="3.3" height="210.3" fill="#BFBFBF"/>
<rect x="404.8" y="664.5" width="3.3" height="210.3" fill="#BFBFBF"/>
<rect x="413.8" y="750.0" width="3.3" height="124.8" fill="#BFBFBF"/>
<rect x="424.2" y="664.5" width="3.3" height="210.3" fill="#BFBFBF"/>
<rect x="431.4" y="664.5" width="3.3" height="210.3" fill="#BFBFBF"/>
<rect x="440.6" y="755.0" width="4.8" height="119.8" fill="#BFBFBF"/>
<rect x="445.8" y="664.5" width="4.8" height="210.3" fill="#BFBFBF"/>
<rect x="456.1" y="664.5" width="3.3" height="210.3" fill="#BFBFBF"/>
<rect x="469.2" y="664.5" width="3.3" height="210.3" fill="#BFBFBF"/>
<rect x="474.8" y="664.5" width="3.3" height="210.3" fill="#BFBFBF"/>
<rect x="492.4" y="717.0" width="3.3" height="157.8" fill="#BFBFBF"/>
<rect x="527.2" y="664.5" width="3.3" height="210.3" fill="#BFBFBF"/>
<rect x="624.0" y="701.4" width="3.3" height="173.4" fill="#BFBFBF"/>
<rect x="649.8" y="664.5" width="3.3" height="210.3" fill="#BFBFBF"/>
<rect x="674.4" y="664.5" width="3.3" height="210.3" fill="#BFBFBF"/>
<rect x="680.6" y="664.5" width="5.0" height="210.3" fill="#BFBFBF"/>
<rect x="698.4" y="667.5" width="3.3" height="207.3" fill="#BFBFBF"/>
<rect x="711.6" y="664.5" width="3.3" height="210.3" fill="#BFBFBF"/>
<rect x="765.2" y="664.5" width="3.3" height="210.3" fill="#BFBFBF"/>
<rect x="781.6" y="664.5" width="3.3" height="210.3" fill="#BFBFBF"/>
<rect x="816.5" y="800.0" width="3.3" height="74.8" fill="#BFBFBF"/>
<rect x="822.5" y="664.5" width="3.3" height="210.3" fill="#BFBFBF"/>
<rect x="866.1" y="664.5" width="3.3" height="202.8" fill="#BFBFBF"/>
<rect x="893.1" y="664.5" width="3.3" height="210.3" fill="#BFBFBF"/>
<rect x="943.4" y="664.5" width="3.3" height="210.3" fill="#BFBFBF"/>
<rect x="986.5" y="664.5" width="5.4" height="210.3" fill="#BFBFBF"/>
<rect x="736.6" y="664.5" width="4.0" height="110.5" fill="#BFBFBF"/>
<rect x="738.4" y="800.0" width="5.6" height="74.8" fill="#BFBFBF"/>
<rect x="334.3" y="765.0" width="3.0" height="26.4" fill="#BFBFBF"/>
<rect x="424.8" y="709.0" width="7.0" height="67.0" fill="#BFBFBF"/>
<rect x="441.0" y="755.0" width="10.0" height="119.8" fill="#BFBFBF"/>
<rect x="193.8" y="755.0" width="2.5" height="10.0" fill="#BFBFBF"/>
<polygon points="106.1,696.4 108.1,696.4 108.1,692.0 110.1,692.0 110.1,691.1 112.1,691.1 112.1,690.3 114.1,690.3 114.1,690.8 116.1,690.8 116.1,691.2 118.1,691.2 118.1,691.7 120.1,691.7 120.1,692.8 122.1,692.8 122.1,693.9 124.1,693.9 124.1,695.1 126.1,695.1 126.1,697.4 128.1,697.4 128.1,700.2 130.1,700.2 130.1,703.0 132.1,703.0 132.1,705.8 134.1,705.8 134.1,708.6 136.1,708.6 136.1,711.3 138.1,711.3 138.1,713.1 140.1,713.1 140.1,711.9 142.1,711.9 142.1,710.7 144.1,710.7 144.1,709.7 146.1,709.7 146.1,710.8 148.1,710.8 148.1,712.0 150.1,712.0 150.1,713.2 152.1,713.2 152.1,712.6 154.1,712.6 154.1,711.6 156.1,711.6 156.1,710.6 158.1,710.6 158.1,709.6 160.1,709.6 160.1,711.2 162.1,711.2 162.1,708.5 164.1,708.5 164.1,714.5 166.1,714.5 166.1,716.3 168.1,716.3 168.1,718.8 170.1,718.8 170.1,721.3 172.1,721.3 172.1,724.9 174.1,724.9 174.1,729.5 176.1,729.5 176.1,734.0 178.1,734.0 178.1,736.3 180.1,736.3 180.1,738.6 182.1,738.6 182.1,740.9 184.1,740.9 184.1,743.0 186.1,743.0 186.1,743.0 188.1,743.0 188.1,743.0 190.1,743.0 190.1,738.4 192.1,738.4 192.1,743.0 194.1,743.0 194.1,743.0 196.1,743.0 196.1,743.0 198.1,743.0 198.1,743.0 200.1,743.0 200.1,743.0 202.1,743.0 202.1,743.0 204.1,743.0 204.1,743.1 206.1,743.1 206.1,743.2 208.1,743.2 208.1,743.3 210.1,743.3 210.1,743.4 212.1,743.4 212.1,743.5 214.1,743.5 214.1,743.6 216.1,743.6 216.1,743.7 218.1,743.7 218.1,739.3 220.1,739.3 220.1,743.9 222.1,743.9 222.1,744.0 224.1,744.0 224.1,744.1 226.1,744.1 226.1,744.2 228.1,744.2 228.1,744.3 230.1,744.3 230.1,740.0 232.1,740.0 232.1,744.6 234.1,744.6 234.1,744.8 236.1,744.8 236.1,744.9 238.1,744.9 238.1,745.0 240.1,745.0 240.1,745.2 242.1,745.2 242.1,738.8 244.1,738.8 244.1,745.5 246.1,745.5 246.1,745.6 248.1,745.6 248.1,745.7 250.1,745.7 250.1,745.9 252.1,745.9 252.1,746.0 254.1,746.0 254.1,746.1 256.1,746.1 256.1,746.0 258.1,746.0 258.1,746.0 260.1,746.0 260.1,746.0 262.1,746.0 262.1,745.9 264.1,745.9 264.1,745.9 266.1,745.9 266.1,745.9 268.1,745.9 268.1,745.8 270.1,745.8 270.1,745.8 272.1,745.8 272.1,745.7 274.1,745.7 274.1,745.7 276.1,745.7 276.1,745.7 278.1,745.7 278.1,745.6 280.1,745.6 280.1,740.9 282.1,740.9 282.1,745.3 284.1,745.3 284.1,745.2 286.1,745.2 286.1,745.0 288.1,745.0 288.1,738.3 290.1,738.3 290.1,744.7 292.1,744.7 292.1,744.5 294.1,744.5 294.1,738.1 296.1,738.1 296.1,744.2 298.1,744.2 298.1,744.0 300.1,744.0 300.1,743.9 302.1,743.9 302.1,743.7 304.1,743.7 304.1,737.7 306.1,737.7 306.1,743.5 308.1,743.5 308.1,743.4 310.1,743.4 310.1,743.4 312.1,743.4 312.1,743.4 314.1,743.4 314.1,743.3 316.1,743.3 316.1,743.3 318.1,743.3 318.1,743.2 320.1,743.2 320.1,743.2 322.1,743.2 322.1,743.2 324.1,743.2 324.1,743.1 326.1,743.1 326.1,743.1 328.1,743.1 328.1,743.0 330.1,743.0 330.1,737.5 332.1,737.5 332.1,743.0 334.1,743.0 334.1,742.9 336.1,742.9 336.1,742.9 338.1,742.9 338.1,742.9 340.1,742.9 340.1,742.8 342.1,742.8 342.1,742.8 344.1,742.8 344.1,742.7 346.1,742.7 346.1,742.7 348.1,742.7 348.1,737.1 350.1,737.1 350.1,742.6 352.1,742.6 352.1,742.6 354.1,742.6 354.1,742.5 356.1,742.5 356.1,742.5 358.1,742.5 358.1,742.0 360.1,742.0 360.1,741.8 362.1,741.8 362.1,745.3 364.1,745.3 364.1,745.5 366.1,745.5 366.1,745.3 368.1,745.3 368.1,745.0 370.1,745.0 370.1,740.1 372.1,740.1 372.1,734.7 374.1,734.7 374.1,735.3 376.1,735.3 376.1,737.7 378.1,737.7 378.1,743.3 380.1,743.3 380.1,737.9 382.1,737.9 382.1,742.1 384.1,742.1 384.1,741.5 386.1,741.5 386.1,740.9 388.1,740.9 388.1,731.8 390.1,731.8 390.1,735.2 392.1,735.2 392.1,739.1 394.1,739.1 394.1,734.1 396.1,734.1 396.1,737.9 398.1,737.9 398.1,737.3 400.1,737.3 400.1,736.7 402.1,736.7 402.1,736.2 404.1,736.2 404.1,735.7 406.1,735.7 406.1,735.2 408.1,735.2 408.1,734.7 410.1,734.7 410.1,729.2 412.1,729.2 412.1,733.6 414.1,733.6 414.1,733.1 416.1,733.1 416.1,732.6 418.1,732.6 418.1,732.1 420.1,732.1 420.1,725.0 422.1,725.0 422.1,731.1 424.1,731.1 424.1,730.6 426.1,730.6 426.1,730.1 428.1,730.1 428.1,729.9 430.1,729.9 430.1,729.7 432.1,729.7 432.1,725.2 434.1,725.2 434.1,729.4 436.1,729.4 436.1,729.2 438.1,729.2 438.1,729.0 440.1,729.0 440.1,724.2 442.1,724.2 442.1,722.5 444.1,722.5 444.1,728.9 446.1,728.9 446.1,728.9 448.1,728.9 448.1,728.9 450.1,728.9 450.1,728.9 452.1,728.9 452.1,728.9 454.1,728.9 454.1,729.3 456.1,729.3 456.1,729.7 458.1,729.7 458.1,730.1 460.1,730.1 460.1,730.5 462.1,730.5 462.1,730.9 464.1,730.9 464.1,731.3 466.1,731.3 466.1,731.7 468.1,731.7 468.1,732.1 470.1,732.1 470.1,732.5 472.1,732.5 472.1,732.9 474.1,732.9 474.1,733.3 476.1,733.3 476.1,733.7 478.1,733.7 478.1,734.1 480.1,734.1 480.1,734.7 482.1,734.7 482.1,735.3 484.1,735.3 484.1,735.9 486.1,735.9 486.1,736.5 488.1,736.5 488.1,737.1 490.1,737.1 490.1,737.7 492.1,737.7 492.1,738.3 494.1,738.3 494.1,738.9 496.1,738.9 496.1,739.5 498.1,739.5 498.1,740.1 500.1,740.1 500.1,740.7 502.1,740.7 502.1,741.3 504.1,741.3 504.1,741.9 506.1,741.9 506.1,742.3 508.1,742.3 508.1,742.7 510.1,742.7 510.1,743.1 512.1,743.1 512.1,743.5 514.1,743.5 514.1,743.9 516.1,743.9 516.1,744.3 518.1,744.3 518.1,744.3 520.1,744.3 520.1,738.7 522.1,738.7 522.1,744.3 524.1,744.3 524.1,744.3 526.1,744.3 526.1,744.3 528.1,744.3 528.1,744.3 530.1,744.3 530.1,744.2 532.1,744.2 532.1,744.1 534.1,744.1 534.1,744.0 536.1,744.0 536.1,743.9 538.1,743.9 538.1,743.8 540.1,743.8 540.1,743.7 542.1,743.7 542.1,743.6 544.1,743.6 544.1,743.5 546.1,743.5 546.1,743.4 548.1,743.4 548.1,743.3 550.1,743.3 550.1,743.2 552.1,743.2 552.1,743.1 554.1,743.1 554.1,743.0 556.1,743.0 556.1,743.1 558.1,743.1 558.1,743.2 560.1,743.2 560.1,743.3 562.1,743.3 562.1,743.4 564.1,743.4 564.1,743.5 566.1,743.5 566.1,743.6 568.1,743.6 568.1,743.7 570.1,743.7 570.1,743.8 572.1,743.8 572.1,743.9 574.1,743.9 574.1,744.0 576.1,744.0 576.1,744.1 578.1,744.1 578.1,744.2 580.1,744.2 580.1,744.3 582.1,744.3 582.1,744.3 584.1,744.3 584.1,744.3 586.1,744.3 586.1,744.3 588.1,744.3 588.1,745.0 590.1,745.0 590.1,747.2 592.1,747.2 592.1,749.4 594.1,749.4 594.1,751.0 596.1,751.0 596.1,751.8 598.1,751.8 598.1,752.7 600.1,752.7 600.1,753.5 602.1,753.5 602.1,754.3 604.1,754.3 604.1,755.1 606.1,755.1 606.1,755.9 608.1,755.9 608.1,756.2 610.1,756.2 610.1,756.6 612.1,756.6 612.1,756.9 614.1,756.9 614.1,757.3 616.1,757.3 616.1,757.6 618.1,757.6 618.1,758.0 620.1,758.0 620.1,758.3 622.1,758.3 622.1,759.4 624.1,759.4 624.1,760.6 626.1,760.6 626.1,761.8 628.1,761.8 628.1,763.0 630.1,763.0 630.1,764.2 632.1,764.2 632.1,765.4 634.1,765.4 634.1,761.8 636.1,761.8 636.1,767.1 638.1,767.1 638.1,767.9 640.1,767.9 640.1,764.0 642.1,764.0 642.1,763.9 644.1,763.9 644.1,761.0 646.1,761.0 646.1,770.8 648.1,770.8 648.1,771.1 650.1,771.1 650.1,771.4 652.1,771.4 652.1,765.8 654.1,765.8 654.1,763.1 656.1,763.1 656.1,772.4 658.1,772.4 658.1,772.7 660.1,772.7 660.1,772.9 662.1,772.9 662.1,768.5 664.1,768.5 664.1,773.2 666.1,773.2 666.1,773.4 668.1,773.4 668.1,773.6 670.1,773.6 670.1,773.7 672.1,773.7 672.1,773.9 674.1,773.9 674.1,773.5 676.1,773.5 676.1,766.4 678.1,766.4 678.1,766.2 680.1,766.2 680.1,772.2 682.1,772.2 682.1,771.8 684.1,771.8 684.1,771.4 686.1,771.4 686.1,771.0 688.1,771.0 688.1,770.6 690.1,770.6 690.1,770.2 692.1,770.2 692.1,769.8 694.1,769.8 694.1,769.4 696.1,769.4 696.1,769.0 698.1,769.0 698.1,768.8 700.1,768.8 700.1,769.0 702.1,769.0 702.1,764.6 704.1,764.6 704.1,769.4 706.1,769.4 706.1,769.6 708.1,769.6 708.1,769.8 710.1,769.8 710.1,770.0 712.1,770.0 712.1,770.2 714.1,770.2 714.1,770.4 716.1,770.4 716.1,770.6 718.1,770.6 718.1,770.8 720.1,770.8 720.1,771.0 722.1,771.0 722.1,771.2 724.1,771.2 724.1,771.4 726.1,771.4 726.1,771.7 728.1,771.7 728.1,772.0 730.1,772.0 730.1,772.3 732.1,772.3 732.1,772.6 734.1,772.6 734.1,772.9 736.1,772.9 736.1,773.2 738.1,773.2 738.1,773.5 740.1,773.5 740.1,773.8 742.1,773.8 742.1,774.1 744.1,774.1 744.1,774.4 746.1,774.4 746.1,768.8 748.1,768.8 748.1,775.0 750.1,775.0 750.1,775.1 752.1,775.1 752.1,775.1 754.1,775.1 754.1,775.1 756.1,775.1 756.1,775.1 758.1,775.1 758.1,775.1 760.1,775.1 760.1,775.1 762.1,775.1 762.1,775.1 764.1,775.1 764.1,775.1 766.1,775.1 766.1,775.1 768.1,775.1 768.1,775.1 770.1,775.1 770.1,775.1 772.1,775.1 772.1,775.1 774.1,775.1 774.1,775.1 776.1,775.1 776.1,775.2 778.1,775.2 778.1,775.4 780.1,775.4 780.1,775.6 782.1,775.6 782.1,775.8 784.1,775.8 784.1,776.1 786.1,776.1 786.1,776.3 788.1,776.3 788.1,772.1 790.1,772.1 790.1,776.7 792.1,776.7 792.1,776.9 794.1,776.9 794.1,777.1 796.1,777.1 796.1,777.3 798.1,777.3 798.1,777.5 800.1,777.5 800.1,777.7 802.1,777.7 802.1,777.7 804.1,777.7 804.1,777.7 806.1,777.7 806.1,777.7 808.1,777.7 808.1,777.7 810.1,777.7 810.1,777.7 812.1,777.7 812.1,777.7 814.1,777.7 814.1,777.7 816.1,777.7 816.1,777.7 818.1,777.7 818.1,777.7 820.1,777.7 820.1,777.7 822.1,777.7 822.1,777.7 824.1,777.7 824.1,777.7 826.1,777.7 826.1,777.7 828.1,777.7 828.1,777.9 830.1,777.9 830.1,778.0 832.1,778.0 832.1,778.2 834.1,778.2 834.1,778.4 836.1,778.4 836.1,778.6 838.1,778.6 838.1,778.7 840.1,778.7 840.1,778.9 842.1,778.9 842.1,779.1 844.1,779.1 844.1,779.3 846.1,779.3 846.1,779.4 848.1,779.4 848.1,779.6 850.1,779.6 850.1,779.8 852.1,779.8 852.1,780.0 854.1,780.0 854.1,780.1 856.1,780.1 856.1,780.3 858.1,780.3 858.1,774.7 860.1,774.7 860.1,780.9 862.1,780.9 862.1,781.2 864.1,781.2 864.1,781.5 866.1,781.5 866.1,781.8 868.1,781.8 868.1,782.1 870.1,782.1 870.1,782.4 872.1,782.4 872.1,782.7 874.1,782.7 874.1,783.0 876.1,783.0 876.1,783.2 878.1,783.2 878.1,783.5 880.1,783.5 880.1,783.8 882.1,783.8 882.1,784.1 884.1,784.1 884.1,784.4 886.1,784.4 886.1,784.7 888.1,784.7 888.1,785.0 890.1,785.0 890.1,785.3 892.1,785.3 892.1,785.6 894.1,785.6 894.1,786.0 896.1,786.0 896.1,780.7 898.1,780.7 898.1,786.6 900.1,786.6 900.1,786.9 902.1,786.9 902.1,787.2 904.1,787.2 904.1,787.5 906.1,787.5 906.1,787.8 908.1,787.8 908.1,788.1 910.1,788.1 910.1,788.3 912.1,788.3 912.1,782.0 914.1,782.0 914.1,788.7 916.1,788.7 916.1,788.9 918.1,788.9 918.1,789.1 920.1,789.1 920.1,783.8 922.1,783.8 922.1,789.5 924.1,789.5 924.1,789.7 926.1,789.7 926.1,789.9 928.1,789.9 928.1,790.1 930.1,790.1 930.1,790.3 932.1,790.3 932.1,790.5 934.1,790.5 934.1,790.6 936.1,790.6 936.1,790.5 938.1,790.5 938.1,790.4 940.1,790.4 940.1,790.3 942.1,790.3 942.1,790.2 944.1,790.2 944.1,790.1 946.1,790.1 946.1,790.0 948.1,790.0 948.1,789.9 950.1,789.9 950.1,789.8 952.1,789.8 952.1,789.6 954.1,789.6 954.1,789.5 956.1,789.5 956.1,789.4 958.1,789.4 958.1,784.7 960.1,784.7 960.1,789.4 962.1,789.4 962.1,784.8 964.1,784.8 964.1,789.8 966.1,789.8 966.1,790.0 968.1,790.0 968.1,790.2 970.1,790.2 970.1,790.4 972.1,790.4 972.1,790.6 974.1,790.6 974.1,790.8 976.1,790.8 976.1,791.0 978.1,791.0 978.1,791.2 980.1,791.2 980.1,791.4 982.1,791.4 982.1,791.6 984.1,791.6 984.1,791.8 986.1,791.8 986.1,792.0 988.1,792.0 988.1,792.1 990.1,792.1 990.1,792.2 992.1,792.2 992.1,792.3 994.1,792.3 994.1,792.4 996.1,792.4 996.1,792.6 998.1,792.6 998.1,792.7 1000.1,792.7 1000.1,792.8 1002.1,792.8 1002.1,792.9 1004.1,792.9 1004.1,793.0 1006.1,793.0 1006.1,793.1 1008.1,793.1 1008.1,793.0 1010.1,793.0 1010.1,809.0 1008.1,809.0 1008.1,809.0 1006.1,809.0 1006.1,809.1 1004.1,809.1 1004.1,809.2 1002.1,809.2 1002.1,809.3 1000.1,809.3 1000.1,809.5 998.1,809.5 998.1,809.6 996.1,809.6 996.1,809.7 994.1,809.7 994.1,809.8 992.1,809.8 992.1,810.0 990.1,810.0 990.1,810.1 988.1,810.1 988.1,810.2 986.1,810.2 986.1,810.3 984.1,810.3 984.1,810.2 982.1,810.2 982.1,814.4 980.1,814.4 980.1,810.0 978.1,810.0 978.1,809.9 976.1,809.9 976.1,809.8 974.1,809.8 974.1,809.7 972.1,809.7 972.1,809.6 970.1,809.6 970.1,809.5 968.1,809.5 968.1,815.7 966.1,815.7 966.1,809.3 964.1,809.3 964.1,809.2 962.1,809.2 962.1,809.1 960.1,809.1 960.1,809.0 958.1,809.0 958.1,808.9 956.1,808.9 956.1,808.8 954.1,808.8 954.1,808.7 952.1,808.7 952.1,808.5 950.1,808.5 950.1,808.4 948.1,808.4 948.1,808.3 946.1,808.3 946.1,808.2 944.1,808.2 944.1,808.1 942.1,808.1 942.1,808.0 940.1,808.0 940.1,807.9 938.1,807.9 938.1,807.8 936.1,807.8 936.1,807.7 934.1,807.7 934.1,807.7 932.1,807.7 932.1,807.7 930.1,807.7 930.1,807.7 928.1,807.7 928.1,807.7 926.1,807.7 926.1,807.7 924.1,807.7 924.1,807.7 922.1,807.7 922.1,807.7 920.1,807.7 920.1,814.4 918.1,814.4 918.1,807.7 916.1,807.7 916.1,807.7 914.1,807.7 914.1,812.1 912.1,812.1 912.1,807.7 910.1,807.7 910.1,812.4 908.1,812.4 908.1,812.0 906.1,812.0 906.1,807.5 904.1,807.5 904.1,807.4 902.1,807.4 902.1,807.3 900.1,807.3 900.1,811.7 898.1,811.7 898.1,807.1 896.1,807.1 896.1,807.0 894.1,807.0 894.1,806.9 892.1,806.9 892.1,806.8 890.1,806.8 890.1,806.7 888.1,806.7 888.1,806.6 886.1,806.6 886.1,806.5 884.1,806.5 884.1,806.4 882.1,806.4 882.1,806.3 880.1,806.3 880.1,806.2 878.1,806.2 878.1,806.1 876.1,806.1 876.1,806.0 874.1,806.0 874.1,805.9 872.1,805.9 872.1,805.8 870.1,805.8 870.1,805.7 868.1,805.7 868.1,805.6 866.1,805.6 866.1,805.5 864.1,805.5 864.1,805.4 862.1,805.4 862.1,805.3 860.1,805.3 860.1,805.2 858.1,805.2 858.1,805.1 856.1,805.1 856.1,805.2 854.1,805.2 854.1,805.3 852.1,805.3 852.1,805.4 850.1,805.4 850.1,805.4 848.1,805.4 848.1,805.5 846.1,805.5 846.1,805.6 844.1,805.6 844.1,805.7 842.1,805.7 842.1,805.8 840.1,805.8 840.1,805.9 838.1,805.9 838.1,806.0 836.1,806.0 836.1,806.1 834.1,806.1 834.1,806.1 832.1,806.1 832.1,806.2 830.1,806.2 830.1,806.3 828.1,806.3 828.1,806.4 826.1,806.4 826.1,806.3 824.1,806.3 824.1,806.2 822.1,806.2 822.1,806.1 820.1,806.1 820.1,806.0 818.1,806.0 818.1,811.4 816.1,811.4 816.1,805.8 814.1,805.8 814.1,805.7 812.1,805.7 812.1,805.6 810.1,805.6 810.1,805.5 808.1,805.5 808.1,805.4 806.1,805.4 806.1,805.3 804.1,805.3 804.1,805.2 802.1,805.2 802.1,805.1 800.1,805.1 800.1,805.3 798.1,805.3 798.1,805.5 796.1,805.5 796.1,805.7 794.1,805.7 794.1,805.9 792.1,805.9 792.1,806.1 790.1,806.1 790.1,811.6 788.1,811.6 788.1,806.5 786.1,806.5 786.1,806.7 784.1,806.7 784.1,807.0 782.1,807.0 782.1,807.2 780.1,807.2 780.1,807.4 778.1,807.4 778.1,807.6 776.1,807.6 776.1,807.6 774.1,807.6 774.1,807.4 772.1,807.4 772.1,807.2 770.1,807.2 770.1,807.0 768.1,807.0 768.1,806.8 766.1,806.8 766.1,806.6 764.1,806.6 764.1,806.4 762.1,806.4 762.1,806.2 760.1,806.2 760.1,806.0 758.1,806.0 758.1,805.8 756.1,805.8 756.1,811.9 754.1,811.9 754.1,805.4 752.1,805.4 752.1,805.2 750.1,805.2 750.1,809.8 748.1,809.8 748.1,804.7 746.1,804.7 746.1,804.4 744.1,804.4 744.1,804.1 742.1,804.1 742.1,803.8 740.1,803.8 740.1,803.5 738.1,803.5 738.1,803.2 736.1,803.2 736.1,802.9 734.1,802.9 734.1,802.6 732.1,802.6 732.1,802.3 730.1,802.3 730.1,802.0 728.1,802.0 728.1,801.7 726.1,801.7 726.1,801.4 724.1,801.4 724.1,801.2 722.1,801.2 722.1,801.0 720.1,801.0 720.1,800.8 718.1,800.8 718.1,800.6 716.1,800.6 716.1,800.4 714.1,800.4 714.1,800.2 712.1,800.2 712.1,800.0 710.1,800.0 710.1,799.8 708.1,799.8 708.1,799.6 706.1,799.6 706.1,799.4 704.1,799.4 704.1,799.2 702.1,799.2 702.1,799.0 700.1,799.0 700.1,798.8 698.1,798.8 698.1,797.5 696.1,797.5 696.1,795.9 694.1,795.9 694.1,794.3 692.1,794.3 692.1,792.7 690.1,792.7 690.1,791.1 688.1,791.1 688.1,789.5 686.1,789.5 686.1,788.0 684.1,788.0 684.1,786.8 682.1,786.8 682.1,785.6 680.1,785.6 680.1,784.4 678.1,784.4 678.1,783.2 676.1,783.2 676.1,782.0 674.1,782.0 674.1,780.8 672.1,780.8 672.1,780.2 670.1,780.2 670.1,784.3 668.1,784.3 668.1,779.1 666.1,779.1 666.1,784.6 664.1,784.6 664.1,785.6 662.1,785.6 662.1,777.5 660.1,777.5 660.1,777.3 658.1,777.3 658.1,785.4 656.1,785.4 656.1,777.5 654.1,777.5 654.1,777.6 652.1,777.6 652.1,785.9 650.1,785.9 650.1,785.2 648.1,785.2 648.1,787.3 646.1,787.3 646.1,783.9 644.1,783.9 644.1,778.0 642.1,778.0 642.1,782.6 640.1,782.6 640.1,778.1 638.1,778.1 638.1,778.1 636.1,778.1 636.1,778.1 634.1,778.1 634.1,778.3 632.1,778.3 632.1,778.7 630.1,778.7 630.1,784.4 628.1,784.4 628.1,779.6 626.1,779.6 626.1,780.0 624.1,780.0 624.1,780.4 622.1,780.4 622.1,780.7 620.1,780.7 620.1,780.7 618.1,780.7 618.1,785.6 616.1,785.6 616.1,780.7 614.1,780.7 614.1,780.7 612.1,780.7 612.1,780.7 610.1,780.7 610.1,780.7 608.1,780.7 608.1,780.7 606.1,780.7 606.1,785.2 604.1,785.2 604.1,780.3 602.1,780.3 602.1,780.1 600.1,780.1 600.1,779.9 598.1,779.9 598.1,779.7 596.1,779.7 596.1,779.5 594.1,779.5 594.1,778.7 592.1,778.7 592.1,777.6 590.1,777.6 590.1,776.4 588.1,776.4 588.1,770.4 586.1,770.4 586.1,769.7 584.1,769.7 584.1,769.4 582.1,769.4 582.1,769.0 580.1,769.0 580.1,768.2 578.1,768.2 578.1,773.5 576.1,773.5 576.1,766.6 574.1,766.6 574.1,765.8 572.1,765.8 572.1,765.0 570.1,765.0 570.1,764.2 568.1,764.2 568.1,763.4 566.1,763.4 566.1,762.6 564.1,762.6 564.1,766.3 562.1,766.3 562.1,761.0 560.1,761.0 560.1,760.2 558.1,760.2 558.1,759.5 556.1,759.5 556.1,758.7 554.1,758.7 554.1,757.9 552.1,757.9 552.1,757.1 550.1,757.1 550.1,756.3 548.1,756.3 548.1,755.5 546.1,755.5 546.1,759.0 544.1,759.0 544.1,753.9 542.1,753.9 542.1,757.4 540.1,757.4 540.1,752.2 538.1,752.2 538.1,751.4 536.1,751.4 536.1,750.6 534.1,750.6 534.1,749.8 532.1,749.8 532.1,749.0 530.1,749.0 530.1,748.4 528.1,748.4 528.1,748.0 526.1,748.0 526.1,747.6 524.1,747.6 524.1,747.2 522.1,747.2 522.1,746.8 520.1,746.8 520.1,746.4 518.1,746.4 518.1,746.0 516.1,746.0 516.1,746.0 514.1,746.0 514.1,746.0 512.1,746.0 512.1,752.5 510.1,752.5 510.1,746.0 508.1,746.0 508.1,746.0 506.1,746.0 506.1,746.0 504.1,746.0 504.1,746.1 502.1,746.1 502.1,746.3 500.1,746.3 500.1,746.5 498.1,746.5 498.1,746.7 496.1,746.7 496.1,746.9 494.1,746.9 494.1,751.4 492.1,751.4 492.1,747.3 490.1,747.3 490.1,747.5 488.1,747.5 488.1,747.7 486.1,747.7 486.1,747.9 484.1,747.9 484.1,748.1 482.1,748.1 482.1,748.3 480.1,748.3 480.1,748.5 478.1,748.5 478.1,748.8 476.1,748.8 476.1,749.1 474.1,749.1 474.1,749.4 472.1,749.4 472.1,749.7 470.1,749.7 470.1,750.0 468.1,750.0 468.1,750.3 466.1,750.3 466.1,750.6 464.1,750.6 464.1,750.9 462.1,750.9 462.1,751.2 460.1,751.2 460.1,751.5 458.1,751.5 458.1,751.8 456.1,751.8 456.1,752.1 454.1,752.1 454.1,752.4 452.1,752.4 452.1,752.4 450.1,752.4 450.1,752.4 448.1,752.4 448.1,752.4 446.1,752.4 446.1,752.4 444.1,752.4 444.1,752.4 442.1,752.4 442.1,752.4 440.1,752.4 440.1,752.2 438.1,752.2 438.1,751.8 436.1,751.8 436.1,751.5 434.1,751.5 434.1,751.1 432.1,751.1 432.1,750.7 430.1,750.7 430.1,750.3 428.1,750.3 428.1,749.9 426.1,749.9 426.1,754.4 424.1,754.4 424.1,749.7 422.1,749.7 422.1,749.6 420.1,749.6 420.1,749.5 418.1,749.5 418.1,749.4 416.1,749.4 416.1,749.3 414.1,749.3 414.1,749.2 412.1,749.2 412.1,749.1 410.1,749.1 410.1,749.0 408.1,749.0 408.1,748.9 406.1,748.9 406.1,748.8 404.1,748.8 404.1,748.7 402.1,748.7 402.1,748.6 400.1,748.6 400.1,748.6 398.1,748.6 398.1,748.6 396.1,748.6 396.1,753.6 394.1,753.6 394.1,748.6 392.1,748.6 392.1,748.6 390.1,748.6 390.1,757.1 388.1,757.1 388.1,753.6 386.1,753.6 386.1,755.3 384.1,755.3 384.1,748.6 382.1,748.6 382.1,753.4 380.1,753.4 380.1,759.1 378.1,759.1 378.1,758.7 376.1,758.7 376.1,748.9 374.1,748.9 374.1,754.6 372.1,754.6 372.1,756.0 370.1,756.0 370.1,751.5 368.1,751.5 368.1,760.1 366.1,760.1 366.1,753.2 364.1,753.2 364.1,761.8 362.1,761.8 362.1,770.0 360.1,770.0 360.1,769.0 358.1,769.0 358.1,767.9 356.1,767.9 356.1,767.8 354.1,767.8 354.1,767.7 352.1,767.7 352.1,767.6 350.1,767.6 350.1,767.5 348.1,767.5 348.1,767.4 346.1,767.4 346.1,767.3 344.1,767.3 344.1,767.2 342.1,767.2 342.1,767.1 340.1,767.1 340.1,767.0 338.1,767.0 338.1,766.9 336.1,766.9 336.1,766.8 334.1,766.8 334.1,766.7 332.1,766.7 332.1,766.6 330.1,766.6 330.1,771.7 328.1,771.7 328.1,766.8 326.1,766.8 326.1,766.9 324.1,766.9 324.1,767.0 322.1,767.0 322.1,767.1 320.1,767.1 320.1,767.2 318.1,767.2 318.1,767.3 316.1,767.3 316.1,767.4 314.1,767.4 314.1,767.5 312.1,767.5 312.1,767.6 310.1,767.6 310.1,767.7 308.1,767.7 308.1,767.8 306.1,767.8 306.1,768.0 304.1,768.0 304.1,768.4 302.1,768.4 302.1,768.7 300.1,768.7 300.1,769.1 298.1,769.1 298.1,769.4 296.1,769.4 296.1,769.8 294.1,769.8 294.1,770.2 292.1,770.2 292.1,770.5 290.1,770.5 290.1,770.9 288.1,770.9 288.1,771.2 286.1,771.2 286.1,771.6 284.1,771.6 284.1,777.8 282.1,777.8 282.1,772.3 280.1,772.3 280.1,772.5 278.1,772.5 278.1,772.6 276.1,772.6 276.1,772.6 274.1,772.6 274.1,772.6 272.1,772.6 272.1,772.7 270.1,772.7 270.1,772.7 268.1,772.7 268.1,772.8 266.1,772.8 266.1,772.8 264.1,772.8 264.1,772.8 262.1,772.8 262.1,772.9 260.1,772.9 260.1,772.9 258.1,772.9 258.1,772.9 256.1,772.9 256.1,773.0 254.1,773.0 254.1,772.9 252.1,772.9 252.1,772.8 250.1,772.8 250.1,772.7 248.1,772.7 248.1,772.6 246.1,772.6 246.1,777.1 244.1,777.1 244.1,772.4 242.1,772.4 242.1,772.3 240.1,772.3 240.1,772.2 238.1,772.2 238.1,772.1 236.1,772.1 236.1,772.0 234.1,772.0 234.1,771.9 232.1,771.9 232.1,771.8 230.1,771.8 230.1,771.7 228.1,771.7 228.1,771.0 226.1,771.0 226.1,770.0 224.1,770.0 224.1,769.0 222.1,769.0 222.1,768.0 220.1,768.0 220.1,767.0 218.1,767.0 218.1,766.0 216.1,766.0 216.1,765.0 214.1,765.0 214.1,764.0 212.1,764.0 212.1,763.0 210.1,763.0 210.1,762.0 208.1,762.0 208.1,761.0 206.1,761.0 206.1,760.0 204.1,760.0 204.1,759.0 202.1,759.0 202.1,757.9 200.1,757.9 200.1,756.7 198.1,756.7 198.1,755.6 196.1,755.6 196.1,754.4 194.1,754.4 194.1,753.3 192.1,753.3 192.1,752.1 190.1,752.1 190.1,751.0 188.1,751.0 188.1,749.9 186.1,749.9 186.1,748.7 184.1,748.7 184.1,748.9 182.1,748.9 182.1,749.2 180.1,749.2 180.1,749.6 178.1,749.6 178.1,749.9 176.1,749.9 176.1,752.9 174.1,752.9 174.1,755.9 172.1,755.9 172.1,758.3 170.1,758.3 170.1,759.8 168.1,759.8 168.1,761.3 166.1,761.3 166.1,759.6 164.1,759.6 164.1,757.6 162.1,757.6 162.1,755.7 160.1,755.7 160.1,753.7 158.1,753.7 158.1,751.7 156.1,751.7 156.1,749.7 154.1,749.7 154.1,747.7 152.1,747.7 152.1,745.6 150.1,745.6 150.1,742.8 148.1,742.8 148.1,740.0 146.1,740.0 146.1,737.1 144.1,737.1 144.1,734.3 142.1,734.3 142.1,731.5 140.1,731.5 140.1,728.7 138.1,728.7 138.1,731.2 136.1,731.2 136.1,724.6 134.1,724.6 134.1,722.6 132.1,722.6 132.1,723.0 130.1,723.0 130.1,725.8 128.1,725.8 128.1,728.6 126.1,728.6 126.1,729.9 124.1,729.9 124.1,731.9 122.1,731.9 122.1,725.3 120.1,725.3 120.1,727.5 118.1,727.5 118.1,721.3 116.1,721.3 116.1,719.6 114.1,719.6 114.1,722.5 112.1,722.5 112.1,717.8 110.1,717.8 110.1,718.0 108.1,718.0 108.1,723.2 106.1,723.2" fill="#BFBFBF"/>
<polygon points="103.9,697.7 104.9,697.7 104.9,696.3 105.9,696.3 105.9,693.0 106.9,693.0 106.9,690.7 107.9,690.7 107.9,688.4 108.9,688.4 108.9,686.8 109.9,686.8 109.9,686.4 110.9,686.4 110.9,686.0 111.9,686.0 111.9,686.6 112.9,686.6 112.9,686.5 113.9,686.5 113.9,686.7 114.9,686.7 114.9,687.8 115.9,687.8 115.9,688.0 116.9,688.0 116.9,688.2 117.9,688.2 117.9,688.5 118.9,688.5 118.9,688.8 119.9,688.8 119.9,688.5 120.9,688.5 120.9,689.1 121.9,689.1 121.9,689.6 122.9,689.6 122.9,691.8 123.9,691.8 123.9,692.3 124.9,692.3 124.9,692.9 125.9,692.9 125.9,694.0 126.9,694.0 126.9,695.4 127.9,695.4 127.9,696.8 128.9,696.8 128.9,698.0 129.9,698.0 129.9,699.4 130.9,699.4 130.9,700.8 131.9,700.8 131.9,701.5 132.9,701.5 132.9,702.9 133.9,702.9 133.9,704.3 134.9,704.3 134.9,705.7 135.9,705.7 135.9,707.5 136.9,707.5 136.9,708.8 137.9,708.8 137.9,710.2 138.9,710.2 138.9,710.4 139.9,710.4 139.9,709.8 140.9,709.8 140.9,708.6 141.9,708.6 141.9,708.0 142.9,708.0 142.9,707.4 143.9,707.4 143.9,707.1 144.9,707.1 144.9,707.0 145.9,707.0 145.9,707.6 146.9,707.6 146.9,707.4 147.9,707.4 147.9,708.0 148.9,708.0 148.9,708.6 149.9,708.6 149.9,709.2 150.9,709.2 150.9,709.7 151.9,709.7 151.9,709.3 152.9,709.3 152.9,710.8 153.9,710.8 153.9,710.3 154.9,710.3 154.9,709.8 155.9,709.8 155.9,709.3 156.9,709.3 156.9,708.8 157.9,708.8 157.9,708.3 158.9,708.3 158.9,707.4 159.9,707.4 159.9,708.2 160.9,708.2 160.9,709.1 161.9,709.1 161.9,709.9 162.9,709.9 162.9,710.7 163.9,710.7 163.9,711.5 164.9,711.5 164.9,711.9 165.9,711.9 165.9,712.7 166.9,712.7 166.9,711.9 167.9,711.9 167.9,713.1 168.9,713.1 168.9,714.4 169.9,714.4 169.9,715.6 170.9,715.6 170.9,720.3 171.9,720.3 171.9,721.9 172.9,721.9 172.9,724.2 173.9,724.2 173.9,726.5 174.9,726.5 174.9,728.7 175.9,728.7 175.9,731.0 176.9,731.0 176.9,730.3 177.9,730.3 177.9,731.5 178.9,731.5 178.9,733.7 179.9,733.7 179.9,734.9 180.9,734.9 180.9,736.0 181.9,736.0 181.9,737.2 182.9,737.2 182.9,738.3 183.9,738.3 183.9,739.5 184.9,739.5 184.9,740.4 185.9,740.4 185.9,740.4 186.9,740.4 186.9,740.4 187.9,740.4 187.9,740.4 188.9,740.4 188.9,740.4 189.9,740.4 189.9,739.0 190.9,739.0 190.9,739.0 191.9,739.0 191.9,739.0 192.9,739.0 192.9,739.0 193.9,739.0 193.9,741.0 194.9,741.0 194.9,741.0 195.9,741.0 195.9,741.0 196.9,741.0 196.9,741.0 197.9,741.0 197.9,741.0 198.9,741.0 198.9,738.9 199.9,738.9 199.9,738.9 200.9,738.9 200.9,738.9 201.9,738.9 201.9,738.9 202.9,738.9 202.9,739.8 203.9,739.8 203.9,739.8 204.9,739.8 204.9,739.9 205.9,739.9 205.9,741.9 206.9,741.9 206.9,741.9 207.9,741.9 207.9,742.0 208.9,742.0 208.9,741.3 209.9,741.3 209.9,741.4 210.9,741.4 210.9,741.5 211.9,741.5 211.9,741.5 212.9,741.5 212.9,740.0 213.9,740.0 213.9,740.0 214.9,740.0 214.9,740.1 215.9,740.1 215.9,741.5 216.9,741.5 216.9,741.5 217.9,741.5 217.9,741.3 218.9,741.3 218.9,741.3 219.9,741.3 219.9,741.4 220.9,741.4 220.9,741.4 221.9,741.4 221.9,741.5 222.9,741.5 222.9,741.5 223.9,741.5 223.9,741.6 224.9,741.6 224.9,741.6 225.9,741.6 225.9,741.3 226.9,741.3 226.9,741.4 227.9,741.4 227.9,741.4 228.9,741.4 228.9,741.5 229.9,741.5 229.9,741.6 230.9,741.6 230.9,741.7 231.9,741.7 231.9,741.8 232.9,741.8 232.9,741.1 233.9,741.1 233.9,741.2 234.9,741.2 234.9,741.3 235.9,741.3 235.9,741.4 236.9,741.4 236.9,741.4 237.9,741.4 237.9,741.4 238.9,741.4 238.9,741.0 239.9,741.0 239.9,741.0 240.9,741.0 240.9,741.1 241.9,741.1 241.9,741.2 242.9,741.2 242.9,742.3 243.9,742.3 243.9,742.3 244.9,742.3 244.9,742.4 245.9,742.4 245.9,742.5 246.9,742.5 246.9,742.7 247.9,742.7 247.9,742.7 248.9,742.7 248.9,742.8 249.9,742.8 249.9,742.9 250.9,742.9 250.9,742.9 251.9,742.9 251.9,742.9 252.9,742.9 252.9,742.9 253.9,742.9 253.9,743.0 254.9,743.0 254.9,743.0 255.9,743.0 255.9,743.7 256.9,743.7 256.9,743.7 257.9,743.7 257.9,744.5 258.9,744.5 258.9,744.5 259.9,744.5 259.9,744.5 260.9,744.5 260.9,741.9 261.9,741.9 261.9,741.8 262.9,741.8 262.9,741.8 263.9,741.8 263.9,741.8 264.9,741.8 264.9,743.9 265.9,743.9 265.9,743.8 266.9,743.8 266.9,743.8 267.9,743.8 267.9,742.8 268.9,742.8 268.9,742.7 269.9,742.7 269.9,742.7 270.9,742.7 270.9,742.3 271.9,742.3 271.9,742.2 272.9,742.2 272.9,742.2 273.9,742.2 273.9,742.2 274.9,742.2 274.9,743.8 275.9,743.8 275.9,743.7 276.9,743.7 276.9,743.7 277.9,743.7 277.9,743.7 278.9,743.7 278.9,743.7 279.9,743.7 279.9,743.6 280.9,743.6 280.9,742.9 281.9,742.9 281.9,742.8 282.9,742.8 282.9,742.7 283.9,742.7 283.9,742.6 284.9,742.6 284.9,741.4 285.9,741.4 285.9,741.3 286.9,741.3 286.9,741.2 287.9,741.2 287.9,741.1 288.9,741.1 288.9,741.1 289.9,741.1 289.9,741.0 290.9,741.0 290.9,741.3 291.9,741.3 291.9,741.2 292.9,741.2 292.9,741.1 293.9,741.1 293.9,741.1 294.9,741.1 294.9,741.0 295.9,741.0 295.9,740.9 296.9,740.9 296.9,740.8 297.9,740.8 297.9,741.5 298.9,741.5 298.9,741.5 299.9,741.5 299.9,741.4 300.9,741.4 300.9,741.3 301.9,741.3 301.9,741.2 302.9,741.2 302.9,739.8 303.9,739.8 303.9,739.7 304.9,739.7 304.9,739.7 305.9,739.7 305.9,739.6 306.9,739.6 306.9,739.6 307.9,739.6 307.9,740.4 308.9,740.4 308.9,740.4 309.9,740.4 309.9,740.4 310.9,740.4 310.9,740.4 311.9,740.4 311.9,739.7 312.9,739.7 312.9,739.7 313.9,739.7 313.9,739.7 314.9,739.7 314.9,740.6 315.9,740.6 315.9,740.6 316.9,740.6 316.9,740.6 317.9,740.6 317.9,740.5 318.9,740.5 318.9,740.5 319.9,740.5 319.9,740.5 320.9,740.5 320.9,739.0 321.9,739.0 321.9,739.0 322.9,739.0 322.9,739.0 323.9,739.0 323.9,739.0 324.9,739.0 324.9,739.3 325.9,739.3 325.9,739.2 326.9,739.2 326.9,740.3 327.9,740.3 327.9,740.3 328.9,740.3 328.9,740.3 329.9,740.3 329.9,740.4 330.9,740.4 330.9,740.4 331.9,740.4 331.9,740.4 332.9,740.4 332.9,740.3 333.9,740.3 333.9,739.6 334.9,739.6 334.9,739.6 335.9,739.6 335.9,739.6 336.9,739.6 336.9,739.6 337.9,739.6 337.9,739.5 338.9,739.5 338.9,740.2 339.9,740.2 339.9,740.2 340.9,740.2 340.9,740.1 341.9,740.1 341.9,738.9 342.9,738.9 342.9,738.9 343.9,738.9 343.9,738.8 344.9,738.8 344.9,738.8 345.9,738.8 345.9,739.7 346.9,739.7 346.9,739.7 347.9,739.7 347.9,739.6 348.9,739.6 348.9,739.6 349.9,739.6 349.9,739.6 350.9,739.6 350.9,738.8 351.9,738.8 351.9,738.7 352.9,738.7 352.9,738.7 353.9,738.7 353.9,738.7 354.9,738.7 354.9,740.3 355.9,740.3 355.9,740.3 356.9,740.3 356.9,740.2 357.9,740.2 357.9,740.0 358.9,740.0 358.9,738.2 359.9,738.2 359.9,737.9 360.9,737.9 360.9,739.0 361.9,739.0 361.9,742.0 362.9,742.0 362.9,742.4 363.9,742.4 363.9,742.5 364.9,742.5 364.9,742.4 365.9,742.4 365.9,742.3 366.9,742.3 366.9,742.7 367.9,742.7 367.9,742.6 368.9,742.6 368.9,742.5 369.9,742.5 369.9,742.4 370.9,742.4 370.9,742.3 371.9,742.3 371.9,742.2 372.9,742.2 372.9,742.1 373.9,742.1 373.9,741.9 374.9,741.9 374.9,741.8 375.9,741.8 375.9,741.6 376.9,741.6 376.9,741.3 377.9,741.3 377.9,739.4 378.9,739.4 378.9,739.1 379.9,739.1 379.9,738.8 380.9,738.8 380.9,738.5 381.9,738.5 381.9,738.2 382.9,738.2 382.9,737.9 383.9,737.9 383.9,739.5 384.9,739.5 384.9,739.2 385.9,739.2 385.9,738.9 386.9,738.9 386.9,738.6 387.9,738.6 387.9,737.8 388.9,737.8 388.9,737.5 389.9,737.5 389.9,737.2 390.9,737.2 390.9,736.9 391.9,736.9 391.9,736.6 392.9,736.6 392.9,736.3 393.9,736.3 393.9,735.9 394.9,735.9 394.9,735.6 395.9,735.6 395.9,734.1 396.9,734.1 396.9,733.8 397.9,733.8 397.9,733.5 398.9,733.5 398.9,733.2 399.9,733.2 399.9,732.9 400.9,732.9 400.9,734.4 401.9,734.4 401.9,734.2 402.9,734.2 402.9,733.9 403.9,733.9 403.9,733.4 404.9,733.4 404.9,733.1 405.9,733.1 405.9,732.9 406.9,732.9 406.9,733.1 407.9,733.1 407.9,732.9 408.9,732.9 408.9,732.6 409.9,732.6 409.9,731.6 410.9,731.6 410.9,731.4 411.9,731.4 411.9,731.1 412.9,731.1 412.9,730.9 413.9,730.9 413.9,730.6 414.9,730.6 414.9,729.8 415.9,729.8 415.9,729.6 416.9,729.6 416.9,729.3 417.9,729.3 417.9,729.3 418.9,729.3 418.9,729.1 419.9,729.1 419.9,728.8 420.9,728.8 420.9,727.7 421.9,727.7 421.9,727.4 422.9,727.4 422.9,727.2 423.9,727.2 423.9,728.3 424.9,728.3 424.9,728.0 425.9,728.0 425.9,727.8 426.9,727.8 426.9,727.6 427.9,727.6 427.9,727.5 428.9,727.5 428.9,727.5 429.9,727.5 429.9,727.4 430.9,727.4 430.9,727.3 431.9,727.3 431.9,727.2 432.9,727.2 432.9,727.2 433.9,727.2 433.9,725.2 434.9,725.2 434.9,725.1 435.9,725.1 435.9,725.1 436.9,725.1 436.9,725.0 437.9,725.0 437.9,724.9 438.9,724.9 438.9,727.8 439.9,727.8 439.9,727.7 440.9,727.7 440.9,727.7 441.9,727.7 441.9,727.7 442.9,727.7 442.9,727.7 443.9,727.7 443.9,726.2 444.9,726.2 444.9,726.2 445.9,726.2 445.9,726.2 446.9,726.2 446.9,726.2 447.9,726.2 447.9,726.2 448.9,726.2 448.9,726.2 449.9,726.2 449.9,725.1 450.9,725.1 450.9,725.1 451.9,725.1 451.9,726.1 452.9,726.1 452.9,726.2 453.9,726.2 453.9,725.4 454.9,725.4 454.9,725.6 455.9,725.6 455.9,725.8 456.9,725.8 456.9,726.0 457.9,726.0 457.9,726.2 458.9,726.2 458.9,726.4 459.9,726.4 459.9,727.5 460.9,727.5 460.9,727.7 461.9,727.7 461.9,727.9 462.9,727.9 462.9,728.3 463.9,728.3 463.9,728.5 464.9,728.5 464.9,728.7 465.9,728.7 465.9,727.8 466.9,727.8 466.9,728.0 467.9,728.0 467.9,728.2 468.9,728.2 468.9,728.4 469.9,728.4 469.9,728.7 470.9,728.7 470.9,728.9 471.9,728.9 471.9,729.1 472.9,729.1 472.9,729.3 473.9,729.3 473.9,729.9 474.9,729.9 474.9,730.1 475.9,730.1 475.9,730.3 476.9,730.3 476.9,730.5 477.9,730.5 477.9,730.7 478.9,730.7 478.9,731.0 479.9,731.0 479.9,731.3 480.9,731.3 480.9,731.6 481.9,731.6 481.9,732.3 482.9,732.3 482.9,732.6 483.9,732.6 483.9,732.9 484.9,732.9 484.9,733.2 485.9,733.2 485.9,733.5 486.9,733.5 486.9,734.8 487.9,734.8 487.9,735.1 488.9,735.1 488.9,735.4 489.9,735.4 489.9,735.7 490.9,735.7 490.9,736.0 491.9,736.0 491.9,734.3 492.9,734.3 492.9,734.6 493.9,734.6 493.9,734.9 494.9,734.9 494.9,735.2 495.9,735.2 495.9,735.5 496.9,735.5 496.9,735.8 497.9,735.8 497.9,736.9 498.9,736.9 498.9,737.2 499.9,737.2 499.9,737.5 500.9,737.5 500.9,737.8 501.9,737.8 501.9,737.7 502.9,737.7 502.9,738.0 503.9,738.0 503.9,738.3 504.9,738.3 504.9,738.5 505.9,738.5 505.9,738.7 506.9,738.7 506.9,738.9 507.9,738.9 507.9,739.5 508.9,739.5 508.9,739.7 509.9,739.7 509.9,740.0 510.9,740.0 510.9,740.2 511.9,740.2 511.9,740.4 512.9,740.4 512.9,740.6 513.9,740.6 513.9,741.0 514.9,741.0 514.9,741.2 515.9,741.2 515.9,741.4 516.9,741.4 516.9,741.6 517.9,741.6 517.9,741.6 518.9,741.6 518.9,741.5 519.9,741.5 519.9,741.5 520.9,741.5 520.9,741.5 521.9,741.5 521.9,741.5 522.9,741.5 522.9,741.1 523.9,741.1 523.9,741.1 524.9,741.1 524.9,741.1 525.9,741.1 525.9,741.1 526.9,741.1 526.9,741.1 527.9,741.1 527.9,741.1 528.9,741.1 528.9,742.0 529.9,742.0 529.9,742.0 530.9,742.0 530.9,741.9 531.9,741.9 531.9,741.9 532.9,741.9 532.9,741.8 533.9,741.8 533.9,741.7 534.9,741.7 534.9,741.7 535.9,741.7 535.9,741.6 536.9,741.6 536.9,741.6 537.9,741.6 537.9,740.6 538.9,740.6 538.9,740.5 539.9,740.5 539.9,740.5 540.9,740.5 540.9,741.4 541.9,741.4 541.9,741.4 542.9,741.4 542.9,741.3 543.9,741.3 543.9,741.3 544.9,741.3 544.9,740.4 545.9,740.4 545.9,740.4 546.9,740.4 546.9,740.3 547.9,740.3 547.9,740.3 548.9,740.3 548.9,738.8 549.9,738.8 549.9,738.8 550.9,738.8 550.9,738.7 551.9,738.7 551.9,739.6 552.9,739.6 552.9,739.5 553.9,739.5 553.9,739.5 554.9,739.5 554.9,739.4 555.9,739.4 555.9,739.5 556.9,739.5 556.9,739.5 557.9,739.5 557.9,739.2 558.9,739.2 558.9,739.2 559.9,739.2 559.9,739.3 560.9,739.3 560.9,739.7 561.9,739.7 561.9,739.7 562.9,739.7 562.9,739.8 563.9,739.8 563.9,740.1 564.9,740.1 564.9,740.2 565.9,740.2 565.9,740.2 566.9,740.2 566.9,740.3 567.9,740.3 567.9,740.3 568.9,740.3 568.9,740.1 569.9,740.1 569.9,740.1 570.9,740.1 570.9,741.9 571.9,741.9 571.9,741.9 572.9,741.9 572.9,741.6 573.9,741.6 573.9,741.6 574.9,741.6 574.9,741.7 575.9,741.7 575.9,741.7 576.9,741.7 576.9,741.8 577.9,741.8 577.9,740.7 578.9,740.7 578.9,740.8 579.9,740.8 579.9,740.8 580.9,740.8 580.9,740.9 581.9,740.9 581.9,740.9 582.9,740.9 582.9,740.2 583.9,740.2 583.9,740.2 584.9,740.2 584.9,740.9 585.9,740.9 585.9,740.9 586.9,740.9 586.9,740.9 587.9,740.9 587.9,740.9 588.9,740.9 588.9,742.1 589.9,742.1 589.9,743.2 590.9,743.2 590.9,744.3 591.9,744.3 591.9,745.1 592.9,745.1 592.9,746.2 593.9,746.2 593.9,748.9 594.9,748.9 594.9,749.3 595.9,749.3 595.9,749.8 596.9,749.8 596.9,750.2 597.9,750.2 597.9,750.6 598.9,750.6 598.9,751.0 599.9,751.0 599.9,750.0 600.9,750.0 600.9,750.5 601.9,750.5 601.9,750.9 602.9,750.9 602.9,751.3 603.9,751.3 603.9,751.5 604.9,751.5 604.9,751.9 605.9,751.9 605.9,752.3 606.9,752.3 606.9,752.6 607.9,752.6 607.9,752.8 608.9,752.8 608.9,755.3 609.9,755.3 609.9,755.4 610.9,755.4 610.9,755.6 611.9,755.6 611.9,755.8 612.9,755.8 612.9,756.0 613.9,756.0 613.9,756.1 614.9,756.1 614.9,754.8 615.9,754.8 615.9,754.9 616.9,754.9 616.9,755.1 617.9,755.1 617.9,755.3 618.9,755.3 618.9,755.5 619.9,755.5 619.9,755.6 620.9,755.6 620.9,755.9 621.9,755.9 621.9,756.5 622.9,756.5 622.9,756.4 623.9,756.4 623.9,757.0 624.9,757.0 624.9,757.6 625.9,757.6 625.9,758.2 626.9,758.2 626.9,759.1 627.9,759.1 627.9,759.7 628.9,759.7 628.9,760.3 629.9,760.3 629.9,760.9 630.9,760.9 630.9,761.5 631.9,761.5 631.9,762.1 632.9,762.1 632.9,761.9 633.9,761.9 633.9,762.4 634.9,762.4 634.9,762.8 635.9,762.8 635.9,763.2 636.9,763.2 636.9,763.5 637.9,763.5 637.9,763.9 638.9,763.9 638.9,764.3 639.9,764.3 639.9,764.7 640.9,764.7 640.9,765.1 641.9,765.1 641.9,765.4 642.9,765.4 642.9,766.7 643.9,766.7 643.9,767.0 644.9,767.0 644.9,765.5 645.9,765.5 645.9,765.9 646.9,765.9 646.9,766.2 647.9,766.2 647.9,766.3 648.9,766.3 648.9,766.5 649.9,766.5 649.9,766.6 650.9,766.6 650.9,769.4 651.9,769.4 651.9,769.6 652.9,769.6 652.9,768.2 653.9,768.2 653.9,768.4 654.9,768.4 654.9,768.6 655.9,768.6 655.9,768.7 656.9,768.7 656.9,768.2 657.9,768.2 657.9,768.4 658.9,768.4 658.9,768.5 659.9,768.5 659.9,770.5 660.9,770.5 660.9,770.5 661.9,770.5 661.9,770.6 662.9,770.6 662.9,770.7 663.9,770.7 663.9,770.8 664.9,770.8 664.9,769.3 665.9,769.3 665.9,769.3 666.9,769.3 666.9,770.2 667.9,770.2 667.9,770.2 668.9,770.2 668.9,770.3 669.9,770.3 669.9,770.4 670.9,770.4 670.9,770.5 671.9,770.5 671.9,770.6 672.9,770.6 672.9,770.3 673.9,770.3 673.9,770.1 674.9,770.1 674.9,769.4 675.9,769.4 675.9,769.2 676.9,769.2 676.9,769.0 677.9,769.0 677.9,768.8 678.9,768.8 678.9,768.6 679.9,768.6 679.9,768.4 680.9,768.4 680.9,769.3 681.9,769.3 681.9,769.1 682.9,769.1 682.9,768.9 683.9,768.9 683.9,768.7 684.9,768.7 684.9,769.6 685.9,769.6 685.9,769.4 686.9,769.4 686.9,769.2 687.9,769.2 687.9,769.0 688.9,769.0 688.9,768.8 689.9,768.8 689.9,768.6 690.9,768.6 690.9,765.9 691.9,765.9 691.9,765.7 692.9,765.7 692.9,765.5 693.9,765.5 693.9,766.3 694.9,766.3 694.9,766.1 695.9,766.1 695.9,765.9 696.9,765.9 696.9,765.7 697.9,765.7 697.9,766.0 698.9,766.0 698.9,766.0 699.9,766.0 699.9,766.1 700.9,766.1 700.9,766.2 701.9,766.2 701.9,766.3 702.9,766.3 702.9,766.4 703.9,766.4 703.9,767.1 704.9,767.1 704.9,767.2 705.9,767.2 705.9,765.8 706.9,765.8 706.9,765.9 707.9,765.9 707.9,766.6 708.9,766.6 708.9,766.7 709.9,766.7 709.9,767.2 710.9,767.2 710.9,767.3 711.9,767.3 711.9,767.4 712.9,767.4 712.9,766.8 713.9,766.8 713.9,766.9 714.9,766.9 714.9,767.0 715.9,767.0 715.9,768.2 716.9,768.2 716.9,768.3 717.9,768.3 717.9,768.4 718.9,768.4 718.9,768.5 719.9,768.5 719.9,768.6 720.9,768.6 720.9,768.7 721.9,768.7 721.9,768.8 722.9,768.8 722.9,768.0 723.9,768.0 723.9,768.2 724.9,768.2 724.9,768.3 725.9,768.3 725.9,768.4 726.9,768.4 726.9,770.0 727.9,770.0 727.9,770.2 728.9,770.2 728.9,770.3 729.9,770.3 729.9,770.5 730.9,770.5 730.9,770.6 731.9,770.6 731.9,769.0 732.9,769.0 732.9,769.2 733.9,769.2 733.9,769.3 734.9,769.3 734.9,769.5 735.9,769.5 735.9,769.6 736.9,769.6 736.9,769.8 737.9,769.8 737.9,769.8 738.9,769.8 738.9,770.0 739.9,770.0 739.9,770.1 740.9,770.1 740.9,770.3 741.9,770.3 741.9,770.3 742.9,770.3 742.9,770.4 743.9,770.4 743.9,770.6 744.9,770.6 744.9,770.7 745.9,770.7 745.9,770.9 746.9,770.9 746.9,771.3 747.9,771.3 747.9,771.4 748.9,771.4 748.9,771.6 749.9,771.6 749.9,771.7 750.9,771.7 750.9,771.7 751.9,771.7 751.9,771.7 752.9,771.7 752.9,771.7 753.9,771.7 753.9,771.7 754.9,771.7 754.9,771.7 755.9,771.7 755.9,771.7 756.9,771.7 756.9,772.6 757.9,772.6 757.9,772.6 758.9,772.6 758.9,772.1 759.9,772.1 759.9,772.1 760.9,772.1 760.9,772.1 761.9,772.1 761.9,772.1 762.9,772.1 762.9,772.1 763.9,772.1 763.9,772.1 764.9,772.1 764.9,773.2 765.9,773.2 765.9,773.2 766.9,773.2 766.9,773.2 767.9,773.2 767.9,772.2 768.9,772.2 768.9,772.2 769.9,772.2 769.9,772.2 770.9,772.2 770.9,772.1 771.9,772.1 771.9,772.1 772.9,772.1 772.9,772.5 773.9,772.5 773.9,772.5 774.9,772.5 774.9,772.5 775.9,772.5 775.9,772.6 776.9,772.6 776.9,772.7 777.9,772.7 777.9,771.7 778.9,771.7 778.9,771.8 779.9,771.8 779.9,771.9 780.9,771.9 780.9,772.0 781.9,772.0 781.9,772.1 782.9,772.1 782.9,774.1 783.9,774.1 783.9,774.2 784.9,774.2 784.9,774.3 785.9,774.3 785.9,774.4 786.9,774.4 786.9,774.5 787.9,774.5 787.9,774.3 788.9,774.3 788.9,774.4 789.9,774.4 789.9,774.5 790.9,774.5 790.9,774.6 791.9,774.6 791.9,774.7 792.9,774.7 792.9,774.8 793.9,774.8 793.9,772.7 794.9,772.7 794.9,772.8 795.9,772.8 795.9,772.9 796.9,772.9 796.9,773.0 797.9,773.0 797.9,774.0 798.9,774.0 798.9,774.1 799.9,774.1 799.9,774.2 800.9,774.2 800.9,775.3 801.9,775.3 801.9,775.3 802.9,775.3 802.9,775.3 803.9,775.3 803.9,775.3 804.9,775.3 804.9,774.5 805.9,774.5 805.9,774.5 806.9,774.5 806.9,774.5 807.9,774.5 807.9,774.5 808.9,774.5 808.9,774.5 809.9,774.5 809.9,774.5 810.9,774.5 810.9,775.9 811.9,775.9 811.9,775.9 812.9,775.9 812.9,775.9 813.9,775.9 813.9,774.2 814.9,774.2 814.9,774.2 815.9,774.2 815.9,774.2 816.9,774.2 816.9,775.4 817.9,775.4 817.9,775.4 818.9,775.4 818.9,775.4 819.9,775.4 819.9,773.6 820.9,773.6 820.9,773.6 821.9,773.6 821.9,773.6 822.9,773.6 822.9,773.6 823.9,773.6 823.9,773.6 824.9,773.6 824.9,773.6 825.9,773.6 825.9,774.2 826.9,774.2 826.9,774.3 827.9,774.3 827.9,774.4 828.9,774.4 828.9,774.1 829.9,774.1 829.9,774.2 830.9,774.2 830.9,774.3 831.9,774.3 831.9,774.4 832.9,774.4 832.9,774.5 833.9,774.5 833.9,774.1 834.9,774.1 834.9,774.2 835.9,774.2 835.9,774.3 836.9,774.3 836.9,774.3 837.9,774.3 837.9,774.4 838.9,774.4 838.9,774.5 839.9,774.5 839.9,776.2 840.9,776.2 840.9,776.2 841.9,776.2 841.9,776.2 842.9,776.2 842.9,776.3 843.9,776.3 843.9,776.4 844.9,776.4 844.9,776.5 845.9,776.5 845.9,775.5 846.9,775.5 846.9,775.6 847.9,775.6 847.9,775.7 848.9,775.7 848.9,776.4 849.9,776.4 849.9,776.5 850.9,776.5 850.9,776.6 851.9,776.6 851.9,776.7 852.9,776.7 852.9,775.7 853.9,775.7 853.9,775.8 854.9,775.8 854.9,775.9 855.9,775.9 855.9,776.0 856.9,776.0 856.9,776.1 857.9,776.1 857.9,777.8 858.9,777.8 858.9,778.0 859.9,778.0 859.9,778.1 860.9,778.1 860.9,778.0 861.9,778.0 861.9,778.2 862.9,778.2 862.9,778.1 863.9,778.1 863.9,778.3 864.9,778.3 864.9,779.0 865.9,779.0 865.9,779.2 866.9,779.2 866.9,779.3 867.9,779.3 867.9,779.5 868.9,779.5 868.9,779.6 869.9,779.6 869.9,779.8 870.9,779.8 870.9,778.7 871.9,778.7 871.9,778.8 872.9,778.8 872.9,780.2 873.9,780.2 873.9,780.3 874.9,780.3 874.9,780.5 875.9,780.5 875.9,780.6 876.9,780.6 876.9,780.3 877.9,780.3 877.9,780.5 878.9,780.5 878.9,780.6 879.9,780.6 879.9,780.8 880.9,780.8 880.9,780.9 881.9,780.9 881.9,781.1 882.9,781.1 882.9,782.3 883.9,782.3 883.9,782.5 884.9,782.5 884.9,782.6 885.9,782.6 885.9,782.8 886.9,782.8 886.9,782.9 887.9,782.9 887.9,783.1 888.9,783.1 888.9,783.2 889.9,783.2 889.9,783.4 890.9,783.4 890.9,783.5 891.9,783.5 891.9,782.5 892.9,782.5 892.9,782.7 893.9,782.7 893.9,783.4 894.9,783.4 894.9,783.6 895.9,783.6 895.9,783.9 896.9,783.9 896.9,784.1 897.9,784.1 897.9,784.3 898.9,784.3 898.9,784.5 899.9,784.5 899.9,784.7 900.9,784.7 900.9,784.8 901.9,784.8 901.9,785.0 902.9,785.0 902.9,785.1 903.9,785.1 903.9,785.3 904.9,785.3 904.9,784.5 905.9,784.5 905.9,784.6 906.9,784.6 906.9,784.8 907.9,784.8 907.9,784.6 908.9,784.6 908.9,784.7 909.9,784.7 909.9,784.8 910.9,784.8 910.9,784.9 911.9,784.9 911.9,785.0 912.9,785.0 912.9,785.1 913.9,785.1 913.9,785.5 914.9,785.5 914.9,785.6 915.9,785.6 915.9,785.4 916.9,785.4 916.9,785.5 917.9,785.5 917.9,786.0 918.9,786.0 918.9,786.1 919.9,786.1 919.9,786.4 920.9,786.4 920.9,786.5 921.9,786.5 921.9,786.6 922.9,786.6 922.9,786.7 923.9,786.7 923.9,786.8 924.9,786.8 924.9,786.9 925.9,786.9 925.9,788.6 926.9,788.6 926.9,788.7 927.9,788.7 927.9,788.8 928.9,788.8 928.9,786.2 929.9,786.2 929.9,786.3 930.9,786.3 930.9,786.8 931.9,786.8 931.9,786.9 932.9,786.9 932.9,787.0 933.9,787.0 933.9,786.7 934.9,786.7 934.9,786.6 935.9,786.6 935.9,786.6 936.9,786.6 936.9,786.5 937.9,786.5 937.9,786.5 938.9,786.5 938.9,786.4 939.9,786.4 939.9,787.7 940.9,787.7 940.9,787.6 941.9,787.6 941.9,787.6 942.9,787.6 942.9,786.3 943.9,786.3 943.9,786.2 944.9,786.2 944.9,786.2 945.9,786.2 945.9,786.1 946.9,786.1 946.9,786.7 947.9,786.7 947.9,786.7 948.9,786.7 948.9,786.5 949.9,786.5 949.9,786.5 950.9,786.5 950.9,786.4 951.9,786.4 951.9,786.4 952.9,786.4 952.9,786.3 953.9,786.3 953.9,786.3 954.9,786.3 954.9,786.9 955.9,786.9 955.9,786.8 956.9,786.8 956.9,786.8 957.9,786.8 957.9,786.7 958.9,786.7 958.9,786.7 959.9,786.7 959.9,786.7 960.9,786.7 960.9,786.8 961.9,786.8 961.9,786.9 962.9,786.9 962.9,787.0 963.9,787.0 963.9,785.9 964.9,785.9 964.9,786.0 965.9,786.0 965.9,786.1 966.9,786.1 966.9,786.2 967.9,786.2 967.9,787.3 968.9,787.3 968.9,787.4 969.9,787.4 969.9,787.5 970.9,787.5 970.9,787.6 971.9,787.6 971.9,787.7 972.9,787.7 972.9,787.8 973.9,787.8 973.9,788.5 974.9,788.5 974.9,788.6 975.9,788.6 975.9,788.7 976.9,788.7 976.9,788.7 977.9,788.7 977.9,788.8 978.9,788.8 978.9,788.9 979.9,788.9 979.9,789.0 980.9,789.0 980.9,789.1 981.9,789.1 981.9,789.2 982.9,789.2 982.9,789.7 983.9,789.7 983.9,789.8 984.9,789.8 984.9,789.9 985.9,789.9 985.9,790.0 986.9,790.0 986.9,790.0 987.9,790.0 987.9,788.1 988.9,788.1 988.9,788.2 989.9,788.2 989.9,788.2 990.9,788.2 990.9,788.3 991.9,788.3 991.9,788.3 992.9,788.3 992.9,788.4 993.9,788.4 993.9,789.5 994.9,789.5 994.9,789.6 995.9,789.6 995.9,788.8 996.9,788.8 996.9,788.9 997.9,788.9 997.9,788.9 998.9,788.9 998.9,789.0 999.9,789.0 999.9,789.0 1000.9,789.0 1000.9,789.1 1001.9,789.1 1001.9,789.6 1002.9,789.6 1002.9,789.7 1003.9,789.7 1003.9,789.7 1004.9,789.7 1004.9,790.0 1005.9,790.0 1005.9,790.1 1006.9,790.1 1006.9,790.0 1007.9,790.0 1007.9,790.0 1008.9,790.0 1008.9,790.0 1009.9,790.0 1009.9,790.4 1010.9,790.4 1010.9,790.4 1011.9,790.4 1011.9,813.2 1010.9,813.2 1010.9,813.2 1009.9,813.2 1009.9,813.2 1008.9,813.2 1008.9,813.2 1007.9,813.2 1007.9,813.2 1006.9,813.2 1006.9,813.2 1005.9,813.2 1005.9,813.2 1004.9,813.2 1004.9,813.3 1003.9,813.3 1003.9,811.6 1002.9,811.6 1002.9,811.7 1001.9,811.7 1001.9,811.7 1000.9,811.7 1000.9,811.8 999.9,811.8 999.9,811.9 998.9,811.9 998.9,812.4 997.9,812.4 997.9,812.5 996.9,812.5 996.9,812.6 995.9,812.6 995.9,812.6 994.9,812.6 994.9,812.7 993.9,812.7 993.9,811.9 992.9,811.9 992.9,812.0 991.9,812.0 991.9,812.1 990.9,812.1 990.9,812.1 989.9,812.1 989.9,812.2 988.9,812.2 988.9,813.5 987.9,813.5 987.9,813.6 986.9,813.6 986.9,813.3 985.9,813.3 985.9,813.3 984.9,813.3 984.9,813.3 983.9,813.3 983.9,813.2 982.9,813.2 982.9,812.5 981.9,812.5 981.9,812.4 980.9,812.4 980.9,812.4 979.9,812.4 979.9,812.3 978.9,812.3 978.9,812.3 977.9,812.3 977.9,812.6 976.9,812.6 976.9,812.6 975.9,812.6 975.9,812.5 974.9,812.5 974.9,812.5 973.9,812.5 973.9,812.4 972.9,812.4 972.9,811.7 971.9,811.7 971.9,811.6 970.9,811.6 970.9,811.6 969.9,811.6 969.9,811.5 968.9,811.5 968.9,811.5 967.9,811.5 967.9,812.8 966.9,812.8 966.9,812.8 965.9,812.8 965.9,812.7 964.9,812.7 964.9,812.7 963.9,812.7 963.9,812.7 962.9,812.7 962.9,812.6 961.9,812.6 961.9,812.5 960.9,812.5 960.9,812.5 959.9,812.5 959.9,812.4 958.9,812.4 958.9,810.1 957.9,810.1 957.9,810.0 956.9,810.0 956.9,810.0 955.9,810.0 955.9,809.9 954.9,809.9 954.9,809.9 953.9,809.9 953.9,811.7 952.9,811.7 952.9,811.6 951.9,811.6 951.9,811.6 950.9,811.6 950.9,811.5 949.9,811.5 949.9,811.5 948.9,811.5 948.9,811.4 947.9,811.4 947.9,811.0 946.9,811.0 946.9,811.0 945.9,811.0 945.9,810.9 944.9,810.9 944.9,810.9 943.9,810.9 943.9,811.5 942.9,811.5 942.9,811.5 941.9,811.5 941.9,811.4 940.9,811.4 940.9,811.4 939.9,811.4 939.9,811.3 938.9,811.3 938.9,810.1 937.9,810.1 937.9,810.0 936.9,810.0 936.9,810.0 935.9,810.0 935.9,809.9 934.9,809.9 934.9,810.9 933.9,810.9 933.9,810.9 932.9,810.9 932.9,810.9 931.9,810.9 931.9,810.9 930.9,810.9 930.9,810.8 929.9,810.8 929.9,810.8 928.9,810.8 928.9,810.8 927.9,810.8 927.9,810.8 926.9,810.8 926.9,810.6 925.9,810.6 925.9,810.6 924.9,810.6 924.9,810.6 923.9,810.6 923.9,810.6 922.9,810.6 922.9,810.6 921.9,810.6 921.9,811.0 920.9,811.0 920.9,811.0 919.9,811.0 919.9,811.0 918.9,811.0 918.9,811.0 917.9,811.0 917.9,811.0 916.9,811.0 916.9,811.1 915.9,811.1 915.9,811.1 914.9,811.1 914.9,811.1 913.9,811.1 913.9,811.3 912.9,811.3 912.9,811.3 911.9,811.3 911.9,811.3 910.9,811.3 910.9,811.3 909.9,811.3 909.9,809.6 908.9,809.6 908.9,809.6 907.9,809.6 907.9,809.5 906.9,809.5 906.9,810.9 905.9,810.9 905.9,810.8 904.9,810.8 904.9,810.8 903.9,810.8 903.9,810.7 902.9,810.7 902.9,810.7 901.9,810.7 901.9,810.6 900.9,810.6 900.9,810.7 899.9,810.7 899.9,810.6 898.9,810.6 898.9,810.6 897.9,810.6 897.9,811.1 896.9,811.1 896.9,811.1 895.9,811.1 895.9,809.9 894.9,809.9 894.9,809.9 893.9,809.9 893.9,809.8 892.9,809.8 892.9,809.8 891.9,809.8 891.9,809.7 890.9,809.7 890.9,809.5 889.9,809.5 889.9,809.4 888.9,809.4 888.9,809.4 887.9,809.4 887.9,809.3 886.9,809.3 886.9,809.3 885.9,809.3 885.9,809.6 884.9,809.6 884.9,809.5 883.9,809.5 883.9,809.5 882.9,809.5 882.9,809.3 881.9,809.3 881.9,809.2 880.9,809.2 880.9,808.6 879.9,808.6 879.9,808.5 878.9,808.5 878.9,808.5 877.9,808.5 877.9,808.4 876.9,808.4 876.9,808.4 875.9,808.4 875.9,808.9 874.9,808.9 874.9,808.9 873.9,808.9 873.9,808.8 872.9,808.8 872.9,809.1 871.9,809.1 871.9,809.1 870.9,809.1 870.9,809.0 869.9,809.0 869.9,809.0 868.9,809.0 868.9,808.9 867.9,808.9 867.9,808.4 866.9,808.4 866.9,808.3 865.9,808.3 865.9,808.3 864.9,808.3 864.9,808.3 863.9,808.3 863.9,808.2 862.9,808.2 862.9,808.2 861.9,808.2 861.9,808.6 860.9,808.6 860.9,808.5 859.9,808.5 859.9,808.5 858.9,808.5 858.9,808.4 857.9,808.4 857.9,808.4 856.9,808.4 856.9,808.4 855.9,808.4 855.9,807.4 854.9,807.4 854.9,807.4 853.9,807.4 853.9,807.5 852.9,807.5 852.9,807.5 851.9,807.5 851.9,807.3 850.9,807.3 850.9,807.3 849.9,807.3 849.9,807.4 848.9,807.4 848.9,807.4 847.9,807.4 847.9,807.5 846.9,807.5 846.9,807.5 845.9,807.5 845.9,808.2 844.9,808.2 844.9,808.2 843.9,808.2 843.9,808.6 842.9,808.6 842.9,808.6 841.9,808.6 841.9,808.7 840.9,808.7 840.9,809.1 839.9,809.1 839.9,809.2 838.9,809.2 838.9,809.2 837.9,809.2 837.9,808.8 836.9,808.8 836.9,808.9 835.9,808.9 835.9,808.9 834.9,808.9 834.9,809.0 833.9,809.0 833.9,809.0 832.9,809.0 832.9,809.1 831.9,809.1 831.9,809.1 830.9,809.1 830.9,809.2 829.9,809.2 829.9,808.0 828.9,808.0 828.9,808.0 827.9,808.0 827.9,808.1 826.9,808.1 826.9,808.0 825.9,808.0 825.9,808.0 824.9,808.0 824.9,809.3 823.9,809.3 823.9,809.3 822.9,809.3 822.9,809.2 821.9,809.2 821.9,809.2 820.9,809.2 820.9,809.1 819.9,809.1 819.9,809.0 818.9,809.0 818.9,809.0 817.9,809.0 817.9,807.3 816.9,807.3 816.9,807.3 815.9,807.3 815.9,807.2 814.9,807.2 814.9,807.1 813.9,807.1 813.9,807.1 812.9,807.1 812.9,810.0 811.9,810.0 811.9,810.0 810.9,810.0 810.9,809.9 809.9,809.9 809.9,808.3 808.9,808.3 808.9,808.2 807.9,808.2 807.9,808.2 806.9,808.2 806.9,808.1 805.9,808.1 805.9,808.1 804.9,808.1 804.9,808.0 803.9,808.0 803.9,807.8 802.9,807.8 802.9,807.8 801.9,807.8 801.9,807.7 800.9,807.7 800.9,807.8 799.9,807.8 799.9,807.9 798.9,807.9 798.9,808.0 797.9,808.0 797.9,808.5 796.9,808.5 796.9,808.6 795.9,808.6 795.9,808.7 794.9,808.7 794.9,808.8 793.9,808.8 793.9,808.1 792.9,808.1 792.9,808.2 791.9,808.2 791.9,808.3 790.9,808.3 790.9,808.4 789.9,808.4 789.9,808.5 788.9,808.5 788.9,808.6 787.9,808.6 787.9,809.0 786.9,809.0 786.9,809.1 785.9,809.1 785.9,809.0 784.9,809.0 784.9,809.1 783.9,809.1 783.9,809.2 782.9,809.2 782.9,809.3 781.9,809.3 781.9,809.4 780.9,809.4 780.9,808.9 779.9,808.9 779.9,809.0 778.9,809.0 778.9,809.6 777.9,809.6 777.9,809.7 776.9,809.7 776.9,809.8 775.9,809.8 775.9,809.9 774.9,809.9 774.9,809.8 773.9,809.8 773.9,810.4 772.9,810.4 772.9,810.3 771.9,810.3 771.9,810.2 770.9,810.2 770.9,810.1 769.9,810.1 769.9,810.0 768.9,810.0 768.9,809.9 767.9,809.9 767.9,810.3 766.9,810.3 766.9,810.2 765.9,810.2 765.9,810.1 764.9,810.1 764.9,810.8 763.9,810.8 763.9,810.7 762.9,810.7 762.9,810.6 761.9,810.6 761.9,810.5 760.9,810.5 760.9,809.1 759.9,809.1 759.9,809.0 758.9,809.0 758.9,808.9 757.9,808.9 757.9,808.8 756.9,808.8 756.9,808.8 755.9,808.8 755.9,808.7 754.9,808.7 754.9,807.7 753.9,807.7 753.9,807.6 752.9,807.6 752.9,807.5 751.9,807.5 751.9,807.2 750.9,807.2 750.9,807.1 749.9,807.1 749.9,807.0 748.9,807.0 748.9,806.8 747.9,806.8 747.9,808.2 746.9,808.2 746.9,808.0 745.9,808.0 745.9,807.9 744.9,807.9 744.9,807.3 743.9,807.3 743.9,807.2 742.9,807.2 742.9,807.0 741.9,807.0 741.9,806.8 740.9,806.8 740.9,806.7 739.9,806.7 739.9,806.5 738.9,806.5 738.9,806.2 737.9,806.2 737.9,806.1 736.9,806.1 736.9,807.1 735.9,807.1 735.9,806.9 734.9,806.9 734.9,806.8 733.9,806.8 733.9,804.4 732.9,804.4 732.9,804.3 731.9,804.3 731.9,804.1 730.9,804.1 730.9,804.0 729.9,804.0 729.9,803.8 728.9,803.8 728.9,804.8 727.9,804.8 727.9,804.6 726.9,804.6 726.9,804.5 725.9,804.5 725.9,804.3 724.9,804.3 724.9,804.2 723.9,804.2 723.9,803.7 722.9,803.7 722.9,803.6 721.9,803.6 721.9,803.5 720.9,803.5 720.9,803.4 719.9,803.4 719.9,803.3 718.9,803.3 718.9,803.8 717.9,803.8 717.9,803.7 716.9,803.7 716.9,803.6 715.9,803.6 715.9,803.5 714.9,803.5 714.9,803.4 713.9,803.4 713.9,803.3 712.9,803.3 712.9,804.5 711.9,804.5 711.9,804.4 710.9,804.4 710.9,804.3 709.9,804.3 709.9,804.2 708.9,804.2 708.9,802.9 707.9,802.9 707.9,802.8 706.9,802.8 706.9,802.7 705.9,802.7 705.9,802.6 704.9,802.6 704.9,802.5 703.9,802.5 703.9,802.6 702.9,802.6 702.9,802.5 701.9,802.5 701.9,802.4 700.9,802.4 700.9,802.3 699.9,802.3 699.9,802.2 698.9,802.2 698.9,802.0 697.9,802.0 697.9,800.0 696.9,800.0 696.9,799.2 695.9,799.2 695.9,799.5 694.9,799.5 694.9,798.7 693.9,798.7 693.9,797.9 692.9,797.9 692.9,797.1 691.9,797.1 691.9,796.3 690.9,796.3 690.9,795.2 689.9,795.2 689.9,794.4 688.9,794.4 688.9,793.6 687.9,793.6 687.9,792.8 686.9,792.8 686.9,792.0 685.9,792.0 685.9,790.8 684.9,790.8 684.9,790.2 683.9,790.2 683.9,790.4 682.9,790.4 682.9,789.8 681.9,789.8 681.9,789.2 680.9,789.2 680.9,787.9 679.9,787.9 679.9,787.3 678.9,787.3 678.9,785.8 677.9,785.8 677.9,785.2 676.9,785.2 676.9,784.6 675.9,784.6 675.9,784.0 674.9,784.0 674.9,785.6 673.9,785.6 673.9,785.0 672.9,785.0 672.9,784.6 671.9,784.6 671.9,784.3 670.9,784.3 670.9,783.2 669.9,783.2 669.9,782.9 668.9,782.9 668.9,782.7 667.9,782.7 667.9,782.4 666.9,782.4 666.9,782.1 665.9,782.1 665.9,781.8 664.9,781.8 664.9,781.3 663.9,781.3 663.9,781.0 662.9,781.0 662.9,781.2 661.9,781.2 661.9,781.0 660.9,781.0 660.9,779.0 659.9,779.0 659.9,778.9 658.9,778.9 658.9,778.9 657.9,778.9 657.9,780.4 656.9,780.4 656.9,780.5 655.9,780.5 655.9,780.5 654.9,780.5 654.9,780.6 653.9,780.6 653.9,780.7 652.9,780.7 652.9,781.2 651.9,781.2 651.9,781.2 650.9,781.2 650.9,781.3 649.9,781.3 649.9,781.4 648.9,781.4 648.9,781.4 647.9,781.4 647.9,781.5 646.9,781.5 646.9,780.1 645.9,780.1 645.9,780.1 644.9,780.1 644.9,781.3 643.9,781.3 643.9,781.3 642.9,781.3 642.9,780.1 641.9,780.1 641.9,780.1 640.9,780.1 640.9,780.1 639.9,780.1 639.9,780.2 638.9,780.2 638.9,780.2 637.9,780.2 637.9,780.7 636.9,780.7 636.9,780.7 635.9,780.7 635.9,780.7 634.9,780.7 634.9,780.7 633.9,780.7 633.9,780.9 632.9,780.9 632.9,781.1 631.9,781.1 631.9,782.4 630.9,782.4 630.9,782.6 629.9,782.6 629.9,783.0 628.9,783.0 628.9,783.2 627.9,783.2 627.9,783.4 626.9,783.4 626.9,783.6 625.9,783.6 625.9,783.8 624.9,783.8 624.9,782.7 623.9,782.7 623.9,782.9 622.9,782.9 622.9,783.7 621.9,783.7 621.9,783.9 620.9,783.9 620.9,783.9 619.9,783.9 619.9,783.9 618.9,783.9 618.9,783.9 617.9,783.9 617.9,783.6 616.9,783.6 616.9,783.6 615.9,783.6 615.9,783.6 614.9,783.6 614.9,783.6 613.9,783.6 613.9,783.6 612.9,783.6 612.9,783.6 611.9,783.6 611.9,784.1 610.9,784.1 610.9,784.1 609.9,784.1 609.9,784.1 608.9,784.1 608.9,784.1 607.9,784.1 607.9,784.4 606.9,784.4 606.9,784.3 605.9,784.3 605.9,784.2 604.9,784.2 604.9,784.1 603.9,784.1 603.9,782.7 602.9,782.7 602.9,782.6 601.9,782.6 601.9,782.5 600.9,782.5 600.9,782.4 599.9,782.4 599.9,781.7 598.9,781.7 598.9,781.6 597.9,781.6 597.9,783.1 596.9,783.1 596.9,783.0 595.9,783.0 595.9,782.9 594.9,782.9 594.9,782.8 593.9,782.8 593.9,779.7 592.9,779.7 592.9,779.1 591.9,779.1 591.9,778.6 590.9,778.6 590.9,778.0 589.9,778.0 589.9,777.4 588.9,777.4 588.9,779.0 587.9,779.0 587.9,774.7 586.9,774.7 586.9,772.9 585.9,772.9 585.9,772.7 584.9,772.7 584.9,772.4 583.9,772.4 583.9,772.3 582.9,772.3 582.9,772.1 581.9,772.1 581.9,771.9 580.9,771.9 580.9,771.5 579.9,771.5 579.9,771.2 578.9,771.2 578.9,770.8 577.9,770.8 577.9,770.4 576.9,770.4 576.9,770.0 575.9,770.0 575.9,769.6 574.9,769.6 574.9,768.9 573.9,768.9 573.9,768.5 572.9,768.5 572.9,768.1 571.9,768.1 571.9,767.7 570.9,767.7 570.9,767.3 569.9,767.3 569.9,766.7 568.9,766.7 568.9,766.3 567.9,766.3 567.9,765.9 566.9,765.9 566.9,765.6 565.9,765.6 565.9,765.2 564.9,765.2 564.9,765.7 563.9,765.7 563.9,765.3 562.9,765.3 562.9,763.4 561.9,763.4 561.9,763.0 560.9,763.0 560.9,762.6 559.9,762.6 559.9,763.1 558.9,763.1 558.9,762.7 557.9,762.7 557.9,762.3 556.9,762.3 556.9,761.9 555.9,761.9 555.9,761.5 554.9,761.5 554.9,761.1 553.9,761.1 553.9,761.1 552.9,761.1 552.9,760.7 551.9,760.7 551.9,760.3 550.9,760.3 550.9,760.0 549.9,760.0 549.9,759.6 548.9,759.6 548.9,757.3 547.9,757.3 547.9,756.9 546.9,756.9 546.9,756.5 545.9,756.5 545.9,759.0 544.9,759.0 544.9,758.6 543.9,758.6 543.9,755.9 542.9,755.9 542.9,755.5 541.9,755.5 541.9,755.1 540.9,755.1 540.9,754.7 539.9,754.7 539.9,756.1 538.9,756.1 538.9,755.7 537.9,755.7 537.9,755.3 536.9,755.3 536.9,754.9 535.9,754.9 535.9,754.5 534.9,754.5 534.9,754.1 533.9,754.1 533.9,753.0 532.9,753.0 532.9,752.6 531.9,752.6 531.9,752.2 530.9,752.2 530.9,751.8 529.9,751.8 529.9,751.5 528.9,751.5 528.9,751.6 527.9,751.6 527.9,751.4 526.9,751.4 526.9,751.2 525.9,751.2 525.9,749.2 524.9,749.2 524.9,749.0 523.9,749.0 523.9,750.6 522.9,750.6 522.9,750.4 521.9,750.4 521.9,750.2 520.9,750.2 520.9,750.0 519.9,750.0 519.9,748.5 518.9,748.5 518.9,748.3 517.9,748.3 517.9,748.1 516.9,748.1 516.9,748.0 515.9,748.0 515.9,748.0 514.9,748.0 514.9,748.0 513.9,748.0 513.9,748.0 512.9,748.0 512.9,748.9 511.9,748.9 511.9,748.9 510.9,748.9 510.9,748.5 509.9,748.5 509.9,748.5 508.9,748.5 508.9,748.5 507.9,748.5 507.9,750.0 506.9,750.0 506.9,750.0 505.9,750.0 505.9,750.0 504.9,750.0 504.9,750.0 503.9,750.0 503.9,749.4 502.9,749.4 502.9,749.5 501.9,749.5 501.9,749.6 500.9,749.6 500.9,749.9 499.9,749.9 499.9,750.0 498.9,750.0 498.9,750.1 497.9,750.1 497.9,748.5 496.9,748.5 496.9,748.6 495.9,748.6 495.9,749.1 494.9,749.1 494.9,749.2 493.9,749.2 493.9,749.3 492.9,749.3 492.9,749.5 491.9,749.5 491.9,749.6 490.9,749.6 490.9,749.7 489.9,749.7 489.9,750.5 488.9,750.5 488.9,750.6 487.9,750.6 487.9,750.7 486.9,750.7 486.9,750.8 485.9,750.8 485.9,750.9 484.9,750.9 484.9,750.4 483.9,750.4 483.9,750.5 482.9,750.5 482.9,750.6 481.9,750.6 481.9,750.7 480.9,750.7 480.9,752.2 479.9,752.2 479.9,752.3 478.9,752.3 478.9,752.4 477.9,752.4 477.9,752.5 476.9,752.5 476.9,752.0 475.9,752.0 475.9,752.2 474.9,752.2 474.9,753.1 473.9,753.1 473.9,753.2 472.9,753.2 472.9,753.4 471.9,753.4 471.9,753.5 470.9,753.5 470.9,752.2 469.9,752.2 469.9,752.4 468.9,752.4 468.9,752.8 467.9,752.8 467.9,752.9 466.9,752.9 466.9,753.1 465.9,753.1 465.9,753.2 464.9,753.2 464.9,753.4 463.9,753.4 463.9,753.6 462.9,753.6 462.9,753.7 461.9,753.7 461.9,755.0 460.9,755.0 460.9,755.1 459.9,755.1 459.9,754.5 458.9,754.5 458.9,754.6 457.9,754.6 457.9,754.8 456.9,754.8 456.9,754.9 455.9,754.9 455.9,754.5 454.9,754.5 454.9,754.6 453.9,754.6 453.9,754.8 452.9,754.8 452.9,754.8 451.9,754.8 451.9,754.1 450.9,754.1 450.9,754.1 449.9,754.1 449.9,755.6 448.9,755.6 448.9,755.6 447.9,755.6 447.9,755.6 446.9,755.6 446.9,755.6 445.9,755.6 445.9,755.6 444.9,755.6 444.9,755.6 443.9,755.6 443.9,754.5 442.9,754.5 442.9,754.5 441.9,754.5 441.9,754.5 440.9,754.5 440.9,754.5 439.9,754.5 439.9,754.4 438.9,754.4 438.9,754.8 437.9,754.8 437.9,754.6 436.9,754.6 436.9,753.2 435.9,753.2 435.9,753.0 434.9,753.0 434.9,752.8 433.9,752.8 433.9,752.7 432.9,752.7 432.9,754.4 431.9,754.4 431.9,754.2 430.9,754.2 430.9,753.1 429.9,753.1 429.9,752.9 428.9,752.9 428.9,752.7 427.9,752.7 427.9,752.5 426.9,752.5 426.9,752.4 425.9,752.4 425.9,752.3 424.9,752.3 424.9,753.5 423.9,753.5 423.9,753.4 422.9,753.4 422.9,752.7 421.9,752.7 421.9,752.7 420.9,752.7 420.9,752.6 419.9,752.6 419.9,752.6 418.9,752.6 418.9,752.5 417.9,752.5 417.9,751.9 416.9,751.9 416.9,751.9 415.9,751.9 415.9,751.8 414.9,751.8 414.9,751.7 413.9,751.7 413.9,751.6 412.9,751.6 412.9,751.6 411.9,751.6 411.9,751.5 410.9,751.5 410.9,751.5 409.9,751.5 409.9,751.4 408.9,751.4 408.9,751.5 407.9,751.5 407.9,751.5 406.9,751.5 406.9,751.4 405.9,751.4 405.9,751.4 404.9,751.4 404.9,751.3 403.9,751.3 403.9,752.6 402.9,752.6 402.9,752.5 401.9,752.5 401.9,752.5 400.9,752.5 400.9,752.5 399.9,752.5 399.9,752.5 398.9,752.5 398.9,751.3 397.9,751.3 397.9,751.3 396.9,751.3 396.9,751.3 395.9,751.3 395.9,751.3 394.9,751.3 394.9,751.3 393.9,751.3 393.9,752.0 392.9,752.0 392.9,752.0 391.9,752.0 391.9,752.0 390.9,752.0 390.9,750.6 389.9,750.6 389.9,750.6 388.9,750.6 388.9,750.6 387.9,750.6 387.9,750.6 386.9,750.6 386.9,752.7 385.9,752.7 385.9,752.7 384.9,752.7 384.9,752.7 383.9,752.7 383.9,752.7 382.9,752.7 382.9,752.7 381.9,752.7 381.9,751.3 380.9,751.3 380.9,751.3 379.9,751.3 379.9,751.3 378.9,751.3 378.9,751.3 377.9,751.3 377.9,751.1 376.9,751.1 376.9,751.1 375.9,751.1 375.9,751.2 374.9,751.2 374.9,751.6 373.9,751.6 373.9,752.1 372.9,752.1 372.9,752.6 371.9,752.6 371.9,752.8 370.9,752.8 370.9,753.2 369.9,753.2 369.9,753.7 368.9,753.7 368.9,754.1 367.9,754.1 367.9,754.5 366.9,754.5 366.9,754.6 365.9,754.6 365.9,755.1 364.9,755.1 364.9,755.5 363.9,755.5 363.9,761.1 362.9,761.1 362.9,770.2 361.9,770.2 361.9,771.9 360.9,771.9 360.9,771.6 359.9,771.6 359.9,772.9 358.9,772.9 358.9,772.3 357.9,772.3 357.9,771.8 356.9,771.8 356.9,771.6 355.9,771.6 355.9,771.6 354.9,771.6 354.9,771.2 353.9,771.2 353.9,771.2 352.9,771.2 352.9,771.1 351.9,771.1 351.9,771.1 350.9,771.1 350.9,771.0 349.9,771.0 349.9,772.0 348.9,772.0 348.9,771.9 347.9,771.9 347.9,770.6 346.9,770.6 346.9,770.5 345.9,770.5 345.9,770.5 344.9,770.5 344.9,770.0 343.9,770.0 343.9,769.9 342.9,769.9 342.9,769.9 341.9,769.9 341.9,769.8 340.9,769.8 340.9,769.8 339.9,769.8 339.9,769.7 338.9,769.7 338.9,770.1 337.9,770.1 337.9,770.1 336.9,770.1 336.9,768.5 335.9,768.5 335.9,768.5 334.9,768.5 334.9,768.4 333.9,768.4 333.9,768.4 332.9,768.4 332.9,768.7 331.9,768.7 331.9,768.7 330.9,768.7 330.9,768.9 329.9,768.9 329.9,769.0 328.9,769.0 328.9,769.0 327.9,769.0 327.9,769.1 326.9,769.1 326.9,770.2 325.9,770.2 325.9,770.2 324.9,770.2 324.9,770.3 323.9,770.3 323.9,770.3 322.9,770.3 322.9,770.4 321.9,770.4 321.9,771.2 320.9,771.2 320.9,771.2 319.9,771.2 319.9,770.0 318.9,770.0 318.9,770.1 317.9,770.1 317.9,770.1 316.9,770.1 316.9,770.2 315.9,770.2 315.9,770.2 314.9,770.2 314.9,769.8 313.9,769.8 313.9,769.9 312.9,769.9 312.9,769.9 311.9,769.9 311.9,770.0 310.9,770.0 310.9,770.5 309.9,770.5 309.9,770.6 308.9,770.6 308.9,770.6 307.9,770.6 307.9,769.5 306.9,769.5 306.9,769.6 305.9,769.6 305.9,769.6 304.9,769.6 304.9,769.8 303.9,769.8 303.9,770.0 302.9,770.0 302.9,771.3 301.9,771.3 301.9,771.5 300.9,771.5 300.9,771.7 299.9,771.7 299.9,772.1 298.9,772.1 298.9,772.2 297.9,772.2 297.9,772.4 296.9,772.4 296.9,773.7 295.9,773.7 295.9,773.9 294.9,773.9 294.9,774.1 293.9,774.1 293.9,773.8 292.9,773.8 292.9,773.9 291.9,773.9 291.9,774.1 290.9,774.1 290.9,774.3 289.9,774.3 289.9,774.5 288.9,774.5 288.9,774.9 287.9,774.9 287.9,775.0 286.9,775.0 286.9,775.2 285.9,775.2 285.9,775.4 284.9,775.4 284.9,775.6 283.9,775.6 283.9,774.7 282.9,774.7 282.9,774.9 281.9,774.9 281.9,773.9 280.9,773.9 280.9,774.1 279.9,774.1 279.9,774.1 278.9,774.1 278.9,774.2 277.9,774.2 277.9,774.2 276.9,774.2 276.9,776.4 275.9,776.4 275.9,776.4 274.9,776.4 274.9,776.2 273.9,776.2 273.9,776.2 272.9,776.2 272.9,776.2 271.9,776.2 271.9,776.2 270.9,776.2 270.9,776.2 269.9,776.2 269.9,776.3 268.9,776.3 268.9,775.6 267.9,775.6 267.9,775.6 266.9,775.6 266.9,775.6 265.9,775.6 265.9,775.7 264.9,775.7 264.9,775.7 263.9,775.7 263.9,775.7 262.9,775.7 262.9,775.5 261.9,775.5 261.9,775.5 260.9,775.5 260.9,775.5 259.9,775.5 259.9,775.5 258.9,775.5 258.9,776.1 257.9,776.1 257.9,776.1 256.9,776.1 256.9,776.2 255.9,776.2 255.9,776.7 254.9,776.7 254.9,776.7 253.9,776.7 253.9,775.8 252.9,775.8 252.9,775.8 251.9,775.8 251.9,775.7 250.9,775.7 250.9,774.7 249.9,774.7 249.9,774.6 248.9,774.6 248.9,774.6 247.9,774.6 247.9,776.2 246.9,776.2 246.9,776.2 245.9,776.2 245.9,773.8 244.9,773.8 244.9,773.8 243.9,773.8 243.9,773.7 242.9,773.7 242.9,773.7 241.9,773.7 241.9,773.6 240.9,773.6 240.9,773.6 239.9,773.6 239.9,775.6 238.9,775.6 238.9,775.6 237.9,775.6 237.9,775.5 236.9,775.5 236.9,775.5 235.9,775.5 235.9,775.4 234.9,775.4 234.9,775.4 233.9,775.4 233.9,775.9 232.9,775.9 232.9,775.8 231.9,775.8 231.9,773.8 230.9,773.8 230.9,773.7 229.9,773.7 229.9,773.9 228.9,773.9 228.9,773.7 227.9,773.7 227.9,773.2 226.9,773.2 226.9,772.7 225.9,772.7 225.9,772.8 224.9,772.8 224.9,772.3 223.9,772.3 223.9,773.4 222.9,773.4 222.9,772.9 221.9,772.9 221.9,772.4 220.9,772.4 220.9,771.9 219.9,771.9 219.9,771.4 218.9,771.4 218.9,770.9 217.9,770.9 217.9,770.1 216.9,770.1 216.9,769.6 215.9,769.6 215.9,769.1 214.9,769.1 214.9,767.6 213.9,767.6 213.9,767.1 212.9,767.1 212.9,766.6 211.9,766.6 211.9,766.1 210.9,766.1 210.9,765.6 209.9,765.6 209.9,763.6 208.9,763.6 208.9,763.1 207.9,763.1 207.9,762.6 206.9,762.6 206.9,762.1 205.9,762.1 205.9,761.6 204.9,761.6 204.9,761.1 203.9,761.1 203.9,762.8 202.9,762.8 202.9,762.3 201.9,762.3 201.9,761.7 200.9,761.7 200.9,761.2 199.9,761.2 199.9,760.6 198.9,760.6 198.9,760.0 197.9,760.0 197.9,759.1 196.9,759.1 196.9,758.5 195.9,758.5 195.9,758.0 194.9,758.0 194.9,757.4 193.9,757.4 193.9,756.8 192.9,756.8 192.9,754.7 191.9,754.7 191.9,754.1 190.9,754.1 190.9,753.6 189.9,753.6 189.9,753.0 188.9,753.0 188.9,752.4 187.9,752.4 187.9,751.8 186.9,751.8 186.9,753.0 185.9,753.0 185.9,752.5 184.9,752.5 184.9,752.3 183.9,752.3 183.9,751.7 182.9,751.7 182.9,751.9 181.9,751.9 181.9,752.7 180.9,752.7 180.9,752.9 179.9,752.9 179.9,753.1 178.9,753.1 178.9,751.6 177.9,751.6 177.9,751.8 176.9,751.8 176.9,752.9 175.9,752.9 175.9,754.4 174.9,754.4 174.9,755.9 173.9,755.9 173.9,758.7 172.9,758.7 172.9,760.2 171.9,760.2 171.9,761.3 170.9,761.3 170.9,760.5 169.9,760.5 169.9,761.3 168.9,761.3 168.9,762.0 167.9,762.0 167.9,762.8 166.9,762.8 166.9,762.6 165.9,762.6 165.9,762.7 164.9,762.7 164.9,761.7 163.9,761.7 163.9,760.7 162.9,760.7 162.9,759.7 161.9,759.7 161.9,758.8 160.9,758.8 160.9,757.8 159.9,757.8 159.9,757.7 158.9,757.7 158.9,756.7 157.9,756.7 157.9,755.7 156.9,755.7 156.9,754.7 155.9,754.7 155.9,753.5 154.9,753.5 154.9,752.5 153.9,752.5 153.9,751.5 152.9,751.5 152.9,750.3 151.9,750.3 151.9,749.3 150.9,749.3 150.9,747.8 149.9,747.8 149.9,746.4 148.9,746.4 148.9,745.8 147.9,745.8 147.9,744.4 146.9,744.4 146.9,743.0 145.9,743.0 145.9,741.6 144.9,741.6 144.9,740.2 143.9,740.2 143.9,738.8 142.9,738.8 142.9,737.5 141.9,737.5 141.9,736.0 140.9,736.0 140.9,734.6 139.9,734.6 139.9,733.2 138.9,733.2 138.9,731.9 137.9,731.9 137.9,731.0 136.9,731.0 136.9,730.0 135.9,730.0 135.9,729.0 134.9,729.0 134.9,728.0 133.9,728.0 133.9,727.0 132.9,727.0 132.9,725.6 131.9,725.6 131.9,726.3 130.9,726.3 130.9,726.8 129.9,726.8 129.9,728.2 128.9,728.2 128.9,729.6 127.9,729.6 127.9,731.0 126.9,731.0 126.9,732.4 125.9,732.4 125.9,731.3 124.9,731.3 124.9,730.1 123.9,730.1 123.9,729.0 122.9,729.0 122.9,727.8 121.9,727.8 121.9,726.7 120.9,726.7 120.9,725.5 119.9,725.5 119.9,725.3 118.9,725.3 118.9,724.4 117.9,724.4 117.9,723.5 116.9,723.5 116.9,722.7 115.9,722.7 115.9,721.3 114.9,721.3 114.9,720.5 113.9,720.5 113.9,719.6 112.9,719.6 112.9,719.2 111.9,719.2 111.9,719.3 110.9,719.3 110.9,720.9 109.9,720.9 109.9,720.9 108.9,720.9 108.9,720.9 107.9,720.9 107.9,720.8 106.9,720.8 106.9,719.6 105.9,719.6 105.9,718.2 104.9,718.2 104.9,716.9 103.9,716.9" fill="#2E83EE"/>
<polygon points="1012.0,789.1 1012.8,782.5 1013.6,779.2 1014.4,778.3 1015.2,778.2 1016.0,778.4 1016.8,777.9 1017.6,777.7 1018.4,777.6 1019.2,778.0 1020.0,777.7 1020.8,778.3 1021.6,777.8 1022.4,778.7 1023.2,778.5 1024.0,777.4 1024.8,778.5 1024.8,809.7 1024.0,810.3 1023.2,810.2 1022.4,810.3 1021.6,809.4 1020.8,810.2 1020.0,809.5 1019.2,810.2 1018.4,810.0 1017.6,810.3 1016.8,810.4 1016.0,810.0 1015.2,810.8 1014.4,810.6 1013.6,811.1 1012.8,811.8 1012.0,811.3" fill="#4b90ea"/>
<rect x="237.4" y="737.0" width="3" height="36.2" fill="#2E83EE"/>
<rect x="288.8" y="743.8" width="3" height="37.7" fill="#2E83EE"/>
<rect x="316.5" y="742.3" width="3" height="39.2" fill="#2E83EE"/>
<rect x="334.3" y="733.6" width="3" height="34.2" fill="#2E83EE"/>
<rect x="359.7" y="735.5" width="3" height="35.5" fill="#2E83EE"/>
<rect x="445.2" y="713.0" width="4" height="40.4" fill="#2E83EE"/>
<rect x="740.1" y="772.9" width="3.4" height="58.4" fill="#2E83EE"/>
<rect x="774.2" y="765.0" width="3" height="43.7" fill="#2E83EE"/>
<rect x="782.0" y="774.9" width="3" height="41.1" fill="#2E83EE"/>
<rect x="815.9" y="776.7" width="3.4" height="58.4" fill="#2E83EE"/>
<rect x="822.8" y="751.6" width="3.6" height="55.7" fill="#2E83EE"/>
<rect x="865.6" y="770.9" width="3.6" height="51.4" fill="#2E83EE"/>
<rect x="698.0" y="767.8" width="4" height="38.2" fill="#2E83EE"/>
<rect x="717.5" y="762.5" width="5" height="39.4" fill="#2E83EE"/>
<rect x="704.0" y="768.4" width="4" height="35.6" fill="#2E83EE"/>
<rect x="361.6" y="663.7" width="226.2" height="211.8" fill="#cccccc" fill-opacity="0.31"/>
<rect x="1012.2" y="663.7" width="8.2" height="211.8" fill="#cccccc" fill-opacity="0.17"/>
<text x="106.6" y="912.6" font-size="28.8" text-anchor="middle">0</text>
<text x="220.9" y="912.6" font-size="28.8" text-anchor="middle">1000</text>
<text x="335.3" y="912.6" font-size="28.8" text-anchor="middle">2000</text>
<text x="449.6" y="912.6" font-size="28.8" text-anchor="middle">3000</text>
<text x="564.0" y="912.6" font-size="28.8" text-anchor="middle">4000</text>
<text x="678.4" y="912.6" font-size="28.8" text-anchor="middle">5000</text>
<text x="792.7" y="912.6" font-size="28.8" text-anchor="middle">6000</text>
<text x="907.1" y="912.6" font-size="28.8" text-anchor="middle">7000</text>
<text x="1021.4" y="912.6" font-size="28.8" text-anchor="middle">8000</text>
<text x="97.6" y="675.5" font-size="28.8" text-anchor="end">1.92</text>
<text x="97.6" y="759.6" font-size="28.8" text-anchor="end">1.9</text>
<text x="97.6" y="843.7" font-size="28.8" text-anchor="end">1.88</text>
<text x="107.5" y="660.9" font-size="35">×</text>
<text x="132.0" y="656.9" font-size="27.6">10</text>
<text x="160.6" y="644.1" font-size="24.2">-5</text>
<text transform="translate(33.2,768.9) rotate(-90)" font-size="31.6" text-anchor="middle" textLength="260.5" lengthAdjust="spacing">Accleleration <tspan font-size="35" dy="1.4">[</tspan><tspan dy="-1.4">m/s</tspan><tspan dy="-14.5" font-size="27">2</tspan><tspan dy="15.9" font-size="35">]</tspan></text>
<rect x="846.7" y="678.6" width="156.6" height="38.2" fill="#fff" stroke="#262626" stroke-width="1.4"/>
<line x1="854.1" x2="923.1" y1="697.7" y2="697.7" stroke="#2E83EE" stroke-width="4"/>
<text x="929.9" y="706.4" font-size="25.9" textLength="66.8" lengthAdjust="spacing">Radial</text>
</g>
<text x="565.4" y="953" font-size="31.6" text-anchor="middle" textLength="111" lengthAdjust="spacing">Time [s]</text>
</g>
</svg>
</body></html>
